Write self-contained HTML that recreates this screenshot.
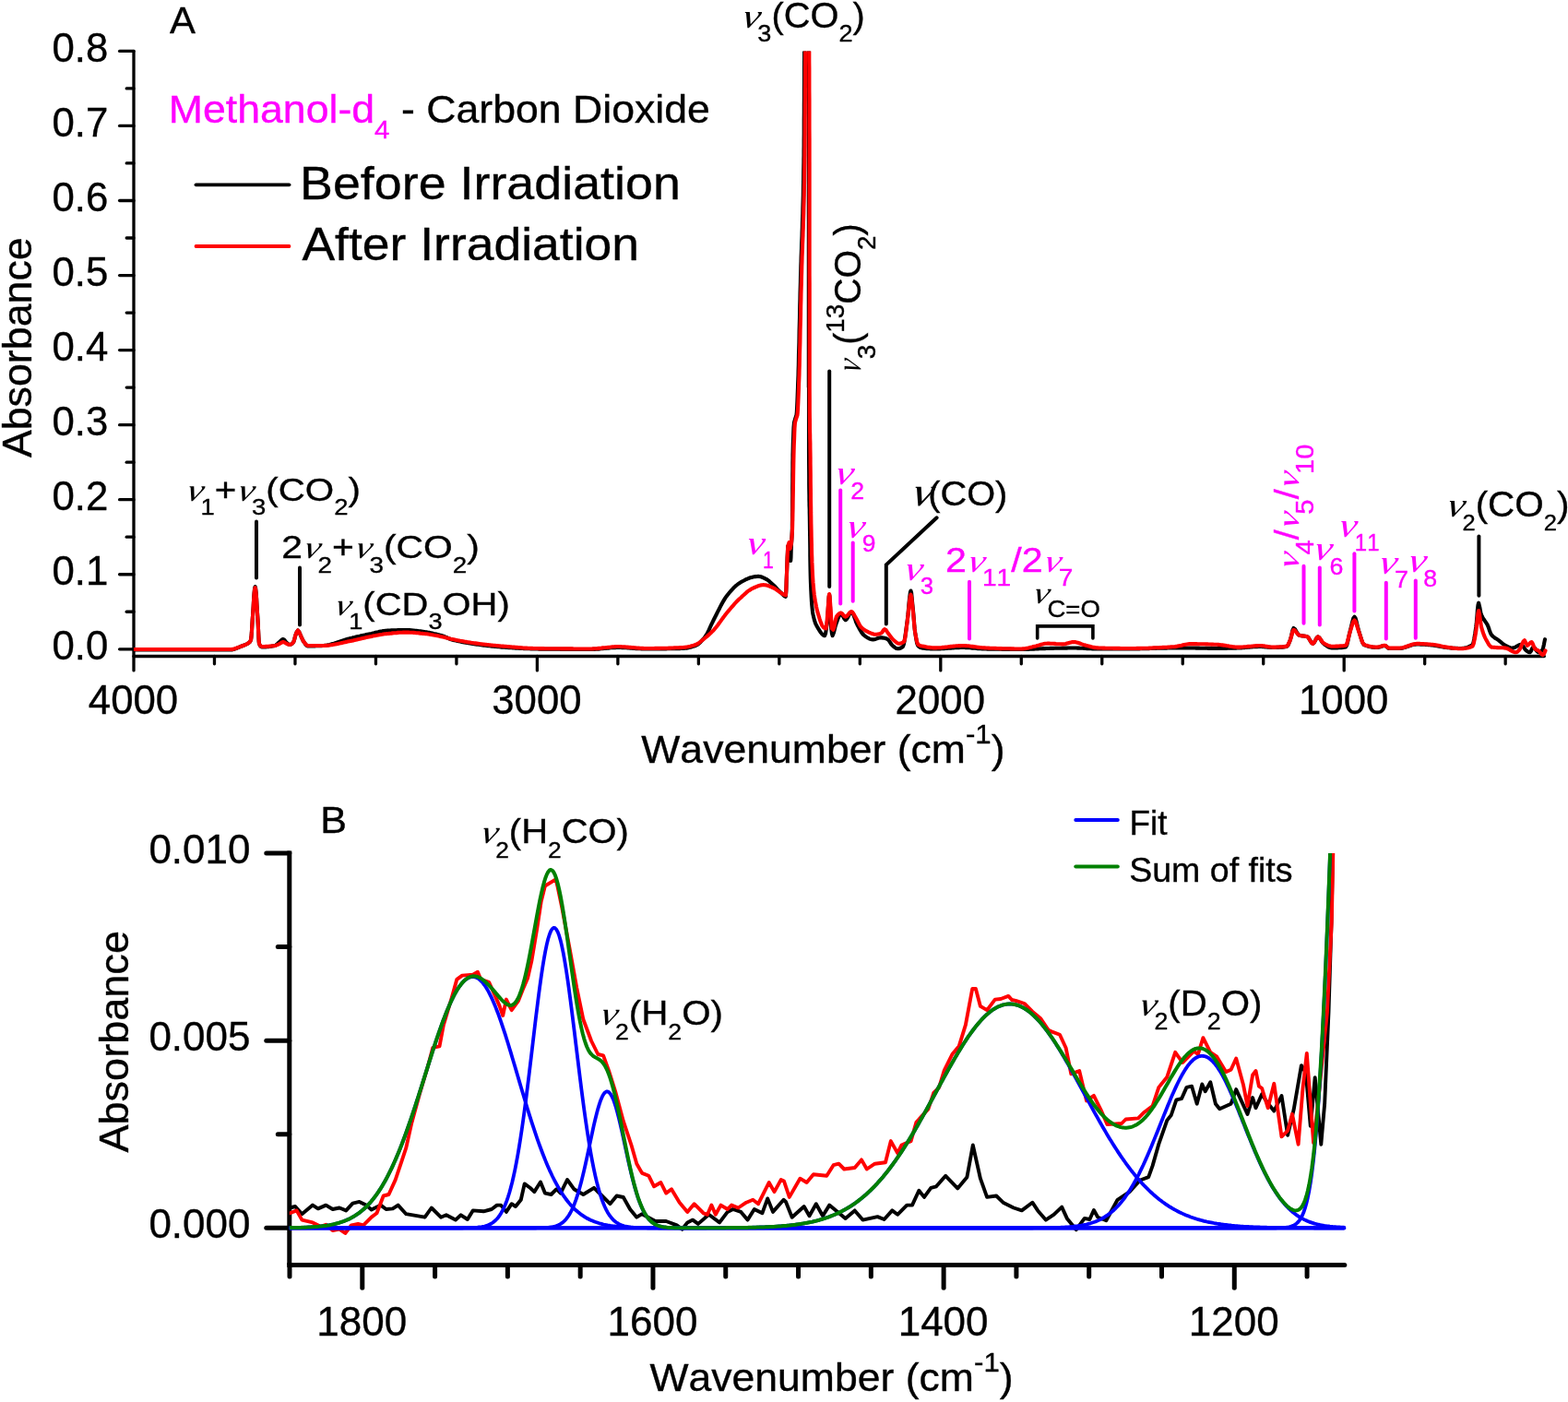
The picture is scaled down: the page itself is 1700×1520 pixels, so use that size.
<!DOCTYPE html>
<html lang="en"><head><meta charset="utf-8"><title>Infrared spectra</title>
<style>
html,body{margin:0;padding:0;background:#fff}
svg{display:block}
text{font-family:"Liberation Sans", Arial, sans-serif;white-space:pre;font-kerning:none}
.n{font-family:"Liberation Serif", "Times New Roman", serif}
</style></head><body>
<svg width="1700" height="1520" viewBox="0 0 1700 1520" role="img" aria-label="Infrared spectra of methanol-d4 and carbon dioxide ice before and after irradiation">
<rect width="1700" height="1520" fill="#fff"/>
<!-- panel A -->
<g stroke="#000" stroke-width="3.30" stroke-linecap="round" fill="none">
<path d="M145.00 55.40 V726.90"/>
<path d="M145.00 711.50 H1674.35"/>
<path d="M129.60 703.80 H145.00"/>
<path d="M137.20 663.27 H145.00"/>
<path d="M129.60 622.75 H145.00"/>
<path d="M137.20 582.22 H145.00"/>
<path d="M129.60 541.70 H145.00"/>
<path d="M137.20 501.17 H145.00"/>
<path d="M129.60 460.65 H145.00"/>
<path d="M137.20 420.12 H145.00"/>
<path d="M129.60 379.60 H145.00"/>
<path d="M137.20 339.07 H145.00"/>
<path d="M129.60 298.55 H145.00"/>
<path d="M137.20 258.02 H145.00"/>
<path d="M129.60 217.50 H145.00"/>
<path d="M137.20 176.97 H145.00"/>
<path d="M129.60 136.45 H145.00"/>
<path d="M137.20 95.92 H145.00"/>
<path d="M129.60 55.40 H145.00"/>
<path d="M232.48 711.50 V719.80"/>
<path d="M319.96 711.50 V719.80"/>
<path d="M407.44 711.50 V719.80"/>
<path d="M494.92 711.50 V719.80"/>
<path d="M582.40 711.50 V726.90"/>
<path d="M669.88 711.50 V719.80"/>
<path d="M757.36 711.50 V719.80"/>
<path d="M844.84 711.50 V719.80"/>
<path d="M932.32 711.50 V719.80"/>
<path d="M1019.80 711.50 V726.90"/>
<path d="M1107.28 711.50 V719.80"/>
<path d="M1194.76 711.50 V719.80"/>
<path d="M1282.24 711.50 V719.80"/>
<path d="M1369.72 711.50 V719.80"/>
<path d="M1457.20 711.50 V726.90"/>
<path d="M1544.68 711.50 V719.80"/>
<path d="M1632.16 711.50 V719.80"/>
</g>
<g font-size="43.8" fill="#000" stroke="#000" stroke-width="0.35">
<text x="117.3" y="715.00" text-anchor="end">0.0</text>
<text x="117.3" y="633.95" text-anchor="end">0.1</text>
<text x="117.3" y="552.90" text-anchor="end">0.2</text>
<text x="117.3" y="471.85" text-anchor="end">0.3</text>
<text x="117.3" y="390.80" text-anchor="end">0.4</text>
<text x="117.3" y="309.75" text-anchor="end">0.5</text>
<text x="117.3" y="228.70" text-anchor="end">0.6</text>
<text x="117.3" y="147.65" text-anchor="end">0.7</text>
<text x="117.3" y="66.60" text-anchor="end">0.8</text>
<text x="144.50" y="773.6" text-anchor="middle">4000</text>
<text x="581.90" y="773.6" text-anchor="middle">3000</text>
<text x="1019.30" y="773.6" text-anchor="middle">2000</text>
<text x="1456.70" y="773.6" text-anchor="middle">1000</text>
</g>
<clipPath id="ca"><rect x="145.0" y="55.5" width="1533.0" height="665.0"/></clipPath>
<g clip-path="url(#ca)">
<polyline points="145.0,704.5 146.5,704.5 148.0,704.5 149.5,704.5 150.9,704.5 152.4,704.5 153.9,704.5 155.4,704.5 156.9,704.5 158.4,704.5 159.9,704.5 161.4,704.5 162.8,704.5 164.3,704.5 165.8,704.5 167.3,704.5 168.8,704.5 170.3,704.5 171.8,704.5 173.2,704.5 174.7,704.5 176.2,704.5 177.7,704.5 179.2,704.5 180.7,704.5 182.2,704.5 183.6,704.5 185.1,704.5 186.6,704.5 188.1,704.5 189.6,704.5 191.1,704.5 192.6,704.5 194.1,704.5 195.5,704.5 197.0,704.5 198.5,704.5 200.0,704.5 201.5,704.5 202.9,704.5 204.4,704.5 205.9,704.5 207.4,704.5 208.8,704.5 210.3,704.5 211.8,704.5 213.2,704.5 214.7,704.5 216.2,704.5 217.6,704.5 219.1,704.5 220.6,704.5 222.1,704.5 223.5,704.5 225.0,704.5 226.5,704.5 227.9,704.5 229.4,704.5 230.9,704.5 232.4,704.5 233.8,704.5 235.3,704.5 236.8,704.5 238.2,704.5 239.7,704.5 241.2,704.5 242.6,704.5 244.1,704.5 245.6,704.5 247.1,704.5 248.5,704.5 250.0,704.5 251.5,704.4 253.0,704.1 254.5,703.6 256.0,703.1 257.5,702.4 259.0,701.8 260.5,701.1 262.0,700.5 263.5,700.0 265.0,699.4 266.5,698.8 268.0,698.0 269.3,697.2 270.7,696.1 272.0,694.0 272.4,691.1 272.9,685.3 273.3,678.3 273.7,672.0 274.2,665.1 274.7,657.2 275.1,649.4 275.6,642.6 276.1,637.8 276.6,636.0 277.1,637.7 277.6,642.2 278.1,648.7 278.5,656.3 279.0,664.4 279.5,672.0 279.8,677.4 280.1,684.0 280.4,690.4 280.7,695.5 281.0,698.0 282.5,700.7 284.0,701.5 285.4,701.5 286.8,701.4 288.2,701.4 289.6,701.3 291.0,701.1 292.4,701.0 293.8,700.8 295.2,700.5 296.6,700.3 298.0,700.0 299.2,699.4 300.5,698.3 301.8,697.1 303.0,696.0 304.3,694.8 305.7,693.5 307.0,693.0 308.3,693.8 309.7,695.5 311.0,697.0 312.5,698.3 314.0,699.0 315.4,698.6 316.9,697.6 318.3,696.0 319.3,692.8 320.3,689.0 321.6,685.4 323.0,683.5 324.5,685.5 326.0,689.0 327.4,692.2 328.8,695.0 330.1,696.9 331.4,698.7 332.7,700.0 334.0,700.5 335.5,700.5 336.9,700.5 338.4,700.5 339.8,700.4 341.3,700.4 342.7,700.3 344.2,700.3 345.6,700.2 347.1,700.1 348.5,700.1 350.0,700.0 351.5,699.9 353.0,699.7 354.5,699.5 356.0,699.2 357.5,698.9 359.0,698.5 360.5,698.1 362.0,697.7 363.5,697.2 365.0,696.7 366.5,696.2 368.0,695.7 369.5,695.2 371.0,694.7 372.5,694.2 374.0,693.7 375.5,693.2 377.0,692.8 378.5,692.4 380.0,692.0 381.4,691.7 382.9,691.3 384.3,691.0 385.7,690.6 387.1,690.3 388.6,690.0 390.0,689.7 391.4,689.3 392.9,689.0 394.3,688.7 395.7,688.4 397.1,688.1 398.6,687.8 400.0,687.5 401.4,687.2 402.9,686.9 404.3,686.5 405.7,686.2 407.1,685.8 408.6,685.5 410.0,685.2 411.4,684.8 412.9,684.5 414.3,684.3 415.7,684.0 417.1,683.9 418.6,683.7 420.0,683.6 421.4,683.5 422.9,683.5 424.3,683.4 425.7,683.3 427.1,683.3 428.6,683.2 430.0,683.2 431.4,683.1 432.9,683.1 434.3,683.1 435.7,683.0 437.1,683.0 438.6,683.0 440.0,683.0 441.4,683.0 442.9,683.1 444.3,683.1 445.7,683.2 447.1,683.4 448.6,683.5 450.0,683.7 451.4,683.8 452.9,684.0 454.3,684.2 455.7,684.4 457.1,684.6 458.6,684.8 460.0,685.0 461.4,685.2 462.9,685.4 464.3,685.7 465.7,685.9 467.1,686.2 468.6,686.5 470.0,686.9 471.4,687.2 472.9,687.5 474.3,687.9 475.7,688.3 477.1,688.7 478.6,689.1 480.0,689.5 481.4,690.0 482.9,690.6 484.3,691.2 485.7,691.9 487.1,692.5 488.6,693.0 490.0,693.5 491.5,693.9 493.0,694.3 494.5,694.6 496.0,695.0 497.5,695.3 499.0,695.6 500.5,695.9 502.0,696.2 503.5,696.5 505.0,696.8 506.5,697.0 508.0,697.3 509.5,697.5 511.0,697.7 512.5,698.0 514.0,698.2 515.5,698.4 517.0,698.6 518.5,698.8 520.0,699.0 521.5,699.2 523.0,699.4 524.5,699.6 526.0,699.7 527.5,699.9 529.0,700.1 530.5,700.3 532.0,700.4 533.5,700.6 535.0,700.7 536.5,700.9 538.0,701.0 539.5,701.2 541.0,701.3 542.5,701.4 544.0,701.6 545.5,701.7 547.0,701.8 548.5,701.9 550.0,702.0 551.5,702.1 553.0,702.2 554.5,702.3 556.0,702.4 557.5,702.5 559.0,702.6 560.5,702.7 562.0,702.8 563.5,702.9 565.0,702.9 566.5,703.0 568.0,703.1 569.5,703.2 571.0,703.2 572.5,703.3 574.0,703.3 575.5,703.4 577.0,703.4 578.5,703.5 580.0,703.5 581.5,703.5 583.0,703.5 584.5,703.6 586.0,703.6 587.5,703.6 589.0,703.6 590.5,703.7 592.0,703.7 593.5,703.7 595.0,703.7 596.5,703.7 598.0,703.7 599.5,703.8 601.0,703.8 602.5,703.8 604.0,703.8 605.5,703.8 607.0,703.8 608.5,703.9 610.0,703.9 611.5,703.9 613.0,703.9 614.5,703.9 616.0,703.9 617.5,703.9 619.0,703.9 620.5,703.9 622.0,704.0 623.5,704.0 625.0,704.0 626.5,704.0 628.0,704.0 629.5,704.0 631.0,704.0 632.5,704.0 634.0,704.0 635.5,704.0 637.0,704.0 638.5,704.0 640.0,704.0 641.5,704.0 643.0,703.9 644.5,703.9 646.0,703.8 647.5,703.7 649.0,703.6 650.5,703.4 652.0,703.3 653.5,703.1 655.0,703.0 656.5,702.9 658.0,702.7 659.5,702.6 661.0,702.4 662.5,702.3 664.0,702.2 665.5,702.1 667.0,702.1 668.5,702.0 670.0,702.0 671.5,702.0 673.0,702.0 674.5,702.1 676.0,702.2 677.5,702.2 679.0,702.3 680.5,702.4 682.0,702.5 683.5,702.6 685.0,702.8 686.5,702.9 688.0,703.0 689.5,703.1 691.0,703.2 692.5,703.3 694.0,703.3 695.5,703.4 697.0,703.5 698.5,703.5 700.0,703.5 701.5,703.5 703.0,703.5 704.4,703.5 705.9,703.5 707.4,703.5 708.9,703.5 710.4,703.5 711.9,703.5 713.3,703.5 714.8,703.4 716.3,703.4 717.8,703.4 719.3,703.4 720.7,703.4 722.2,703.4 723.7,703.3 725.2,703.3 726.7,703.3 728.1,703.3 729.6,703.2 731.1,703.2 732.6,703.2 734.1,703.1 735.6,703.1 737.0,703.1 738.5,703.0 740.0,703.0 741.4,702.9 742.8,702.8 744.2,702.6 745.6,702.4 747.0,702.1 748.4,701.7 749.8,701.4 751.2,700.9 752.6,700.5 754.0,700.0 755.4,699.3 756.9,698.4 758.3,697.2 759.7,695.9 761.1,694.4 762.6,692.7 764.0,691.0 765.4,689.0 766.9,686.4 768.3,683.6 769.7,680.5 771.1,677.4 772.6,674.3 774.0,671.5 775.4,668.8 776.8,666.0 778.2,663.2 779.6,660.5 781.0,657.7 782.4,655.0 783.8,652.5 785.2,650.1 786.6,647.9 788.0,646.0 789.4,644.2 790.8,642.5 792.2,640.9 793.6,639.3 795.0,637.8 796.4,636.4 797.8,635.1 799.2,634.0 800.6,632.9 802.0,632.0 803.5,631.1 804.9,630.3 806.4,629.5 807.8,628.7 809.2,628.0 810.7,627.4 812.1,626.8 813.6,626.3 815.0,625.9 816.5,625.6 817.9,625.3 819.2,625.1 820.6,625.0 822.0,624.9 823.4,625.0 824.9,625.3 826.3,625.8 827.7,626.4 829.2,627.1 830.6,627.8 832.0,628.6 833.4,629.6 834.8,630.9 836.2,632.2 837.6,633.5 839.0,634.8 840.4,636.1 841.8,637.6 843.2,639.1 844.7,640.6 846.1,642.0 847.5,643.3 848.9,644.8 850.4,646.2 851.8,646.8 852.0,645.3 852.3,641.2 852.5,635.5 852.7,628.9 853.0,622.3 853.2,616.5 853.4,611.0 853.6,604.7 853.9,598.8 854.1,594.2 854.3,592.0 855.6,590.0 856.1,594.7 856.7,603.3 857.2,608.0 857.5,604.5 857.7,597.1 858.0,590.0 858.3,585.6 858.5,581.5 858.8,575.0 858.9,572.6 858.9,568.8 859.0,563.9 859.0,558.1 859.1,551.6 859.1,544.5 859.2,537.1 859.2,529.5 859.3,522.1 859.3,514.9 859.4,508.2 859.4,502.1 859.5,496.9 859.5,492.8 859.6,490.0 859.8,481.3 860.1,474.0 860.3,468.1 860.5,463.4 860.8,460.1 861.0,458.0 862.2,453.9 863.5,450.0 863.8,447.0 864.1,441.9 864.4,435.3 864.7,427.8 865.0,420.0 865.1,415.9 865.3,411.4 865.5,406.5 865.6,401.3 865.8,395.8 865.9,390.0 866.0,383.9 866.2,377.7 866.4,371.2 866.5,364.7 866.6,358.0 866.8,351.3 867.0,344.6 867.1,337.9 867.2,331.2 867.4,324.7 867.5,318.2 867.7,311.9 867.9,305.9 868.0,300.0 868.2,294.0 868.3,288.5 868.5,283.3 868.6,278.5 868.8,273.8 869.0,269.3 869.1,264.9 869.3,260.5 869.5,256.0 869.6,251.5 869.8,246.8 869.9,241.9 870.1,236.6 870.3,231.0 870.4,225.0 870.6,218.5 870.8,211.3 870.9,203.6 871.1,195.2 871.2,186.0 871.4,176.0 871.4,172.8 871.5,168.7 871.5,163.8 871.6,158.2 871.6,152.0 871.7,145.2 871.7,138.0 871.7,130.3 871.8,122.4 871.8,114.2 871.9,105.9 871.9,97.5 872.0,89.1 872.0,80.9 872.0,72.8 872.1,65.0 872.1,57.6 872.2,50.6 872.2,44.1 872.2,38.2 872.3,33.0 872.3,28.5 872.4,24.9 872.4,22.2 872.5,20.6 872.5,20.0 873.9,20.0 875.4,20.0 876.8,20.0 876.8,20.3 876.8,21.0 876.8,22.3 876.8,24.1 876.8,26.4 876.8,29.0 876.8,32.2 876.8,35.7 876.8,39.7 876.8,44.1 876.8,48.8 876.8,53.9 876.8,59.3 876.8,65.1 876.8,71.2 876.8,77.5 876.8,84.2 876.8,91.1 876.8,98.3 876.8,105.6 876.8,113.3 876.8,121.1 876.8,129.0 876.8,137.2 876.8,145.5 876.8,154.0 876.8,162.5 876.8,171.2 876.8,179.9 876.8,188.8 876.8,197.7 876.8,206.6 876.8,215.5 876.8,224.5 876.8,233.4 876.8,242.3 876.8,251.2 876.8,260.1 876.8,268.8 876.8,277.5 876.8,286.0 876.8,294.5 876.8,302.8 876.8,311.0 876.8,318.9 876.8,326.7 876.8,334.4 876.8,341.7 876.8,348.9 876.8,355.8 876.8,362.5 876.8,368.8 876.8,374.9 876.8,380.7 876.8,386.1 876.8,391.2 876.8,395.9 876.8,400.3 876.8,404.3 876.8,407.8 876.8,411.0 876.8,413.6 876.8,415.9 876.8,417.7 876.8,419.0 876.8,419.7 876.8,420.0 876.9,419.6 876.9,418.3 876.9,416.3 876.9,413.5 876.9,410.0 876.9,405.9 876.9,401.1 876.9,395.8 876.9,389.9 876.9,383.5 876.9,376.7 876.9,369.5 876.9,362.0 876.9,354.1 876.9,345.9 876.9,337.5 876.9,328.9 876.9,320.2 876.9,311.4 876.9,302.5 876.9,293.5 876.9,284.6 876.9,275.8 876.9,267.1 876.9,258.5 876.9,250.1 876.9,241.9 877.0,234.0 877.0,226.5 877.0,219.3 877.0,212.5 877.0,206.1 877.0,200.2 877.0,194.9 877.0,190.1 877.0,186.0 877.0,182.5 877.0,179.7 877.0,177.7 877.0,176.4 877.0,176.0 877.0,176.3 877.0,177.3 877.0,178.9 877.0,181.0 877.0,183.8 877.0,187.0 877.0,190.8 877.0,195.1 877.0,199.8 877.0,204.9 877.0,210.5 877.0,216.5 877.0,222.8 877.0,229.5 877.0,236.5 877.0,243.8 877.0,251.3 877.0,259.1 877.0,267.1 877.0,275.3 877.0,283.6 877.0,292.1 877.0,300.7 877.0,309.4 877.0,318.2 877.0,327.0 877.0,335.8 877.0,344.6 877.0,353.4 877.0,362.1 877.0,370.8 877.0,379.3 877.0,387.7 877.0,396.0 877.0,404.0 877.0,411.9 877.0,419.5 877.0,426.9 877.0,434.0 877.0,440.8 877.0,447.3 877.0,453.4 877.0,459.1 877.0,464.4 877.0,469.3 877.0,473.7 877.0,477.7 877.0,481.2 877.0,484.1 877.0,486.4 877.0,488.2 877.0,489.4 877.0,490.0 877.1,504.5 877.2,516.1 877.2,525.3 877.3,532.4 877.4,537.8 877.4,541.8 877.5,545.0 877.5,547.6 877.6,550.0 877.7,552.6 877.7,555.8 877.8,560.0 877.9,567.1 878.0,574.4 878.1,581.6 878.2,588.8 878.3,595.7 878.3,602.4 878.4,608.7 878.5,614.5 878.6,619.6 878.7,624.1 878.8,627.8 878.9,630.6 879.3,640.2 879.7,648.2 880.1,654.6 880.6,659.6 881.0,663.3 881.4,665.9 882.8,671.9 884.2,676.1 885.7,679.0 887.1,681.4 888.5,683.6 889.9,685.8 891.3,687.5 892.7,688.7 894.1,689.2 895.1,686.7 896.0,680.7 897.0,673.0 897.4,667.9 897.8,660.6 898.3,653.0 898.7,647.1 899.1,644.7 899.4,646.4 899.7,651.0 900.0,657.3 900.3,664.6 900.6,671.6 900.9,677.6 901.2,681.4 901.9,686.7 902.6,689.2 904.0,685.7 905.4,680.0 906.8,675.5 908.3,671.3 909.7,668.0 910.8,666.0 911.8,665.0 913.0,666.1 914.2,668.6 915.5,671.1 916.7,672.2 918.0,671.3 919.3,669.1 920.5,666.6 921.8,664.4 923.1,663.5 924.4,664.6 925.6,667.2 926.9,670.7 928.1,674.3 929.4,677.2 930.8,679.9 932.2,682.5 933.7,685.0 935.1,687.0 936.5,688.5 937.9,689.6 939.3,690.6 940.7,691.5 942.2,692.3 943.6,692.9 945.0,693.3 946.4,693.4 947.8,693.2 949.2,692.9 950.6,692.4 952.0,691.8 953.4,691.5 954.8,691.3 956.2,691.4 957.6,691.6 959.1,691.8 960.5,692.2 961.9,692.7 963.3,693.9 964.7,695.9 966.1,698.1 967.5,699.8 968.9,701.0 970.4,702.1 971.8,703.0 973.2,703.3 974.6,703.2 976.0,702.8 977.4,702.1 978.8,701.2 979.8,698.8 980.8,693.8 981.8,687.0 982.8,679.4 983.8,672.0 984.4,666.7 985.0,660.0 985.6,653.0 986.3,646.8 986.9,642.2 987.5,640.5 988.1,642.5 988.6,647.5 989.2,653.9 989.8,660.0 990.3,665.1 990.8,670.9 991.2,676.7 991.7,682.0 992.2,686.0 993.2,692.2 994.1,697.2 995.1,699.8 996.3,701.0 997.5,701.8 998.8,702.3 1000.0,702.6 1001.5,702.8 1003.0,703.0 1004.5,703.1 1006.0,703.2 1007.5,703.3 1009.0,703.4 1010.5,703.5 1012.0,703.5 1013.5,703.5 1015.0,703.5 1016.4,703.5 1017.9,703.4 1019.3,703.4 1020.8,703.3 1022.2,703.2 1023.7,703.1 1025.1,703.0 1026.6,702.9 1028.0,702.8 1029.5,702.7 1030.9,702.6 1032.4,702.5 1033.8,702.4 1035.3,702.3 1036.7,702.2 1038.2,702.1 1039.6,702.1 1041.1,702.0 1042.5,702.0 1044.0,702.0 1045.5,702.0 1047.0,702.1 1048.4,702.1 1049.9,702.2 1051.4,702.3 1052.8,702.4 1054.3,702.6 1055.8,702.7 1057.3,702.8 1058.8,702.9 1060.2,703.1 1061.7,703.2 1063.2,703.3 1064.6,703.4 1066.1,703.5 1067.6,703.5 1069.1,703.5 1070.6,703.6 1072.0,703.6 1073.5,703.6 1075.0,703.7 1076.5,703.7 1078.0,703.7 1079.5,703.7 1080.9,703.8 1082.4,703.8 1083.9,703.8 1085.4,703.8 1086.9,703.9 1088.3,703.9 1089.8,703.9 1091.3,703.9 1092.8,703.9 1094.3,703.9 1095.7,703.9 1097.2,704.0 1098.7,704.0 1100.2,704.0 1101.7,704.0 1103.2,704.0 1104.6,704.0 1106.1,704.0 1107.6,704.0 1109.1,704.0 1110.6,704.0 1112.1,703.9 1113.6,703.9 1115.0,703.9 1116.5,703.8 1118.0,703.8 1119.5,703.7 1121.0,703.6 1122.5,703.5 1124.0,703.5 1125.5,703.4 1127.0,703.3 1128.5,703.3 1129.9,703.2 1131.4,703.1 1132.9,703.1 1134.4,703.0 1135.9,703.0 1137.4,703.0 1138.9,702.9 1140.3,702.9 1141.8,702.9 1143.3,702.8 1144.8,702.8 1146.3,702.7 1147.7,702.7 1149.2,702.7 1150.7,702.7 1152.2,702.6 1153.6,702.6 1155.1,702.6 1156.6,702.6 1158.1,702.5 1159.6,702.5 1161.0,702.5 1162.5,702.5 1164.0,702.5 1165.4,702.5 1166.9,702.5 1168.3,702.6 1169.8,702.6 1171.2,702.7 1172.7,702.8 1174.1,702.8 1175.6,702.9 1177.0,703.0 1178.4,703.1 1179.9,703.2 1181.3,703.2 1182.8,703.3 1184.2,703.4 1185.7,703.4 1187.1,703.5 1188.6,703.5 1190.0,703.5 1191.5,703.5 1192.9,703.5 1194.4,703.5 1195.8,703.5 1197.3,703.5 1198.8,703.5 1200.2,703.5 1201.7,703.5 1203.1,703.5 1204.6,703.5 1206.0,703.5 1207.5,703.5 1209.0,703.5 1210.4,703.5 1211.9,703.5 1213.3,703.5 1214.8,703.5 1216.2,703.5 1217.7,703.5 1219.2,703.5 1220.6,703.5 1222.1,703.5 1223.5,703.5 1225.0,703.5 1226.5,703.5 1227.9,703.5 1229.4,703.5 1230.9,703.5 1232.3,703.4 1233.8,703.4 1235.3,703.4 1236.8,703.3 1238.2,703.3 1239.7,703.3 1241.2,703.2 1242.6,703.2 1244.1,703.1 1245.6,703.1 1247.0,703.0 1248.5,703.0 1250.0,703.0 1251.4,702.9 1252.9,702.9 1254.4,702.8 1255.8,702.8 1257.3,702.7 1258.8,702.7 1260.2,702.7 1261.7,702.6 1263.2,702.6 1264.7,702.6 1266.1,702.5 1267.6,702.5 1269.1,702.5 1270.5,702.5 1272.0,702.5 1273.5,702.5 1274.9,702.5 1276.4,702.5 1277.8,702.5 1279.3,702.5 1280.8,702.5 1282.2,702.5 1283.7,702.5 1285.2,702.5 1286.6,702.5 1288.1,702.5 1289.5,702.5 1291.0,702.5 1292.5,702.5 1293.9,702.5 1295.4,702.5 1296.9,702.6 1298.4,702.6 1299.8,702.6 1301.3,702.7 1302.8,702.7 1304.3,702.7 1305.7,702.8 1307.2,702.8 1308.7,702.8 1310.2,702.9 1311.6,702.9 1313.1,702.9 1314.6,703.0 1316.1,703.0 1317.5,703.0 1319.0,703.0 1320.5,703.0 1322.0,703.0 1323.5,703.0 1325.0,703.0 1326.5,702.9 1328.0,702.9 1329.5,702.9 1331.0,702.8 1332.5,702.8 1334.0,702.8 1335.5,702.7 1337.0,702.7 1338.5,702.6 1340.0,702.6 1341.5,702.5 1343.0,702.5 1344.4,702.4 1345.9,702.4 1347.3,702.3 1348.8,702.2 1350.2,702.0 1351.6,701.9 1353.1,701.8 1354.5,701.7 1355.9,701.5 1357.4,701.4 1358.8,701.3 1360.2,701.2 1361.7,701.1 1363.1,701.1 1364.6,701.0 1366.0,701.0 1367.4,701.0 1368.8,701.1 1370.2,701.2 1371.6,701.4 1373.0,701.5 1374.4,701.6 1375.8,701.8 1377.2,701.9 1378.6,702.0 1380.0,702.0 1381.5,702.0 1383.0,702.0 1384.5,701.9 1386.0,701.9 1387.5,701.8 1389.0,701.7 1390.5,701.6 1392.0,701.4 1393.5,701.2 1395.0,701.0 1396.3,699.8 1397.5,697.1 1398.8,694.0 1400.1,689.3 1401.3,683.7 1402.6,681.0 1404.0,682.1 1405.4,684.5 1406.8,687.0 1408.2,688.5 1409.5,688.9 1410.9,689.2 1412.2,689.4 1413.6,689.5 1414.9,689.7 1416.3,690.0 1417.6,690.4 1419.0,691.9 1420.4,694.4 1421.9,696.8 1423.3,697.9 1424.7,696.7 1426.1,694.2 1427.5,691.6 1428.9,690.4 1430.3,691.3 1431.8,693.4 1433.2,695.8 1434.6,697.5 1435.9,698.5 1437.3,699.5 1438.6,700.5 1440.0,701.3 1441.3,701.9 1442.7,702.3 1444.0,702.5 1445.5,702.5 1447.0,702.5 1448.5,702.4 1450.0,702.4 1451.5,702.3 1453.0,702.2 1454.5,702.1 1456.0,701.9 1457.5,701.7 1459.0,701.5 1460.2,699.4 1461.4,694.7 1462.6,689.0 1463.8,684.0 1465.0,679.3 1466.2,674.3 1467.3,670.3 1468.5,668.7 1469.7,670.4 1470.8,674.6 1472.0,679.7 1473.2,684.0 1474.6,688.5 1476.0,693.2 1477.4,697.1 1478.8,699.0 1480.2,699.6 1481.6,700.1 1483.0,700.6 1484.4,701.0 1485.8,701.3 1487.3,701.6 1488.7,701.8 1490.1,701.9 1491.5,702.0 1492.9,702.0 1494.3,701.9 1495.7,701.5 1497.2,701.0 1498.6,700.5 1500.0,700.1 1501.4,700.0 1502.6,700.5 1503.7,701.5 1504.8,702.5 1506.0,703.0 1507.4,703.0 1508.8,703.0 1510.1,703.0 1511.5,703.0 1512.9,703.0 1514.2,703.0 1515.6,703.0 1517.0,703.0 1518.5,702.9 1519.9,702.7 1521.4,702.4 1522.8,702.0 1524.3,701.5 1525.8,701.0 1527.2,700.5 1528.7,700.0 1530.2,699.5 1531.6,699.1 1533.1,698.8 1534.5,698.6 1536.0,698.5 1537.4,698.5 1538.8,698.5 1540.2,698.6 1541.7,698.6 1543.1,698.7 1544.5,698.8 1545.9,698.9 1547.3,699.0 1548.8,699.1 1550.2,699.3 1551.6,699.4 1553.0,699.5 1554.5,699.7 1556.0,699.9 1557.5,700.1 1559.0,700.4 1560.5,700.7 1562.0,701.0 1563.5,701.3 1565.0,701.6 1566.5,701.8 1568.0,702.0 1569.5,702.1 1571.0,702.3 1572.5,702.4 1574.0,702.6 1575.5,702.7 1577.0,702.8 1578.5,702.9 1580.0,702.9 1581.5,703.0 1583.0,703.0 1584.5,703.0 1586.0,702.8 1587.5,702.6 1589.0,702.3 1590.5,701.9 1592.0,701.4 1593.5,700.7 1595.0,699.9 1596.5,699.0 1597.4,696.8 1598.3,692.3 1599.3,686.3 1600.2,680.0 1600.8,674.8 1601.4,667.9 1601.9,661.0 1602.5,655.7 1603.1,653.6 1604.3,658.4 1605.5,665.0 1606.6,667.6 1607.6,669.7 1608.7,671.5 1610.0,673.4 1611.2,675.2 1612.5,677.2 1613.7,679.9 1614.8,683.2 1616.0,686.4 1617.2,688.5 1618.7,690.0 1620.2,691.2 1621.7,692.2 1623.2,693.1 1624.7,694.1 1626.2,695.3 1627.7,696.6 1629.2,697.8 1630.7,698.9 1632.2,699.8 1633.5,700.4 1634.7,701.1 1636.0,701.7 1637.3,702.2 1638.5,702.5 1639.8,702.6 1641.1,702.4 1642.5,701.8 1643.8,701.1 1645.2,700.3 1646.5,699.6 1647.9,699.0 1649.2,698.8 1650.6,699.7 1652.0,701.6 1653.4,703.8 1654.8,705.4 1656.1,706.3 1657.3,707.0 1658.6,707.3 1659.9,705.8 1661.1,703.1 1662.4,701.6 1663.8,702.5 1665.2,704.5 1666.6,706.4 1668.0,707.3 1669.3,707.1 1670.5,706.4 1671.8,705.4 1672.9,703.1 1673.9,698.7 1675.0,693.2" fill="none" stroke="#000" stroke-width="4.10" stroke-linejoin="round" stroke-linecap="round" />
<polyline points="145.0,704.0 146.5,704.0 148.0,704.0 149.5,704.0 150.9,704.0 152.4,704.0 153.9,704.0 155.4,704.0 156.9,704.0 158.4,704.0 159.9,704.0 161.4,704.0 162.8,704.0 164.3,704.0 165.8,704.0 167.3,704.0 168.8,704.0 170.3,704.0 171.8,704.0 173.2,704.0 174.7,704.0 176.2,704.0 177.7,704.0 179.2,704.0 180.7,704.0 182.2,704.0 183.6,704.0 185.1,704.0 186.6,704.0 188.1,704.0 189.6,704.0 191.1,704.0 192.6,704.0 194.1,704.0 195.5,704.0 197.0,704.0 198.5,704.0 200.0,704.0 201.5,704.0 202.9,704.0 204.4,704.0 205.9,704.0 207.4,704.0 208.8,704.0 210.3,704.0 211.8,704.0 213.2,704.0 214.7,704.0 216.2,704.0 217.6,704.0 219.1,704.0 220.6,704.0 222.1,704.0 223.5,704.0 225.0,704.0 226.5,704.0 227.9,704.0 229.4,704.0 230.9,704.0 232.4,704.0 233.8,704.0 235.3,704.0 236.8,704.0 238.2,704.0 239.7,704.0 241.2,704.0 242.6,704.0 244.1,704.0 245.6,704.0 247.1,704.0 248.5,704.0 250.0,704.0 251.5,703.9 253.0,703.7 254.5,703.3 256.0,702.8 257.5,702.2 259.0,701.6 260.5,701.1 262.0,700.5 263.5,700.0 265.0,699.4 266.5,698.8 268.0,698.0 269.3,697.2 270.7,696.1 272.0,694.0 272.4,691.1 272.9,685.2 273.3,678.3 273.7,672.0 274.2,665.2 274.7,657.5 275.1,650.0 275.6,643.4 276.1,638.8 276.6,637.0 277.1,638.6 277.6,643.0 278.1,649.2 278.5,656.7 279.0,664.5 279.5,672.0 279.8,677.4 280.1,684.0 280.4,690.5 280.7,695.6 281.0,698.0 282.5,700.3 284.0,701.0 285.4,701.0 286.8,701.0 288.2,700.9 289.6,700.8 291.0,700.7 292.4,700.6 293.8,700.5 295.2,700.3 296.6,700.2 298.0,700.0 299.2,699.7 300.5,699.2 301.8,698.6 303.0,698.0 304.3,697.2 305.7,696.4 307.0,696.0 308.3,696.4 309.7,697.2 311.0,698.0 312.5,698.6 314.0,699.0 315.4,698.6 316.9,697.6 318.3,696.0 319.3,692.8 320.3,689.0 321.6,685.4 323.0,683.5 324.5,685.5 326.0,689.0 327.4,692.2 328.8,695.0 330.1,696.8 331.4,698.4 332.7,699.6 334.0,700.0 335.5,700.0 336.9,700.0 338.4,700.0 339.8,700.0 341.3,700.0 342.7,700.0 344.2,700.0 345.6,700.0 347.1,700.0 348.5,700.0 350.0,700.0 351.5,700.0 353.0,699.9 354.5,699.8 356.0,699.7 357.5,699.5 359.0,699.3 360.5,699.1 362.0,698.8 363.5,698.5 365.0,698.2 366.5,697.9 368.0,697.6 369.5,697.3 371.0,696.9 372.5,696.6 374.0,696.3 375.5,695.9 377.0,695.6 378.5,695.3 380.0,695.0 381.4,694.7 382.9,694.4 384.3,694.1 385.7,693.8 387.1,693.4 388.6,693.1 390.0,692.8 391.4,692.4 392.9,692.1 394.3,691.7 395.7,691.4 397.1,691.1 398.6,690.8 400.0,690.5 401.4,690.2 402.9,689.9 404.3,689.6 405.7,689.3 407.1,689.1 408.6,688.8 410.0,688.5 411.4,688.2 412.9,688.0 414.3,687.8 415.7,687.5 417.1,687.3 418.6,687.2 420.0,687.0 421.4,686.9 422.9,686.7 424.3,686.6 425.7,686.4 427.1,686.3 428.6,686.2 430.0,686.1 431.4,685.9 432.9,685.8 434.3,685.8 435.7,685.7 437.1,685.6 438.6,685.6 440.0,685.6 441.4,685.6 442.9,685.6 444.3,685.7 445.7,685.8 447.1,685.8 448.6,685.9 450.0,686.0 451.4,686.2 452.9,686.3 454.3,686.4 455.7,686.6 457.1,686.7 458.6,686.9 460.0,687.0 461.4,687.2 462.9,687.3 464.3,687.5 465.7,687.7 467.1,688.0 468.6,688.2 470.0,688.5 471.4,688.7 472.9,689.0 474.3,689.3 475.7,689.6 477.1,689.9 478.6,690.2 480.0,690.5 481.4,690.8 482.9,691.2 484.3,691.6 485.7,691.9 487.1,692.3 488.6,692.7 490.0,693.0 491.5,693.3 493.0,693.6 494.5,693.9 496.0,694.2 497.5,694.5 499.0,694.8 500.5,695.0 502.0,695.3 503.5,695.6 505.0,695.8 506.5,696.1 508.0,696.3 509.5,696.5 511.0,696.8 512.5,697.0 514.0,697.2 515.5,697.4 517.0,697.6 518.5,697.8 520.0,698.0 521.5,698.2 523.0,698.4 524.5,698.5 526.0,698.7 527.5,698.9 529.0,699.0 530.5,699.2 532.0,699.4 533.5,699.5 535.0,699.7 536.5,699.8 538.0,700.0 539.5,700.1 541.0,700.2 542.5,700.4 544.0,700.5 545.5,700.6 547.0,700.8 548.5,700.9 550.0,701.0 551.5,701.1 553.0,701.2 554.5,701.4 556.0,701.5 557.5,701.6 559.0,701.8 560.5,701.9 562.0,702.0 563.5,702.1 565.0,702.2 566.5,702.4 568.0,702.5 569.5,702.6 571.0,702.6 572.5,702.7 574.0,702.8 575.5,702.9 577.0,702.9 578.5,703.0 580.0,703.0 581.5,703.0 583.0,703.0 584.5,703.1 586.0,703.1 587.5,703.1 589.0,703.1 590.5,703.2 592.0,703.2 593.5,703.2 595.0,703.2 596.5,703.2 598.0,703.3 599.5,703.3 601.0,703.3 602.5,703.3 604.0,703.3 605.5,703.3 607.0,703.3 608.5,703.4 610.0,703.4 611.5,703.4 613.0,703.4 614.5,703.4 616.0,703.4 617.5,703.4 619.0,703.4 620.5,703.4 622.0,703.5 623.5,703.5 625.0,703.5 626.5,703.5 628.0,703.5 629.5,703.5 631.0,703.5 632.5,703.5 634.0,703.5 635.5,703.5 637.0,703.5 638.5,703.5 640.0,703.5 641.5,703.5 643.0,703.4 644.5,703.3 646.0,703.2 647.5,703.1 649.0,702.9 650.5,702.7 652.0,702.6 653.5,702.4 655.0,702.3 656.5,702.2 658.0,702.0 659.5,701.8 661.0,701.7 662.5,701.5 664.0,701.3 665.5,701.2 667.0,701.1 668.5,701.0 670.0,701.0 671.5,701.0 673.0,701.1 674.5,701.2 676.0,701.3 677.5,701.4 679.0,701.5 680.5,701.6 682.0,701.8 683.5,701.9 685.0,702.0 686.5,702.1 688.0,702.2 689.5,702.4 691.0,702.5 692.5,702.6 694.0,702.7 695.5,702.8 697.0,702.9 698.5,703.0 700.0,703.0 701.5,703.0 703.0,703.0 704.4,703.0 705.9,703.0 707.4,703.0 708.9,703.0 710.4,702.9 711.9,702.9 713.3,702.9 714.8,702.9 716.3,702.8 717.8,702.8 719.3,702.8 720.7,702.7 722.2,702.7 723.7,702.7 725.2,702.6 726.7,702.6 728.1,702.5 729.6,702.5 731.1,702.4 732.6,702.3 734.1,702.3 735.6,702.2 737.0,702.1 738.5,702.1 740.0,702.0 741.4,701.9 742.8,701.7 744.2,701.5 745.6,701.3 747.0,701.0 748.4,700.7 749.8,700.3 751.2,699.9 752.6,699.5 754.0,699.0 755.4,698.4 756.9,697.6 758.3,696.6 759.7,695.5 761.1,694.3 762.6,693.2 764.0,692.0 765.4,690.8 766.9,689.6 768.3,688.4 769.7,687.1 771.1,685.7 772.6,684.3 774.0,682.8 775.4,681.2 776.8,679.5 778.2,677.7 779.6,675.8 781.0,673.9 782.4,671.9 783.8,670.0 785.2,668.1 786.6,666.2 788.0,664.5 789.4,662.8 790.8,661.2 792.2,659.5 793.6,657.9 795.0,656.3 796.4,654.7 797.8,653.2 799.2,651.7 800.6,650.3 802.0,649.0 803.5,647.7 804.9,646.3 806.4,645.0 807.8,643.7 809.2,642.4 810.7,641.2 812.1,640.2 813.6,639.2 815.0,638.3 816.5,637.6 817.9,637.0 819.3,636.4 820.7,635.8 822.1,635.2 823.6,634.8 825.0,634.4 826.4,634.2 827.8,634.1 829.2,634.2 830.6,634.4 832.0,634.8 833.4,635.2 834.8,635.8 836.2,636.4 837.6,637.0 839.0,637.6 840.4,638.3 841.8,639.3 843.2,640.3 844.7,641.4 846.1,642.4 847.5,643.3 848.9,644.2 850.4,645.0 851.8,645.4 852.1,643.4 852.4,638.1 852.6,631.0 852.9,623.4 853.2,616.5 853.4,611.1 853.6,605.1 853.9,599.2 854.1,594.6 854.3,592.0 855.6,588.0 856.1,591.5 856.6,595.0 857.8,590.0 858.2,586.7 858.6,581.8 859.0,575.0 859.1,572.3 859.2,568.5 859.3,563.8 859.4,558.2 859.5,552.1 859.6,545.4 859.7,538.5 859.9,531.3 860.0,524.2 860.1,517.2 860.2,510.5 860.3,504.3 860.4,498.7 860.5,493.9 860.6,490.0 860.8,482.7 861.1,475.8 861.3,469.5 861.5,464.3 861.8,460.3 862.0,458.0 863.2,453.9 864.5,450.0 864.8,447.0 865.1,441.9 865.4,435.3 865.7,427.8 866.0,420.0 866.1,415.9 866.3,411.4 866.5,406.5 866.6,401.3 866.8,395.8 866.9,390.0 867.0,383.9 867.2,377.7 867.4,371.2 867.5,364.7 867.6,358.0 867.8,351.3 868.0,344.6 868.1,337.9 868.2,331.2 868.4,324.7 868.5,318.2 868.7,311.9 868.9,305.9 869.0,300.0 869.2,294.0 869.3,288.5 869.5,283.3 869.6,278.5 869.8,273.8 870.0,269.3 870.1,264.9 870.3,260.5 870.5,256.0 870.6,251.5 870.8,246.8 870.9,241.9 871.1,236.6 871.3,231.0 871.4,225.0 871.6,218.5 871.8,211.3 871.9,203.6 872.1,195.2 872.2,186.0 872.4,176.0 872.4,172.8 872.5,168.7 872.5,163.8 872.6,158.2 872.6,152.0 872.7,145.2 872.7,138.0 872.7,130.3 872.8,122.4 872.8,114.2 872.9,105.9 872.9,97.5 873.0,89.1 873.0,80.9 873.0,72.8 873.1,65.0 873.1,57.6 873.2,50.6 873.2,44.1 873.2,38.2 873.3,33.0 873.3,28.5 873.4,24.9 873.4,22.2 873.5,20.6 873.5,20.0 874.7,20.0 875.8,20.0 877.0,20.0 877.0,20.2 877.0,20.7 877.1,21.6 877.1,23.0 877.1,24.7 877.1,26.8 877.2,29.3 877.2,32.3 877.2,35.8 877.2,39.7 877.3,44.1 877.3,49.0 877.3,54.4 877.3,60.3 877.3,66.7 877.4,73.7 877.4,81.2 877.4,89.3 877.4,98.0 877.5,107.2 877.5,117.1 877.5,127.6 877.5,138.7 877.6,150.5 877.6,162.9 877.6,176.0 877.6,177.8 877.6,180.2 877.6,183.3 877.6,186.9 877.6,191.2 877.6,195.9 877.6,201.2 877.6,206.9 877.6,213.1 877.6,219.6 877.6,226.4 877.6,233.6 877.6,241.1 877.6,248.8 877.6,256.7 877.6,264.8 877.6,273.1 877.6,281.4 877.6,289.8 877.6,298.3 877.7,306.7 877.7,315.1 877.7,323.4 877.7,331.6 877.7,339.7 877.7,347.6 877.7,355.2 877.7,362.7 877.7,369.8 877.7,376.6 877.7,383.0 877.7,389.1 877.7,394.7 877.7,399.9 877.7,404.5 877.7,408.7 877.7,412.2 877.7,415.2 877.7,417.5 877.7,419.1 877.7,420.0 877.8,433.4 877.8,444.2 877.9,452.7 878.0,459.4 878.0,464.5 878.1,468.5 878.2,471.8 878.2,474.7 878.3,477.6 878.4,480.8 878.4,484.9 878.5,490.0 878.6,496.0 878.6,502.2 878.7,508.6 878.8,515.1 878.8,521.6 878.9,528.0 879.0,534.3 879.0,540.3 879.1,545.9 879.2,551.1 879.2,555.9 879.3,560.0 879.4,567.8 879.6,575.2 879.7,582.1 879.9,588.6 880.0,594.6 880.1,600.1 880.3,605.0 880.4,609.4 880.6,613.3 880.7,616.5 881.1,624.5 881.5,631.2 882.0,636.7 882.4,641.1 882.8,644.7 883.9,651.9 885.0,657.6 886.0,662.1 887.1,665.9 888.5,670.6 889.9,674.8 891.3,678.1 892.7,680.0 894.1,681.0 895.5,681.4 896.0,678.9 896.6,673.0 897.2,665.6 897.7,658.8 898.2,652.8 898.6,646.8 899.1,644.0 899.6,646.5 900.0,652.3 900.5,658.8 900.9,664.7 901.2,672.0 901.5,678.3 901.9,681.4 903.3,682.8 904.5,679.5 905.6,673.1 906.8,668.7 908.0,667.0 909.3,665.7 910.5,664.8 911.8,664.5 913.0,665.2 914.2,666.6 915.5,668.0 916.7,668.7 918.0,668.1 919.3,666.7 920.5,665.1 921.8,663.7 923.1,663.1 924.3,663.8 925.5,665.6 926.8,667.9 928.0,670.1 929.4,672.6 930.9,675.4 932.3,678.1 933.7,680.0 935.1,681.3 936.5,682.4 937.9,683.4 939.3,684.2 940.7,684.9 942.1,685.6 943.5,686.2 945.0,686.8 946.4,687.3 947.8,687.7 949.2,687.8 950.5,687.7 951.7,687.5 953.0,687.3 954.2,686.9 955.5,686.4 956.7,685.1 957.9,683.1 959.1,682.1 960.5,683.0 961.9,685.1 963.3,687.1 964.7,688.9 966.1,690.9 967.6,692.7 969.0,694.1 970.4,695.3 971.8,696.5 973.2,697.4 974.6,697.7 976.0,697.6 977.4,697.2 978.8,696.5 980.2,695.5 981.1,692.7 982.0,686.9 982.9,679.8 983.8,672.9 984.5,666.7 985.3,659.3 986.0,652.2 986.8,646.8 987.5,644.7 988.3,647.7 989.0,654.6 989.8,662.0 990.4,668.0 991.0,674.8 991.6,681.3 992.2,686.0 993.3,692.0 994.4,696.7 995.5,699.0 997.0,699.7 998.5,700.2 1000.0,700.5 1001.5,700.8 1003.0,701.1 1004.5,701.4 1006.0,701.7 1007.5,701.9 1009.0,702.1 1010.5,702.3 1012.0,702.4 1013.5,702.4 1015.0,702.4 1016.4,702.3 1017.9,702.3 1019.3,702.2 1020.8,702.1 1022.2,701.9 1023.7,701.8 1025.1,701.6 1026.6,701.5 1028.0,701.3 1029.5,701.1 1030.9,700.9 1032.4,700.8 1033.8,700.6 1035.3,700.5 1036.7,700.3 1038.2,700.2 1039.6,700.1 1041.1,700.1 1042.5,700.0 1044.0,700.0 1045.5,700.0 1047.0,700.1 1048.4,700.2 1049.9,700.3 1051.4,700.5 1052.8,700.7 1054.3,700.9 1055.8,701.1 1057.3,701.3 1058.8,701.5 1060.2,701.7 1061.7,701.9 1063.2,702.0 1064.6,702.2 1066.1,702.3 1067.6,702.4 1069.1,702.5 1070.6,702.5 1072.0,702.6 1073.5,702.7 1075.0,702.7 1076.5,702.8 1078.0,702.8 1079.5,702.9 1080.9,703.0 1082.4,703.0 1083.9,703.1 1085.4,703.1 1086.9,703.2 1088.3,703.2 1089.8,703.2 1091.3,703.3 1092.8,703.3 1094.3,703.3 1095.7,703.4 1097.2,703.4 1098.7,703.4 1100.2,703.5 1101.7,703.5 1103.2,703.5 1104.6,703.5 1106.1,703.5 1107.6,703.5 1109.0,703.4 1110.4,703.3 1111.9,703.1 1113.3,702.8 1114.7,702.5 1116.1,702.1 1117.5,701.7 1119.0,701.4 1120.4,701.0 1121.8,700.7 1123.2,700.4 1124.6,700.0 1126.0,699.6 1127.4,699.2 1128.8,698.8 1130.3,698.4 1131.7,698.1 1133.1,697.8 1134.5,697.7 1135.9,697.6 1137.4,697.6 1138.9,697.7 1140.4,697.7 1141.9,697.8 1143.4,697.9 1144.9,698.1 1146.4,698.2 1147.9,698.3 1149.4,698.3 1150.9,698.4 1152.4,698.4 1153.9,698.3 1155.3,698.0 1156.8,697.6 1158.2,697.2 1159.7,696.8 1161.2,696.4 1162.6,696.1 1164.1,696.0 1165.6,696.1 1167.0,696.4 1168.5,696.8 1170.0,697.3 1171.5,697.8 1173.0,698.4 1174.4,698.9 1175.9,699.3 1177.3,699.7 1178.7,700.1 1180.1,700.4 1181.5,700.8 1183.0,701.2 1184.4,701.6 1185.8,701.9 1187.2,702.1 1188.6,702.3 1190.0,702.4 1191.5,702.5 1192.9,702.5 1194.4,702.5 1195.9,702.6 1197.4,702.6 1198.8,702.7 1200.3,702.7 1201.8,702.7 1203.2,702.8 1204.7,702.8 1206.2,702.8 1207.7,702.9 1209.1,702.9 1210.6,702.9 1212.1,702.9 1213.5,702.9 1215.0,703.0 1216.5,703.0 1217.9,703.0 1219.4,703.0 1220.9,703.0 1222.4,703.0 1223.8,703.0 1225.3,703.0 1226.8,703.0 1228.2,703.0 1229.7,703.0 1231.2,703.0 1232.7,702.9 1234.1,702.9 1235.6,702.9 1237.1,702.9 1238.5,702.8 1240.0,702.8 1241.5,702.8 1243.0,702.7 1244.4,702.7 1245.9,702.6 1247.4,702.6 1248.8,702.5 1250.3,702.4 1251.8,702.4 1253.3,702.3 1254.7,702.2 1256.2,702.2 1257.7,702.1 1259.2,702.0 1260.6,701.9 1262.1,701.8 1263.6,701.8 1265.0,701.7 1266.5,701.6 1268.0,701.5 1269.5,701.4 1270.9,701.3 1272.4,701.2 1273.8,701.1 1275.3,700.9 1276.7,700.6 1278.2,700.3 1279.6,700.0 1281.1,699.7 1282.5,699.3 1284.0,699.0 1285.4,698.7 1286.9,698.5 1288.3,698.3 1289.8,698.1 1291.2,698.1 1292.7,698.1 1294.2,698.1 1295.7,698.1 1297.1,698.1 1298.6,698.2 1300.1,698.2 1301.6,698.2 1303.1,698.2 1304.6,698.3 1306.0,698.3 1307.5,698.4 1309.0,698.4 1310.5,698.5 1312.0,698.5 1313.5,698.6 1314.9,698.6 1316.4,698.7 1317.9,698.7 1319.4,698.8 1320.9,698.9 1322.3,699.0 1323.8,699.2 1325.3,699.4 1326.7,699.6 1328.2,699.8 1329.7,700.1 1331.2,700.3 1332.6,700.6 1334.1,700.8 1335.6,701.0 1337.0,701.2 1338.5,701.4 1340.0,701.5 1341.4,701.6 1342.9,701.6 1344.4,701.6 1345.9,701.5 1347.3,701.5 1348.8,701.3 1350.3,701.2 1351.8,701.1 1353.2,700.9 1354.7,700.8 1356.2,700.7 1357.7,700.5 1359.1,700.4 1360.6,700.2 1362.1,700.1 1363.5,700.1 1365.0,700.0 1366.5,700.0 1368.0,700.1 1369.5,700.2 1371.0,700.4 1372.5,700.7 1374.0,700.9 1375.5,701.2 1377.0,701.4 1378.5,701.5 1380.0,701.6 1381.5,701.6 1383.0,701.6 1384.5,701.5 1386.0,701.5 1387.5,701.4 1389.0,701.3 1390.5,701.2 1392.0,701.1 1393.5,700.9 1395.0,700.7 1396.3,699.5 1397.5,697.0 1398.8,694.1 1400.1,689.9 1401.3,685.1 1402.6,682.8 1404.0,683.6 1405.4,685.4 1406.8,687.3 1408.2,688.5 1409.5,688.9 1410.9,689.2 1412.2,689.4 1413.6,689.5 1414.9,689.7 1416.3,690.0 1417.6,690.4 1419.0,691.9 1420.4,694.4 1421.9,696.8 1423.3,697.9 1424.7,696.7 1426.1,694.2 1427.5,691.6 1428.9,690.4 1430.3,691.2 1431.8,693.2 1433.2,695.4 1434.6,696.9 1435.9,697.7 1437.3,698.5 1438.6,699.2 1440.0,699.8 1441.3,700.3 1442.7,700.6 1444.0,700.7 1445.5,700.7 1447.0,700.7 1448.5,700.6 1450.0,700.6 1451.5,700.5 1453.0,700.4 1454.5,700.3 1456.0,700.2 1457.5,700.0 1459.0,699.8 1460.2,698.0 1461.4,693.9 1462.6,688.9 1463.8,684.7 1465.0,680.9 1466.2,676.9 1467.3,673.8 1468.5,672.5 1469.7,673.8 1470.8,677.1 1472.0,681.1 1473.2,684.7 1474.6,688.8 1476.0,693.2 1477.4,696.9 1478.8,698.8 1480.2,699.4 1481.6,699.8 1483.0,700.3 1484.4,700.6 1485.8,700.9 1487.3,701.2 1488.7,701.4 1490.1,701.5 1491.5,701.6 1492.9,701.6 1494.3,701.5 1495.7,701.1 1497.2,700.7 1498.6,700.3 1500.0,699.9 1501.4,699.8 1502.6,700.2 1503.8,701.2 1504.9,702.2 1506.1,702.6 1507.5,702.6 1508.9,702.6 1510.3,702.6 1511.8,702.6 1513.2,702.6 1514.6,702.6 1516.0,702.6 1517.4,702.6 1518.8,702.5 1520.3,702.3 1521.7,702.0 1523.2,701.5 1524.6,701.0 1526.1,700.5 1527.5,700.0 1529.0,699.5 1530.4,699.0 1531.9,698.5 1533.3,698.2 1534.8,698.0 1536.2,697.9 1537.6,697.9 1539.0,697.9 1540.5,698.0 1541.9,698.0 1543.3,698.1 1544.7,698.2 1546.1,698.3 1547.5,698.4 1549.0,698.5 1550.4,698.6 1551.8,698.7 1553.2,698.8 1554.7,699.0 1556.2,699.2 1557.7,699.5 1559.2,699.8 1560.7,700.1 1562.2,700.4 1563.7,700.8 1565.2,701.1 1566.7,701.4 1568.2,701.6 1569.6,701.8 1570.9,702.0 1572.3,702.2 1573.7,702.4 1575.1,702.6 1576.4,702.7 1577.8,702.9 1579.2,703.0 1580.6,703.1 1581.9,703.2 1583.3,703.2 1584.8,703.2 1586.2,703.1 1587.7,703.0 1589.2,702.8 1590.6,702.5 1592.1,702.2 1593.6,701.8 1595.0,701.3 1596.5,700.7 1597.7,697.9 1599.0,691.8 1600.2,684.7 1600.9,678.9 1601.7,671.4 1602.4,664.9 1603.1,662.1 1604.0,665.7 1605.0,673.1 1605.9,679.1 1607.3,684.0 1608.7,688.1 1610.1,691.4 1611.5,694.1 1612.9,696.6 1614.3,699.0 1615.8,700.8 1617.2,701.6 1618.7,701.8 1620.2,701.9 1621.7,702.0 1623.2,702.1 1624.7,702.2 1626.2,702.2 1627.7,702.3 1629.2,702.3 1630.7,702.4 1632.2,702.6 1633.6,702.9 1635.0,703.5 1636.4,704.3 1637.8,705.1 1639.3,705.9 1640.7,706.6 1642.1,707.1 1643.5,707.3 1644.8,706.9 1646.0,705.8 1647.3,704.5 1648.7,702.1 1650.1,698.6 1651.5,695.5 1652.9,694.1 1654.3,696.9 1655.8,699.8 1657.0,699.2 1658.2,697.9 1659.3,696.6 1660.5,696.0 1661.7,697.7 1663.0,701.1 1664.2,703.5 1665.5,704.3 1666.7,704.8 1668.0,705.4 1669.2,706.6 1670.3,708.1 1671.5,709.5 1672.7,710.1 1674.1,708.7 1675.5,705.4" fill="none" stroke="#ff0000" stroke-width="4.10" stroke-linejoin="round" stroke-linecap="round" />
</g>
<line x1="212.50" y1="200.30" x2="313.50" y2="200.30" stroke="#000" stroke-width="3.80" stroke-linecap="round"/>
<line x1="212.50" y1="267.00" x2="313.50" y2="267.00" stroke="#ff0000" stroke-width="3.80" stroke-linecap="round"/>
<line x1="278.00" y1="565.50" x2="278.00" y2="626.50" stroke="#000" stroke-width="4.00" stroke-linecap="round"/>
<line x1="325.00" y1="615.50" x2="325.00" y2="677.50" stroke="#000" stroke-width="4.00" stroke-linecap="round"/>
<line x1="899.20" y1="402.50" x2="899.20" y2="636.00" stroke="#000" stroke-width="4.00" stroke-linecap="round"/>
<line x1="911.20" y1="531.50" x2="911.20" y2="654.50" stroke="#ff00ff" stroke-width="4.00" stroke-linecap="round"/>
<line x1="924.70" y1="588.50" x2="924.70" y2="651.70" stroke="#ff00ff" stroke-width="4.00" stroke-linecap="round"/>
<line x1="1051.00" y1="630.70" x2="1051.00" y2="692.50" stroke="#ff00ff" stroke-width="4.00" stroke-linecap="round"/>
<line x1="1413.50" y1="613.80" x2="1413.50" y2="675.70" stroke="#ff00ff" stroke-width="4.00" stroke-linecap="round"/>
<line x1="1430.80" y1="615.60" x2="1430.80" y2="677.50" stroke="#ff00ff" stroke-width="4.00" stroke-linecap="round"/>
<line x1="1468.40" y1="600.20" x2="1468.40" y2="662.50" stroke="#ff00ff" stroke-width="4.00" stroke-linecap="round"/>
<line x1="1502.80" y1="631.70" x2="1502.80" y2="692.60" stroke="#ff00ff" stroke-width="4.00" stroke-linecap="round"/>
<line x1="1534.80" y1="629.40" x2="1534.80" y2="691.70" stroke="#ff00ff" stroke-width="4.00" stroke-linecap="round"/>
<line x1="1603.40" y1="581.50" x2="1603.40" y2="645.80" stroke="#000" stroke-width="4.00" stroke-linecap="round"/>
<path d="M960.8 676.5 V612.3 L1015.6 561.3" fill="none" stroke="#000" stroke-width="4" stroke-linecap="round" stroke-linejoin="miter"/>
<path d="M1124.7 692 V678.9 H1184.9 V692" fill="none" stroke="#000" stroke-width="3.6" stroke-linecap="round" stroke-linejoin="miter"/>
<!-- panel B -->
<g stroke="#000" stroke-width="5.00" fill="none" stroke-linecap="round">
<path d="M313.80 922.50 V1371.50" stroke-linecap="butt"/>
<path d="M311.30 1371.50 H1457.80" stroke-linecap="butt"/>
<path d="M1454.80 1371.50 h3"/>
<path d="M288.80 1331.30 H313.80"/>
<path d="M301.30 1229.72 H313.80"/>
<path d="M288.80 1128.15 H313.80"/>
<path d="M301.30 1026.57 H313.80"/>
<path d="M288.80 925.00 H313.80"/>
<path d="M314.01 1371.50 V1384.10"/>
<path d="M392.80 1371.50 V1396.30"/>
<path d="M471.59 1371.50 V1384.10"/>
<path d="M550.38 1371.50 V1384.10"/>
<path d="M629.17 1371.50 V1384.10"/>
<path d="M707.96 1371.50 V1396.30"/>
<path d="M786.75 1371.50 V1384.10"/>
<path d="M865.54 1371.50 V1384.10"/>
<path d="M944.33 1371.50 V1384.10"/>
<path d="M1023.12 1371.50 V1396.30"/>
<path d="M1101.91 1371.50 V1384.10"/>
<path d="M1180.70 1371.50 V1384.10"/>
<path d="M1259.49 1371.50 V1384.10"/>
<path d="M1338.28 1371.50 V1396.30"/>
<path d="M1417.07 1371.50 V1384.10"/>
</g>
<g font-size="44" fill="#000" stroke="#000" stroke-width="0.35">
<text x="271.5" y="1342.30" text-anchor="end">0.000</text>
<text x="271.5" y="1139.15" text-anchor="end">0.005</text>
<text x="271.5" y="936.00" text-anchor="end">0.010</text>
<text x="392.30" y="1448" text-anchor="middle">1800</text>
<text x="707.46" y="1448" text-anchor="middle">1600</text>
<text x="1022.62" y="1448" text-anchor="middle">1400</text>
<text x="1337.78" y="1448" text-anchor="middle">1200</text>
</g>
<clipPath id="cb"><rect x="313.8" y="925.0" width="1146.0" height="420.0"/></clipPath>
<g clip-path="url(#cb)">
<polyline points="314.3,1309.5 320.1,1308.0 327.4,1316.2 339.0,1306.6 344.8,1310.4 353.4,1306.6 360.7,1311.0 368.0,1309.5 375.2,1312.4 382.4,1304.6 389.6,1302.9 396.9,1306.6 402.7,1311.6 412.8,1306.6 418.6,1311.0 425.8,1310.4 431.6,1306.6 440.3,1316.2 451.9,1318.2 460.6,1319.7 467.8,1309.5 478.0,1319.7 483.8,1317.3 493.9,1322.6 499.7,1317.3 506.9,1322.0 512.7,1312.4 524.3,1313.3 533.0,1311.0 538.8,1306.6 543.1,1306.6 548.9,1313.9 554.7,1305.2 559.0,1308.0 564.8,1300.8 568.7,1283.4 575.0,1288.0 579.3,1292.1 586.0,1281.5 590.9,1293.6 597.6,1295.0 603.4,1289.2 607.8,1293.6 615.0,1279.0 622.3,1289.2 632.4,1295.0 644.0,1287.8 652.7,1296.5 661.4,1305.2 668.6,1296.5 675.8,1298.0 683.1,1311.0 690.3,1319.7 696.1,1316.2 710.6,1324.0 722.2,1324.0 733.8,1328.3 739.6,1332.7 745.3,1325.4 751.1,1322.6 756.9,1326.9 768.5,1316.8 780.1,1325.4 788.8,1313.9 794.6,1311.0 803.3,1313.9 810.5,1322.6 817.8,1311.0 826.4,1315.3 832.2,1299.4 838.0,1313.9 849.6,1300.8 852.0,1303.0 858.7,1319.7 871.7,1308.0 877.5,1318.2 884.8,1305.2 892.0,1318.2 899.2,1306.6 916.6,1321.1 926.7,1312.4 935.4,1322.6 951.4,1319.1 958.6,1322.0 967.3,1312.4 973.1,1316.8 983.2,1306.6 989.0,1306.6 996.3,1290.7 1002.0,1297.9 1009.3,1287.8 1015.1,1286.3 1025.2,1274.8 1038.2,1288.4 1048.4,1276.2 1054.8,1241.5 1062.9,1277.7 1070.1,1297.9 1080.2,1296.5 1087.5,1303.7 1099.0,1309.5 1107.8,1312.4 1119.3,1303.7 1125.1,1312.4 1133.8,1322.6 1142.5,1316.8 1151.2,1308.6 1156.8,1320.9 1166.8,1333.2 1175.8,1320.9 1181.4,1322.0 1185.9,1312.0 1190.3,1319.8 1199.3,1323.2 1211.6,1300.8 1225.0,1291.8 1236.2,1279.5 1245.2,1276.2 1249.6,1263.9 1256.3,1240.4 1265.3,1214.6 1269.8,1209.0 1275.4,1192.3 1281.0,1191.2 1286.5,1178.9 1292.1,1177.7 1297.7,1196.7 1303.3,1175.5 1306.7,1183.3 1312.3,1173.3 1317.9,1196.7 1322.3,1202.3 1334.6,1196.7 1340.2,1181.1 1345.8,1193.4 1352.5,1207.9 1358.1,1190.0 1361.5,1201.2 1366.0,1191.1 1368.1,1186.4 1374.7,1196.3 1381.3,1204.5 1389.5,1188.0 1396.1,1230.8 1402.7,1202.8 1410.9,1155.1 1415.8,1163.3 1420.8,1220.9 1425.7,1168.3 1432.3,1240.7 1436.2,1196.0 1440.5,1097.0 1443.5,1000.0 1445.5,900.0" fill="none" stroke="#000" stroke-width="3.90" stroke-linejoin="round" stroke-linecap="round" />
<polyline points="314.3,1315.3 321.6,1312.4 327.4,1322.6 339.0,1325.4 347.6,1329.8 353.4,1327.8 360.7,1334.1 368.0,1332.7 374.3,1337.0 381.0,1328.3 388.2,1326.9 394.0,1328.3 402.7,1319.6 408.5,1315.3 415.7,1296.5 421.5,1295.0 428.7,1279.1 436.0,1257.4 440.3,1244.4 446.1,1218.3 454.8,1186.4 463.5,1157.5 469.3,1135.8 476.5,1134.3 480.9,1111.1 489.6,1082.2 495.3,1061.9 501.1,1057.6 512.7,1056.7 517.9,1053.8 521.4,1061.9 530.1,1064.8 535.9,1077.8 541.7,1090.9 545.2,1101.0 548.9,1083.6 554.7,1095.2 562.0,1085.1 567.7,1070.6 572.1,1060.5 576.4,1041.6 582.2,1006.9 586.6,977.9 590.9,960.5 599.3,955.3 602.5,953.3 604.5,961.0 609.2,983.7 617.9,1030.0 625.2,1070.6 632.4,1105.3 641.1,1128.5 648.3,1143.0 654.1,1144.4 659.9,1160.4 667.2,1183.5 675.8,1215.4 684.5,1241.5 690.3,1261.7 696.1,1271.9 703.4,1274.8 709.1,1286.3 716.4,1282.0 722.2,1293.6 728.0,1289.2 736.7,1303.7 745.3,1313.9 752.6,1305.2 762.7,1315.3 767.0,1316.8 771.4,1306.6 775.8,1316.8 781.5,1306.6 788.8,1311.0 793.1,1306.6 800.4,1309.5 809.1,1303.7 816.3,1300.8 822.1,1305.2 827.9,1293.6 833.7,1282.0 839.5,1292.1 846.7,1279.1 850.0,1280.6 855.8,1297.9 867.4,1277.7 874.6,1282.0 881.9,1273.3 896.3,1274.8 903.6,1263.2 909.4,1261.7 915.2,1267.5 926.7,1266.0 934.0,1257.4 939.8,1267.5 948.5,1261.7 960.0,1260.3 965.8,1237.1 973.1,1250.1 977.4,1241.5 987.6,1237.1 993.4,1216.8 1006.4,1202.4 1012.2,1185.0 1018.0,1179.2 1023.8,1160.4 1032.4,1143.0 1039.7,1134.3 1046.9,1111.1 1054.2,1072.0 1057.9,1072.0 1062.9,1090.9 1070.1,1095.2 1078.8,1083.6 1085.0,1083.0 1093.3,1079.9 1097.0,1084.0 1102.0,1085.1 1110.6,1088.0 1119.3,1096.7 1128.0,1103.9 1136.7,1116.9 1140.0,1118.4 1149.0,1121.8 1155.7,1136.3 1161.3,1164.3 1170.2,1161.0 1178.0,1193.4 1185.9,1187.8 1193.7,1203.5 1200.4,1219.1 1216.1,1218.0 1220.5,1213.5 1234.0,1212.4 1240.7,1205.7 1249.6,1199.0 1256.3,1178.9 1265.3,1167.7 1274.2,1140.8 1282.1,1152.0 1294.4,1139.7 1298.9,1143.0 1304.4,1125.2 1312.3,1140.8 1319.0,1145.3 1329.1,1162.1 1334.6,1159.8 1340.2,1147.5 1348.1,1176.6 1352.5,1199.0 1358.1,1165.4 1361.5,1161.0 1364.9,1177.7 1368.1,1179.8 1374.7,1201.2 1381.3,1174.8 1389.5,1232.4 1396.1,1225.8 1401.0,1207.8 1407.6,1240.7 1412.5,1179.8 1416.8,1141.9 1420.8,1196.0 1424.1,1239.0 1429.0,1196.0 1432.5,1160.0 1438.9,1097.5 1443.8,998.7 1445.8,900.0" fill="none" stroke="#ff0000" stroke-width="3.90" stroke-linejoin="round" stroke-linecap="round" />
<polyline points="313.8,1331.1 315.3,1331.1 316.8,1331.1 318.3,1331.0 319.8,1331.0 321.3,1331.0 322.8,1331.0 324.3,1330.9 325.8,1330.9 327.3,1330.8 328.8,1330.8 330.3,1330.7 331.8,1330.7 333.3,1330.6 334.8,1330.5 336.3,1330.4 337.8,1330.3 339.3,1330.3 340.8,1330.1 342.3,1330.0 343.8,1329.9 345.3,1329.8 346.8,1329.6 348.3,1329.5 349.8,1329.3 351.3,1329.1 352.8,1328.9 354.3,1328.7 355.8,1328.4 357.3,1328.2 358.8,1327.9 360.3,1327.6 361.8,1327.3 363.3,1326.9 364.8,1326.5 366.3,1326.1 367.8,1325.7 369.3,1325.2 370.8,1324.7 372.3,1324.2 373.8,1323.6 375.3,1323.0 376.8,1322.3 378.3,1321.7 379.8,1320.9 381.3,1320.1 382.8,1319.3 384.3,1318.4 385.8,1317.4 387.3,1316.4 388.8,1315.4 390.3,1314.2 391.8,1313.1 393.3,1311.8 394.8,1310.5 396.3,1309.1 397.8,1307.6 399.3,1306.0 400.8,1304.4 402.3,1302.7 403.8,1300.9 405.3,1299.0 406.8,1297.1 408.3,1295.0 409.8,1292.9 411.3,1290.6 412.8,1288.3 414.3,1285.9 415.8,1283.3 417.3,1280.7 418.8,1278.0 420.3,1275.1 421.8,1272.2 423.3,1269.2 424.8,1266.1 426.3,1262.8 427.8,1259.5 429.3,1256.1 430.8,1252.5 432.3,1248.9 433.8,1245.2 435.3,1241.4 436.8,1237.5 438.3,1233.5 439.8,1229.4 441.3,1225.2 442.8,1221.0 444.3,1216.7 445.8,1212.3 447.3,1207.8 448.8,1203.3 450.3,1198.8 451.8,1194.1 453.3,1189.5 454.8,1184.8 456.3,1180.1 457.8,1175.3 459.3,1170.6 460.8,1165.8 462.3,1161.1 463.8,1156.3 465.3,1151.6 466.8,1146.9 468.3,1142.2 469.8,1137.5 471.3,1133.0 472.8,1128.4 474.3,1124.0 475.8,1119.6 477.3,1115.3 478.8,1111.1 480.3,1107.0 481.8,1103.1 483.3,1099.2 484.8,1095.5 486.3,1091.9 487.8,1088.5 489.3,1085.2 490.8,1082.1 492.3,1079.2 493.8,1076.4 495.3,1073.8 496.8,1071.4 498.3,1069.2 499.8,1067.3 501.3,1065.5 502.8,1063.9 504.3,1062.5 505.8,1061.4 507.3,1060.5 508.8,1059.8 510.3,1059.3 511.8,1059.0 513.3,1059.0 514.8,1059.3 516.3,1059.7 517.8,1060.5 519.3,1061.5 520.8,1062.8 522.3,1064.3 523.8,1066.0 525.3,1068.0 526.8,1070.3 528.3,1072.7 529.8,1075.4 531.3,1078.3 532.8,1081.4 534.3,1084.7 535.8,1088.2 537.3,1091.9 538.8,1095.7 540.3,1099.7 541.8,1103.9 543.3,1108.1 544.8,1112.6 546.3,1117.1 547.8,1121.7 549.3,1126.5 550.8,1131.3 552.3,1136.2 553.8,1141.1 555.3,1146.2 556.8,1151.2 558.3,1156.3 559.8,1161.4 561.3,1166.5 562.8,1171.6 564.3,1176.7 565.8,1181.8 567.3,1186.8 568.8,1191.8 570.3,1196.8 571.8,1201.7 573.3,1206.6 574.8,1211.3 576.3,1216.1 577.8,1220.7 579.3,1225.2 580.8,1229.7 582.3,1234.1 583.8,1238.3 585.3,1242.5 586.8,1246.5 588.3,1250.5 589.8,1254.3 591.3,1258.1 592.8,1261.7 594.3,1265.2 595.8,1268.6 597.3,1271.8 598.8,1275.0 600.3,1278.0 601.8,1280.9 603.3,1283.7 604.8,1286.4 606.3,1289.0 607.8,1291.5 609.3,1293.8 610.8,1296.1 612.3,1298.2 613.8,1300.3 615.3,1302.2 616.8,1304.1 618.3,1305.9 619.8,1307.5 621.3,1309.1 622.8,1310.6 624.3,1312.0 625.8,1313.3 627.3,1314.6 628.8,1315.8 630.3,1316.9 631.8,1317.9 633.3,1318.9 634.8,1319.9 636.3,1320.7 637.8,1321.5 639.3,1322.3 640.8,1323.0 642.3,1323.6 643.8,1324.2 645.3,1324.8 646.8,1325.3 648.3,1325.8 649.8,1326.3 651.3,1326.7 652.8,1327.1 654.3,1327.5 655.8,1327.8 657.3,1328.1 658.8,1328.4 660.3,1328.6 661.8,1328.9 663.3,1329.1 664.8,1329.3 666.3,1329.5 667.8,1329.7 669.3,1329.8 670.8,1330.0 672.3,1330.1 673.8,1330.2 675.3,1330.3 676.8,1330.4 678.3,1330.5 679.8,1330.6 681.3,1330.7 682.8,1330.7 684.3,1330.8 685.8,1330.8 687.3,1330.9 688.8,1330.9 690.3,1331.0 691.8,1331.0 693.3,1331.0 694.8,1331.1 696.3,1331.1 697.8,1331.1 699.3,1331.1 700.8,1331.2 702.3,1331.2 703.8,1331.2 705.3,1331.2 706.8,1331.2 708.3,1331.2 709.8,1331.2 711.3,1331.2 712.8,1331.2 714.3,1331.3 715.8,1331.3 717.3,1331.3 718.8,1331.3 720.3,1331.3 721.8,1331.3 723.3,1331.3 724.8,1331.3 726.3,1331.3 727.8,1331.3 729.3,1331.3 730.8,1331.3 732.3,1331.3 733.8,1331.3 735.3,1331.3 736.8,1331.3 738.3,1331.3 739.8,1331.3 741.3,1331.3 742.8,1331.3 744.3,1331.3 745.8,1331.3 747.3,1331.3 748.8,1331.3 750.3,1331.3 751.8,1331.3 753.3,1331.3 754.8,1331.3 756.3,1331.3 757.8,1331.3 759.3,1331.3 760.8,1331.3 762.3,1331.3 763.8,1331.3 765.3,1331.3 766.8,1331.3 768.3,1331.3 769.8,1331.3 771.3,1331.3 772.8,1331.3 774.3,1331.3 775.8,1331.3 777.3,1331.3 778.8,1331.3 780.3,1331.3 781.8,1331.3 783.3,1331.3 784.8,1331.3 786.3,1331.3 787.8,1331.3 789.3,1331.3 790.8,1331.3 792.3,1331.3 793.8,1331.3 795.3,1331.3 796.8,1331.3 798.3,1331.3 799.8,1331.3 801.3,1331.3 802.8,1331.3 804.3,1331.3 805.8,1331.3 807.3,1331.3 808.8,1331.3 810.3,1331.3 811.8,1331.3 813.3,1331.3 814.8,1331.3 816.3,1331.3 817.8,1331.3 819.3,1331.3 820.8,1331.3 822.3,1331.3 823.8,1331.3 825.3,1331.3 826.8,1331.3 828.3,1331.3 829.8,1331.3 831.3,1331.3 832.8,1331.3 834.3,1331.3 835.8,1331.3 837.3,1331.3 838.8,1331.3 840.3,1331.3 841.8,1331.3 843.3,1331.3 844.8,1331.3 846.3,1331.3 847.8,1331.3 849.3,1331.3 850.8,1331.3 852.3,1331.3 853.8,1331.3 855.3,1331.3 856.8,1331.3 858.3,1331.3 859.8,1331.3 861.3,1331.3 862.8,1331.3 864.3,1331.3 865.8,1331.3 867.3,1331.3 868.8,1331.3 870.3,1331.3 871.8,1331.3 873.3,1331.3 874.8,1331.3 876.3,1331.3 877.8,1331.3 879.3,1331.3 880.8,1331.3 882.3,1331.3 883.8,1331.3 885.3,1331.3 886.8,1331.3 888.3,1331.3 889.8,1331.3 891.3,1331.3 892.8,1331.3 894.3,1331.3 895.8,1331.3 897.3,1331.3 898.8,1331.3 900.3,1331.3 901.8,1331.3 903.3,1331.3 904.8,1331.3 906.3,1331.3 907.8,1331.3 909.3,1331.3 910.8,1331.3 912.3,1331.3 913.8,1331.3 915.3,1331.3 916.8,1331.3 918.3,1331.3 919.8,1331.3 921.3,1331.3 922.8,1331.3 924.3,1331.3 925.8,1331.3 927.3,1331.3 928.8,1331.3 930.3,1331.3 931.8,1331.3 933.3,1331.3 934.8,1331.3 936.3,1331.3 937.8,1331.3 939.3,1331.3 940.8,1331.3 942.3,1331.3 943.8,1331.3 945.3,1331.3 946.8,1331.3 948.3,1331.3 949.8,1331.3 951.3,1331.3 952.8,1331.3 954.3,1331.3 955.8,1331.3 957.3,1331.3 958.8,1331.3 960.3,1331.3 961.8,1331.3 963.3,1331.3 964.8,1331.3 966.3,1331.3 967.8,1331.3 969.3,1331.3 970.8,1331.3 972.3,1331.3 973.8,1331.3 975.3,1331.3 976.8,1331.3 978.3,1331.3 979.8,1331.3 981.3,1331.3 982.8,1331.3 984.3,1331.3 985.8,1331.3 987.3,1331.3 988.8,1331.3 990.3,1331.3 991.8,1331.3 993.3,1331.3 994.8,1331.3 996.3,1331.3 997.8,1331.3 999.3,1331.3 1000.8,1331.3 1002.3,1331.3 1003.8,1331.3 1005.3,1331.3 1006.8,1331.3 1008.3,1331.3 1009.8,1331.3 1011.3,1331.3 1012.8,1331.3 1014.3,1331.3 1015.8,1331.3 1017.3,1331.3 1018.8,1331.3 1020.3,1331.3 1021.8,1331.3 1023.3,1331.3 1024.8,1331.3 1026.3,1331.3 1027.8,1331.3 1029.3,1331.3 1030.8,1331.3 1032.3,1331.3 1033.8,1331.3 1035.3,1331.3 1036.8,1331.3 1038.3,1331.3 1039.8,1331.3 1041.3,1331.3 1042.8,1331.3 1044.3,1331.3 1045.8,1331.3 1047.3,1331.3 1048.8,1331.3 1050.3,1331.3 1051.8,1331.3 1053.3,1331.3 1054.8,1331.3 1056.3,1331.3 1057.8,1331.3 1059.3,1331.3 1060.8,1331.3 1062.3,1331.3 1063.8,1331.3 1065.3,1331.3 1066.8,1331.3 1068.3,1331.3 1069.8,1331.3 1071.3,1331.3 1072.8,1331.3 1074.3,1331.3 1075.8,1331.3 1077.3,1331.3 1078.8,1331.3 1080.3,1331.3 1081.8,1331.3 1083.3,1331.3 1084.8,1331.3 1086.3,1331.3 1087.8,1331.3 1089.3,1331.3 1090.8,1331.3 1092.3,1331.3 1093.8,1331.3 1095.3,1331.3 1096.8,1331.3 1098.3,1331.3 1099.8,1331.3 1101.3,1331.3 1102.8,1331.3 1104.3,1331.3 1105.8,1331.3 1107.3,1331.3 1108.8,1331.3 1110.3,1331.3 1111.8,1331.3 1113.3,1331.3 1114.8,1331.3 1116.3,1331.3 1117.8,1331.3 1119.3,1331.3 1120.8,1331.3 1122.3,1331.3 1123.8,1331.3 1125.3,1331.3 1126.8,1331.3 1128.3,1331.3 1129.8,1331.3 1131.3,1331.3 1132.8,1331.3 1134.3,1331.3 1135.8,1331.3 1137.3,1331.3 1138.8,1331.3 1140.3,1331.3 1141.8,1331.3 1143.3,1331.3 1144.8,1331.3 1146.3,1331.3 1147.8,1331.3 1149.3,1331.3 1150.8,1331.3 1152.3,1331.3 1153.8,1331.3 1155.3,1331.3 1156.8,1331.3 1158.3,1331.3 1159.8,1331.3 1161.3,1331.3 1162.8,1331.3 1164.3,1331.3 1165.8,1331.3 1167.3,1331.3 1168.8,1331.3 1170.3,1331.3 1171.8,1331.3 1173.3,1331.3 1174.8,1331.3 1176.3,1331.3 1177.8,1331.3 1179.3,1331.3 1180.8,1331.3 1182.3,1331.3 1183.8,1331.3 1185.3,1331.3 1186.8,1331.3 1188.3,1331.3 1189.8,1331.3 1191.3,1331.3 1192.8,1331.3 1194.3,1331.3 1195.8,1331.3 1197.3,1331.3 1198.8,1331.3 1200.3,1331.3 1201.8,1331.3 1203.3,1331.3 1204.8,1331.3 1206.3,1331.3 1207.8,1331.3 1209.3,1331.3 1210.8,1331.3 1212.3,1331.3 1213.8,1331.3 1215.3,1331.3 1216.8,1331.3 1218.3,1331.3 1219.8,1331.3 1221.3,1331.3 1222.8,1331.3 1224.3,1331.3 1225.8,1331.3 1227.3,1331.3 1228.8,1331.3 1230.3,1331.3 1231.8,1331.3 1233.3,1331.3 1234.8,1331.3 1236.3,1331.3 1237.8,1331.3 1239.3,1331.3 1240.8,1331.3 1242.3,1331.3 1243.8,1331.3 1245.3,1331.3 1246.8,1331.3 1248.3,1331.3 1249.8,1331.3 1251.3,1331.3 1252.8,1331.3 1254.3,1331.3 1255.8,1331.3 1257.3,1331.3 1258.8,1331.3 1260.3,1331.3 1261.8,1331.3 1263.3,1331.3 1264.8,1331.3 1266.3,1331.3 1267.8,1331.3 1269.3,1331.3 1270.8,1331.3 1272.3,1331.3 1273.8,1331.3 1275.3,1331.3 1276.8,1331.3 1278.3,1331.3 1279.8,1331.3 1281.3,1331.3 1282.8,1331.3 1284.3,1331.3 1285.8,1331.3 1287.3,1331.3 1288.8,1331.3 1290.3,1331.3 1291.8,1331.3 1293.3,1331.3 1294.8,1331.3 1296.3,1331.3 1297.8,1331.3 1299.3,1331.3 1300.8,1331.3 1302.3,1331.3 1303.8,1331.3 1305.3,1331.3 1306.8,1331.3 1308.3,1331.3 1309.8,1331.3 1311.3,1331.3 1312.8,1331.3 1314.3,1331.3 1315.8,1331.3 1317.3,1331.3 1318.8,1331.3 1320.3,1331.3 1321.8,1331.3 1323.3,1331.3 1324.8,1331.3 1326.3,1331.3 1327.8,1331.3 1329.3,1331.3 1330.8,1331.3 1332.3,1331.3 1333.8,1331.3 1335.3,1331.3 1336.8,1331.3 1338.3,1331.3 1339.8,1331.3 1341.3,1331.3 1342.8,1331.3 1344.3,1331.3 1345.8,1331.3 1347.3,1331.3 1348.8,1331.3 1350.3,1331.3 1351.8,1331.3 1353.3,1331.3 1354.8,1331.3 1356.3,1331.3 1357.8,1331.3 1359.3,1331.3 1360.8,1331.3 1362.3,1331.3 1363.8,1331.3 1365.3,1331.3 1366.8,1331.3 1368.3,1331.3 1369.8,1331.3 1371.3,1331.3 1372.8,1331.3 1374.3,1331.3 1375.8,1331.3 1377.3,1331.3 1378.8,1331.3 1380.3,1331.3 1381.8,1331.3 1383.3,1331.3 1384.8,1331.3 1386.3,1331.3 1387.8,1331.3 1389.3,1331.3 1390.8,1331.3 1392.3,1331.3 1393.8,1331.3 1395.3,1331.3 1396.8,1331.3 1398.3,1331.3 1399.8,1331.3 1401.3,1331.3 1402.8,1331.3 1404.3,1331.3 1405.8,1331.3 1407.3,1331.3 1408.8,1331.3 1410.3,1331.3 1411.8,1331.3 1413.3,1331.3 1414.8,1331.3 1416.3,1331.3 1417.8,1331.3 1419.3,1331.3 1420.8,1331.3 1422.3,1331.3 1423.8,1331.3 1425.3,1331.3 1426.8,1331.3 1428.3,1331.3 1429.8,1331.3 1431.3,1331.3 1432.8,1331.3 1434.3,1331.3 1435.8,1331.3 1437.3,1331.3 1438.8,1331.3 1440.3,1331.3 1441.8,1331.3 1443.3,1331.3 1444.8,1331.3 1446.3,1331.3 1447.8,1331.3 1449.3,1331.3 1450.8,1331.3 1452.3,1331.3 1453.8,1331.3 1455.3,1331.3 1456.8,1331.3 1457.3,1331.3" fill="none" stroke="#0000ff" stroke-width="3.80" stroke-linejoin="round" stroke-linecap="round" />
<polyline points="313.8,1331.3 315.3,1331.3 316.8,1331.3 318.3,1331.3 319.8,1331.3 321.3,1331.3 322.8,1331.3 324.3,1331.3 325.8,1331.3 327.3,1331.3 328.8,1331.3 330.3,1331.3 331.8,1331.3 333.3,1331.3 334.8,1331.3 336.3,1331.3 337.8,1331.3 339.3,1331.3 340.8,1331.3 342.3,1331.3 343.8,1331.3 345.3,1331.3 346.8,1331.3 348.3,1331.3 349.8,1331.3 351.3,1331.3 352.8,1331.3 354.3,1331.3 355.8,1331.3 357.3,1331.3 358.8,1331.3 360.3,1331.3 361.8,1331.3 363.3,1331.3 364.8,1331.3 366.3,1331.3 367.8,1331.3 369.3,1331.3 370.8,1331.3 372.3,1331.3 373.8,1331.3 375.3,1331.3 376.8,1331.3 378.3,1331.3 379.8,1331.3 381.3,1331.3 382.8,1331.3 384.3,1331.3 385.8,1331.3 387.3,1331.3 388.8,1331.3 390.3,1331.3 391.8,1331.3 393.3,1331.3 394.8,1331.3 396.3,1331.3 397.8,1331.3 399.3,1331.3 400.8,1331.3 402.3,1331.3 403.8,1331.3 405.3,1331.3 406.8,1331.3 408.3,1331.3 409.8,1331.3 411.3,1331.3 412.8,1331.3 414.3,1331.3 415.8,1331.3 417.3,1331.3 418.8,1331.3 420.3,1331.3 421.8,1331.3 423.3,1331.3 424.8,1331.3 426.3,1331.3 427.8,1331.3 429.3,1331.3 430.8,1331.3 432.3,1331.3 433.8,1331.3 435.3,1331.3 436.8,1331.3 438.3,1331.3 439.8,1331.3 441.3,1331.3 442.8,1331.3 444.3,1331.3 445.8,1331.3 447.3,1331.3 448.8,1331.3 450.3,1331.3 451.8,1331.3 453.3,1331.3 454.8,1331.3 456.3,1331.3 457.8,1331.3 459.3,1331.3 460.8,1331.3 462.3,1331.3 463.8,1331.3 465.3,1331.3 466.8,1331.3 468.3,1331.3 469.8,1331.3 471.3,1331.3 472.8,1331.3 474.3,1331.3 475.8,1331.3 477.3,1331.3 478.8,1331.3 480.3,1331.3 481.8,1331.3 483.3,1331.3 484.8,1331.3 486.3,1331.3 487.8,1331.3 489.3,1331.3 490.8,1331.3 492.3,1331.3 493.8,1331.3 495.3,1331.3 496.8,1331.3 498.3,1331.3 499.8,1331.3 501.3,1331.3 502.8,1331.2 504.3,1331.2 505.8,1331.2 507.3,1331.2 508.8,1331.2 510.3,1331.1 511.8,1331.1 513.3,1331.0 514.8,1330.9 516.3,1330.8 517.8,1330.7 519.3,1330.5 520.8,1330.3 522.3,1330.1 523.8,1329.8 525.3,1329.5 526.8,1329.1 528.3,1328.6 529.8,1328.0 531.3,1327.3 532.8,1326.5 534.3,1325.5 535.8,1324.3 537.3,1323.0 538.8,1321.5 540.3,1319.7 541.8,1317.6 543.3,1315.2 544.8,1312.5 546.3,1309.5 547.8,1306.0 549.3,1302.1 550.8,1297.8 552.3,1293.0 553.8,1287.6 555.3,1281.8 556.8,1275.3 558.3,1268.3 559.8,1260.7 561.3,1252.5 562.8,1243.6 564.3,1234.3 565.8,1224.3 567.3,1213.8 568.8,1202.8 570.3,1191.4 571.8,1179.5 573.3,1167.4 574.8,1154.9 576.3,1142.4 577.8,1129.7 579.3,1117.1 580.8,1104.6 582.3,1092.4 583.8,1080.6 585.3,1069.3 586.8,1058.5 588.3,1048.5 589.8,1039.4 591.3,1031.1 592.8,1023.9 594.3,1017.8 595.8,1013.0 597.3,1009.3 598.8,1007.0 600.3,1005.9 601.8,1006.2 603.3,1007.8 604.8,1010.7 606.3,1014.7 607.8,1019.9 609.3,1026.3 610.8,1033.7 612.3,1042.1 613.8,1051.3 615.3,1061.3 616.8,1072.0 618.3,1083.2 619.8,1094.9 621.3,1106.9 622.8,1119.1 624.3,1131.5 625.8,1143.8 627.3,1156.1 628.8,1168.3 630.3,1180.2 631.8,1191.8 633.3,1202.9 634.8,1213.7 636.3,1224.0 637.8,1233.8 639.3,1243.0 640.8,1251.7 642.3,1259.8 643.8,1267.3 645.3,1274.3 646.8,1280.7 648.3,1286.5 649.8,1291.9 651.3,1296.7 652.8,1301.1 654.3,1305.0 655.8,1308.5 657.3,1311.6 658.8,1314.4 660.3,1316.8 661.8,1318.9 663.3,1320.8 664.8,1322.4 666.3,1323.8 667.8,1325.0 669.3,1326.0 670.8,1326.9 672.3,1327.6 673.8,1328.3 675.3,1328.8 676.8,1329.3 678.3,1329.6 679.8,1329.9 681.3,1330.2 682.8,1330.4 684.3,1330.6 685.8,1330.7 687.3,1330.8 688.8,1330.9 690.3,1331.0 691.8,1331.1 693.3,1331.1 694.8,1331.2 696.3,1331.2 697.8,1331.2 699.3,1331.2 700.8,1331.2 702.3,1331.3 703.8,1331.3 705.3,1331.3 706.8,1331.3 708.3,1331.3 709.8,1331.3 711.3,1331.3 712.8,1331.3 714.3,1331.3 715.8,1331.3 717.3,1331.3 718.8,1331.3 720.3,1331.3 721.8,1331.3 723.3,1331.3 724.8,1331.3 726.3,1331.3 727.8,1331.3 729.3,1331.3 730.8,1331.3 732.3,1331.3 733.8,1331.3 735.3,1331.3 736.8,1331.3 738.3,1331.3 739.8,1331.3 741.3,1331.3 742.8,1331.3 744.3,1331.3 745.8,1331.3 747.3,1331.3 748.8,1331.3 750.3,1331.3 751.8,1331.3 753.3,1331.3 754.8,1331.3 756.3,1331.3 757.8,1331.3 759.3,1331.3 760.8,1331.3 762.3,1331.3 763.8,1331.3 765.3,1331.3 766.8,1331.3 768.3,1331.3 769.8,1331.3 771.3,1331.3 772.8,1331.3 774.3,1331.3 775.8,1331.3 777.3,1331.3 778.8,1331.3 780.3,1331.3 781.8,1331.3 783.3,1331.3 784.8,1331.3 786.3,1331.3 787.8,1331.3 789.3,1331.3 790.8,1331.3 792.3,1331.3 793.8,1331.3 795.3,1331.3 796.8,1331.3 798.3,1331.3 799.8,1331.3 801.3,1331.3 802.8,1331.3 804.3,1331.3 805.8,1331.3 807.3,1331.3 808.8,1331.3 810.3,1331.3 811.8,1331.3 813.3,1331.3 814.8,1331.3 816.3,1331.3 817.8,1331.3 819.3,1331.3 820.8,1331.3 822.3,1331.3 823.8,1331.3 825.3,1331.3 826.8,1331.3 828.3,1331.3 829.8,1331.3 831.3,1331.3 832.8,1331.3 834.3,1331.3 835.8,1331.3 837.3,1331.3 838.8,1331.3 840.3,1331.3 841.8,1331.3 843.3,1331.3 844.8,1331.3 846.3,1331.3 847.8,1331.3 849.3,1331.3 850.8,1331.3 852.3,1331.3 853.8,1331.3 855.3,1331.3 856.8,1331.3 858.3,1331.3 859.8,1331.3 861.3,1331.3 862.8,1331.3 864.3,1331.3 865.8,1331.3 867.3,1331.3 868.8,1331.3 870.3,1331.3 871.8,1331.3 873.3,1331.3 874.8,1331.3 876.3,1331.3 877.8,1331.3 879.3,1331.3 880.8,1331.3 882.3,1331.3 883.8,1331.3 885.3,1331.3 886.8,1331.3 888.3,1331.3 889.8,1331.3 891.3,1331.3 892.8,1331.3 894.3,1331.3 895.8,1331.3 897.3,1331.3 898.8,1331.3 900.3,1331.3 901.8,1331.3 903.3,1331.3 904.8,1331.3 906.3,1331.3 907.8,1331.3 909.3,1331.3 910.8,1331.3 912.3,1331.3 913.8,1331.3 915.3,1331.3 916.8,1331.3 918.3,1331.3 919.8,1331.3 921.3,1331.3 922.8,1331.3 924.3,1331.3 925.8,1331.3 927.3,1331.3 928.8,1331.3 930.3,1331.3 931.8,1331.3 933.3,1331.3 934.8,1331.3 936.3,1331.3 937.8,1331.3 939.3,1331.3 940.8,1331.3 942.3,1331.3 943.8,1331.3 945.3,1331.3 946.8,1331.3 948.3,1331.3 949.8,1331.3 951.3,1331.3 952.8,1331.3 954.3,1331.3 955.8,1331.3 957.3,1331.3 958.8,1331.3 960.3,1331.3 961.8,1331.3 963.3,1331.3 964.8,1331.3 966.3,1331.3 967.8,1331.3 969.3,1331.3 970.8,1331.3 972.3,1331.3 973.8,1331.3 975.3,1331.3 976.8,1331.3 978.3,1331.3 979.8,1331.3 981.3,1331.3 982.8,1331.3 984.3,1331.3 985.8,1331.3 987.3,1331.3 988.8,1331.3 990.3,1331.3 991.8,1331.3 993.3,1331.3 994.8,1331.3 996.3,1331.3 997.8,1331.3 999.3,1331.3 1000.8,1331.3 1002.3,1331.3 1003.8,1331.3 1005.3,1331.3 1006.8,1331.3 1008.3,1331.3 1009.8,1331.3 1011.3,1331.3 1012.8,1331.3 1014.3,1331.3 1015.8,1331.3 1017.3,1331.3 1018.8,1331.3 1020.3,1331.3 1021.8,1331.3 1023.3,1331.3 1024.8,1331.3 1026.3,1331.3 1027.8,1331.3 1029.3,1331.3 1030.8,1331.3 1032.3,1331.3 1033.8,1331.3 1035.3,1331.3 1036.8,1331.3 1038.3,1331.3 1039.8,1331.3 1041.3,1331.3 1042.8,1331.3 1044.3,1331.3 1045.8,1331.3 1047.3,1331.3 1048.8,1331.3 1050.3,1331.3 1051.8,1331.3 1053.3,1331.3 1054.8,1331.3 1056.3,1331.3 1057.8,1331.3 1059.3,1331.3 1060.8,1331.3 1062.3,1331.3 1063.8,1331.3 1065.3,1331.3 1066.8,1331.3 1068.3,1331.3 1069.8,1331.3 1071.3,1331.3 1072.8,1331.3 1074.3,1331.3 1075.8,1331.3 1077.3,1331.3 1078.8,1331.3 1080.3,1331.3 1081.8,1331.3 1083.3,1331.3 1084.8,1331.3 1086.3,1331.3 1087.8,1331.3 1089.3,1331.3 1090.8,1331.3 1092.3,1331.3 1093.8,1331.3 1095.3,1331.3 1096.8,1331.3 1098.3,1331.3 1099.8,1331.3 1101.3,1331.3 1102.8,1331.3 1104.3,1331.3 1105.8,1331.3 1107.3,1331.3 1108.8,1331.3 1110.3,1331.3 1111.8,1331.3 1113.3,1331.3 1114.8,1331.3 1116.3,1331.3 1117.8,1331.3 1119.3,1331.3 1120.8,1331.3 1122.3,1331.3 1123.8,1331.3 1125.3,1331.3 1126.8,1331.3 1128.3,1331.3 1129.8,1331.3 1131.3,1331.3 1132.8,1331.3 1134.3,1331.3 1135.8,1331.3 1137.3,1331.3 1138.8,1331.3 1140.3,1331.3 1141.8,1331.3 1143.3,1331.3 1144.8,1331.3 1146.3,1331.3 1147.8,1331.3 1149.3,1331.3 1150.8,1331.3 1152.3,1331.3 1153.8,1331.3 1155.3,1331.3 1156.8,1331.3 1158.3,1331.3 1159.8,1331.3 1161.3,1331.3 1162.8,1331.3 1164.3,1331.3 1165.8,1331.3 1167.3,1331.3 1168.8,1331.3 1170.3,1331.3 1171.8,1331.3 1173.3,1331.3 1174.8,1331.3 1176.3,1331.3 1177.8,1331.3 1179.3,1331.3 1180.8,1331.3 1182.3,1331.3 1183.8,1331.3 1185.3,1331.3 1186.8,1331.3 1188.3,1331.3 1189.8,1331.3 1191.3,1331.3 1192.8,1331.3 1194.3,1331.3 1195.8,1331.3 1197.3,1331.3 1198.8,1331.3 1200.3,1331.3 1201.8,1331.3 1203.3,1331.3 1204.8,1331.3 1206.3,1331.3 1207.8,1331.3 1209.3,1331.3 1210.8,1331.3 1212.3,1331.3 1213.8,1331.3 1215.3,1331.3 1216.8,1331.3 1218.3,1331.3 1219.8,1331.3 1221.3,1331.3 1222.8,1331.3 1224.3,1331.3 1225.8,1331.3 1227.3,1331.3 1228.8,1331.3 1230.3,1331.3 1231.8,1331.3 1233.3,1331.3 1234.8,1331.3 1236.3,1331.3 1237.8,1331.3 1239.3,1331.3 1240.8,1331.3 1242.3,1331.3 1243.8,1331.3 1245.3,1331.3 1246.8,1331.3 1248.3,1331.3 1249.8,1331.3 1251.3,1331.3 1252.8,1331.3 1254.3,1331.3 1255.8,1331.3 1257.3,1331.3 1258.8,1331.3 1260.3,1331.3 1261.8,1331.3 1263.3,1331.3 1264.8,1331.3 1266.3,1331.3 1267.8,1331.3 1269.3,1331.3 1270.8,1331.3 1272.3,1331.3 1273.8,1331.3 1275.3,1331.3 1276.8,1331.3 1278.3,1331.3 1279.8,1331.3 1281.3,1331.3 1282.8,1331.3 1284.3,1331.3 1285.8,1331.3 1287.3,1331.3 1288.8,1331.3 1290.3,1331.3 1291.8,1331.3 1293.3,1331.3 1294.8,1331.3 1296.3,1331.3 1297.8,1331.3 1299.3,1331.3 1300.8,1331.3 1302.3,1331.3 1303.8,1331.3 1305.3,1331.3 1306.8,1331.3 1308.3,1331.3 1309.8,1331.3 1311.3,1331.3 1312.8,1331.3 1314.3,1331.3 1315.8,1331.3 1317.3,1331.3 1318.8,1331.3 1320.3,1331.3 1321.8,1331.3 1323.3,1331.3 1324.8,1331.3 1326.3,1331.3 1327.8,1331.3 1329.3,1331.3 1330.8,1331.3 1332.3,1331.3 1333.8,1331.3 1335.3,1331.3 1336.8,1331.3 1338.3,1331.3 1339.8,1331.3 1341.3,1331.3 1342.8,1331.3 1344.3,1331.3 1345.8,1331.3 1347.3,1331.3 1348.8,1331.3 1350.3,1331.3 1351.8,1331.3 1353.3,1331.3 1354.8,1331.3 1356.3,1331.3 1357.8,1331.3 1359.3,1331.3 1360.8,1331.3 1362.3,1331.3 1363.8,1331.3 1365.3,1331.3 1366.8,1331.3 1368.3,1331.3 1369.8,1331.3 1371.3,1331.3 1372.8,1331.3 1374.3,1331.3 1375.8,1331.3 1377.3,1331.3 1378.8,1331.3 1380.3,1331.3 1381.8,1331.3 1383.3,1331.3 1384.8,1331.3 1386.3,1331.3 1387.8,1331.3 1389.3,1331.3 1390.8,1331.3 1392.3,1331.3 1393.8,1331.3 1395.3,1331.3 1396.8,1331.3 1398.3,1331.3 1399.8,1331.3 1401.3,1331.3 1402.8,1331.3 1404.3,1331.3 1405.8,1331.3 1407.3,1331.3 1408.8,1331.3 1410.3,1331.3 1411.8,1331.3 1413.3,1331.3 1414.8,1331.3 1416.3,1331.3 1417.8,1331.3 1419.3,1331.3 1420.8,1331.3 1422.3,1331.3 1423.8,1331.3 1425.3,1331.3 1426.8,1331.3 1428.3,1331.3 1429.8,1331.3 1431.3,1331.3 1432.8,1331.3 1434.3,1331.3 1435.8,1331.3 1437.3,1331.3 1438.8,1331.3 1440.3,1331.3 1441.8,1331.3 1443.3,1331.3 1444.8,1331.3 1446.3,1331.3 1447.8,1331.3 1449.3,1331.3 1450.8,1331.3 1452.3,1331.3 1453.8,1331.3 1455.3,1331.3 1456.8,1331.3 1457.3,1331.3" fill="none" stroke="#0000ff" stroke-width="3.80" stroke-linejoin="round" stroke-linecap="round" />
<polyline points="313.8,1331.3 315.3,1331.3 316.8,1331.3 318.3,1331.3 319.8,1331.3 321.3,1331.3 322.8,1331.3 324.3,1331.3 325.8,1331.3 327.3,1331.3 328.8,1331.3 330.3,1331.3 331.8,1331.3 333.3,1331.3 334.8,1331.3 336.3,1331.3 337.8,1331.3 339.3,1331.3 340.8,1331.3 342.3,1331.3 343.8,1331.3 345.3,1331.3 346.8,1331.3 348.3,1331.3 349.8,1331.3 351.3,1331.3 352.8,1331.3 354.3,1331.3 355.8,1331.3 357.3,1331.3 358.8,1331.3 360.3,1331.3 361.8,1331.3 363.3,1331.3 364.8,1331.3 366.3,1331.3 367.8,1331.3 369.3,1331.3 370.8,1331.3 372.3,1331.3 373.8,1331.3 375.3,1331.3 376.8,1331.3 378.3,1331.3 379.8,1331.3 381.3,1331.3 382.8,1331.3 384.3,1331.3 385.8,1331.3 387.3,1331.3 388.8,1331.3 390.3,1331.3 391.8,1331.3 393.3,1331.3 394.8,1331.3 396.3,1331.3 397.8,1331.3 399.3,1331.3 400.8,1331.3 402.3,1331.3 403.8,1331.3 405.3,1331.3 406.8,1331.3 408.3,1331.3 409.8,1331.3 411.3,1331.3 412.8,1331.3 414.3,1331.3 415.8,1331.3 417.3,1331.3 418.8,1331.3 420.3,1331.3 421.8,1331.3 423.3,1331.3 424.8,1331.3 426.3,1331.3 427.8,1331.3 429.3,1331.3 430.8,1331.3 432.3,1331.3 433.8,1331.3 435.3,1331.3 436.8,1331.3 438.3,1331.3 439.8,1331.3 441.3,1331.3 442.8,1331.3 444.3,1331.3 445.8,1331.3 447.3,1331.3 448.8,1331.3 450.3,1331.3 451.8,1331.3 453.3,1331.3 454.8,1331.3 456.3,1331.3 457.8,1331.3 459.3,1331.3 460.8,1331.3 462.3,1331.3 463.8,1331.3 465.3,1331.3 466.8,1331.3 468.3,1331.3 469.8,1331.3 471.3,1331.3 472.8,1331.3 474.3,1331.3 475.8,1331.3 477.3,1331.3 478.8,1331.3 480.3,1331.3 481.8,1331.3 483.3,1331.3 484.8,1331.3 486.3,1331.3 487.8,1331.3 489.3,1331.3 490.8,1331.3 492.3,1331.3 493.8,1331.3 495.3,1331.3 496.8,1331.3 498.3,1331.3 499.8,1331.3 501.3,1331.3 502.8,1331.3 504.3,1331.3 505.8,1331.3 507.3,1331.3 508.8,1331.3 510.3,1331.3 511.8,1331.3 513.3,1331.3 514.8,1331.3 516.3,1331.3 517.8,1331.3 519.3,1331.3 520.8,1331.3 522.3,1331.3 523.8,1331.3 525.3,1331.3 526.8,1331.3 528.3,1331.3 529.8,1331.3 531.3,1331.3 532.8,1331.3 534.3,1331.3 535.8,1331.3 537.3,1331.3 538.8,1331.3 540.3,1331.3 541.8,1331.3 543.3,1331.3 544.8,1331.3 546.3,1331.3 547.8,1331.3 549.3,1331.3 550.8,1331.3 552.3,1331.3 553.8,1331.3 555.3,1331.3 556.8,1331.3 558.3,1331.3 559.8,1331.3 561.3,1331.3 562.8,1331.3 564.3,1331.3 565.8,1331.3 567.3,1331.3 568.8,1331.3 570.3,1331.3 571.8,1331.3 573.3,1331.3 574.8,1331.3 576.3,1331.3 577.8,1331.3 579.3,1331.3 580.8,1331.3 582.3,1331.2 583.8,1331.2 585.3,1331.2 586.8,1331.2 588.3,1331.1 589.8,1331.1 591.3,1331.0 592.8,1330.9 594.3,1330.8 595.8,1330.6 597.3,1330.4 598.8,1330.2 600.3,1329.9 601.8,1329.5 603.3,1329.0 604.8,1328.4 606.3,1327.8 607.8,1326.9 609.3,1325.9 610.8,1324.7 612.3,1323.3 613.8,1321.7 615.3,1319.7 616.8,1317.5 618.3,1315.0 619.8,1312.1 621.3,1308.8 622.8,1305.2 624.3,1301.2 625.8,1296.7 627.3,1291.9 628.8,1286.6 630.3,1280.9 631.8,1274.9 633.3,1268.6 634.8,1262.0 636.3,1255.1 637.8,1248.1 639.3,1241.1 640.8,1234.0 642.3,1227.0 643.8,1220.2 645.3,1213.8 646.8,1207.7 648.3,1202.1 649.8,1197.1 651.3,1192.7 652.8,1189.2 654.3,1186.4 655.8,1184.5 657.3,1183.5 658.8,1183.4 660.3,1184.2 661.8,1185.9 663.3,1188.4 664.8,1191.7 666.3,1195.8 667.8,1200.5 669.3,1205.9 670.8,1211.7 672.3,1218.0 673.8,1224.5 675.3,1231.3 676.8,1238.3 678.3,1245.3 679.8,1252.2 681.3,1259.0 682.8,1265.6 684.3,1272.0 685.8,1278.1 687.3,1283.8 688.8,1289.2 690.3,1294.2 691.8,1298.8 693.3,1303.0 694.8,1306.8 696.3,1310.2 697.8,1313.3 699.3,1316.0 700.8,1318.3 702.3,1320.4 703.8,1322.2 705.3,1323.8 706.8,1325.1 708.3,1326.2 709.8,1327.1 711.3,1327.9 712.8,1328.6 714.3,1329.1 715.8,1329.6 717.3,1329.9 718.8,1330.2 720.3,1330.5 721.8,1330.7 723.3,1330.8 724.8,1330.9 726.3,1331.0 727.8,1331.1 729.3,1331.1 730.8,1331.2 732.3,1331.2 733.8,1331.2 735.3,1331.2 736.8,1331.3 738.3,1331.3 739.8,1331.3 741.3,1331.3 742.8,1331.3 744.3,1331.3 745.8,1331.3 747.3,1331.3 748.8,1331.3 750.3,1331.3 751.8,1331.3 753.3,1331.3 754.8,1331.3 756.3,1331.3 757.8,1331.3 759.3,1331.3 760.8,1331.3 762.3,1331.3 763.8,1331.3 765.3,1331.3 766.8,1331.3 768.3,1331.3 769.8,1331.3 771.3,1331.3 772.8,1331.3 774.3,1331.3 775.8,1331.3 777.3,1331.3 778.8,1331.3 780.3,1331.3 781.8,1331.3 783.3,1331.3 784.8,1331.3 786.3,1331.3 787.8,1331.3 789.3,1331.3 790.8,1331.3 792.3,1331.3 793.8,1331.3 795.3,1331.3 796.8,1331.3 798.3,1331.3 799.8,1331.3 801.3,1331.3 802.8,1331.3 804.3,1331.3 805.8,1331.3 807.3,1331.3 808.8,1331.3 810.3,1331.3 811.8,1331.3 813.3,1331.3 814.8,1331.3 816.3,1331.3 817.8,1331.3 819.3,1331.3 820.8,1331.3 822.3,1331.3 823.8,1331.3 825.3,1331.3 826.8,1331.3 828.3,1331.3 829.8,1331.3 831.3,1331.3 832.8,1331.3 834.3,1331.3 835.8,1331.3 837.3,1331.3 838.8,1331.3 840.3,1331.3 841.8,1331.3 843.3,1331.3 844.8,1331.3 846.3,1331.3 847.8,1331.3 849.3,1331.3 850.8,1331.3 852.3,1331.3 853.8,1331.3 855.3,1331.3 856.8,1331.3 858.3,1331.3 859.8,1331.3 861.3,1331.3 862.8,1331.3 864.3,1331.3 865.8,1331.3 867.3,1331.3 868.8,1331.3 870.3,1331.3 871.8,1331.3 873.3,1331.3 874.8,1331.3 876.3,1331.3 877.8,1331.3 879.3,1331.3 880.8,1331.3 882.3,1331.3 883.8,1331.3 885.3,1331.3 886.8,1331.3 888.3,1331.3 889.8,1331.3 891.3,1331.3 892.8,1331.3 894.3,1331.3 895.8,1331.3 897.3,1331.3 898.8,1331.3 900.3,1331.3 901.8,1331.3 903.3,1331.3 904.8,1331.3 906.3,1331.3 907.8,1331.3 909.3,1331.3 910.8,1331.3 912.3,1331.3 913.8,1331.3 915.3,1331.3 916.8,1331.3 918.3,1331.3 919.8,1331.3 921.3,1331.3 922.8,1331.3 924.3,1331.3 925.8,1331.3 927.3,1331.3 928.8,1331.3 930.3,1331.3 931.8,1331.3 933.3,1331.3 934.8,1331.3 936.3,1331.3 937.8,1331.3 939.3,1331.3 940.8,1331.3 942.3,1331.3 943.8,1331.3 945.3,1331.3 946.8,1331.3 948.3,1331.3 949.8,1331.3 951.3,1331.3 952.8,1331.3 954.3,1331.3 955.8,1331.3 957.3,1331.3 958.8,1331.3 960.3,1331.3 961.8,1331.3 963.3,1331.3 964.8,1331.3 966.3,1331.3 967.8,1331.3 969.3,1331.3 970.8,1331.3 972.3,1331.3 973.8,1331.3 975.3,1331.3 976.8,1331.3 978.3,1331.3 979.8,1331.3 981.3,1331.3 982.8,1331.3 984.3,1331.3 985.8,1331.3 987.3,1331.3 988.8,1331.3 990.3,1331.3 991.8,1331.3 993.3,1331.3 994.8,1331.3 996.3,1331.3 997.8,1331.3 999.3,1331.3 1000.8,1331.3 1002.3,1331.3 1003.8,1331.3 1005.3,1331.3 1006.8,1331.3 1008.3,1331.3 1009.8,1331.3 1011.3,1331.3 1012.8,1331.3 1014.3,1331.3 1015.8,1331.3 1017.3,1331.3 1018.8,1331.3 1020.3,1331.3 1021.8,1331.3 1023.3,1331.3 1024.8,1331.3 1026.3,1331.3 1027.8,1331.3 1029.3,1331.3 1030.8,1331.3 1032.3,1331.3 1033.8,1331.3 1035.3,1331.3 1036.8,1331.3 1038.3,1331.3 1039.8,1331.3 1041.3,1331.3 1042.8,1331.3 1044.3,1331.3 1045.8,1331.3 1047.3,1331.3 1048.8,1331.3 1050.3,1331.3 1051.8,1331.3 1053.3,1331.3 1054.8,1331.3 1056.3,1331.3 1057.8,1331.3 1059.3,1331.3 1060.8,1331.3 1062.3,1331.3 1063.8,1331.3 1065.3,1331.3 1066.8,1331.3 1068.3,1331.3 1069.8,1331.3 1071.3,1331.3 1072.8,1331.3 1074.3,1331.3 1075.8,1331.3 1077.3,1331.3 1078.8,1331.3 1080.3,1331.3 1081.8,1331.3 1083.3,1331.3 1084.8,1331.3 1086.3,1331.3 1087.8,1331.3 1089.3,1331.3 1090.8,1331.3 1092.3,1331.3 1093.8,1331.3 1095.3,1331.3 1096.8,1331.3 1098.3,1331.3 1099.8,1331.3 1101.3,1331.3 1102.8,1331.3 1104.3,1331.3 1105.8,1331.3 1107.3,1331.3 1108.8,1331.3 1110.3,1331.3 1111.8,1331.3 1113.3,1331.3 1114.8,1331.3 1116.3,1331.3 1117.8,1331.3 1119.3,1331.3 1120.8,1331.3 1122.3,1331.3 1123.8,1331.3 1125.3,1331.3 1126.8,1331.3 1128.3,1331.3 1129.8,1331.3 1131.3,1331.3 1132.8,1331.3 1134.3,1331.3 1135.8,1331.3 1137.3,1331.3 1138.8,1331.3 1140.3,1331.3 1141.8,1331.3 1143.3,1331.3 1144.8,1331.3 1146.3,1331.3 1147.8,1331.3 1149.3,1331.3 1150.8,1331.3 1152.3,1331.3 1153.8,1331.3 1155.3,1331.3 1156.8,1331.3 1158.3,1331.3 1159.8,1331.3 1161.3,1331.3 1162.8,1331.3 1164.3,1331.3 1165.8,1331.3 1167.3,1331.3 1168.8,1331.3 1170.3,1331.3 1171.8,1331.3 1173.3,1331.3 1174.8,1331.3 1176.3,1331.3 1177.8,1331.3 1179.3,1331.3 1180.8,1331.3 1182.3,1331.3 1183.8,1331.3 1185.3,1331.3 1186.8,1331.3 1188.3,1331.3 1189.8,1331.3 1191.3,1331.3 1192.8,1331.3 1194.3,1331.3 1195.8,1331.3 1197.3,1331.3 1198.8,1331.3 1200.3,1331.3 1201.8,1331.3 1203.3,1331.3 1204.8,1331.3 1206.3,1331.3 1207.8,1331.3 1209.3,1331.3 1210.8,1331.3 1212.3,1331.3 1213.8,1331.3 1215.3,1331.3 1216.8,1331.3 1218.3,1331.3 1219.8,1331.3 1221.3,1331.3 1222.8,1331.3 1224.3,1331.3 1225.8,1331.3 1227.3,1331.3 1228.8,1331.3 1230.3,1331.3 1231.8,1331.3 1233.3,1331.3 1234.8,1331.3 1236.3,1331.3 1237.8,1331.3 1239.3,1331.3 1240.8,1331.3 1242.3,1331.3 1243.8,1331.3 1245.3,1331.3 1246.8,1331.3 1248.3,1331.3 1249.8,1331.3 1251.3,1331.3 1252.8,1331.3 1254.3,1331.3 1255.8,1331.3 1257.3,1331.3 1258.8,1331.3 1260.3,1331.3 1261.8,1331.3 1263.3,1331.3 1264.8,1331.3 1266.3,1331.3 1267.8,1331.3 1269.3,1331.3 1270.8,1331.3 1272.3,1331.3 1273.8,1331.3 1275.3,1331.3 1276.8,1331.3 1278.3,1331.3 1279.8,1331.3 1281.3,1331.3 1282.8,1331.3 1284.3,1331.3 1285.8,1331.3 1287.3,1331.3 1288.8,1331.3 1290.3,1331.3 1291.8,1331.3 1293.3,1331.3 1294.8,1331.3 1296.3,1331.3 1297.8,1331.3 1299.3,1331.3 1300.8,1331.3 1302.3,1331.3 1303.8,1331.3 1305.3,1331.3 1306.8,1331.3 1308.3,1331.3 1309.8,1331.3 1311.3,1331.3 1312.8,1331.3 1314.3,1331.3 1315.8,1331.3 1317.3,1331.3 1318.8,1331.3 1320.3,1331.3 1321.8,1331.3 1323.3,1331.3 1324.8,1331.3 1326.3,1331.3 1327.8,1331.3 1329.3,1331.3 1330.8,1331.3 1332.3,1331.3 1333.8,1331.3 1335.3,1331.3 1336.8,1331.3 1338.3,1331.3 1339.8,1331.3 1341.3,1331.3 1342.8,1331.3 1344.3,1331.3 1345.8,1331.3 1347.3,1331.3 1348.8,1331.3 1350.3,1331.3 1351.8,1331.3 1353.3,1331.3 1354.8,1331.3 1356.3,1331.3 1357.8,1331.3 1359.3,1331.3 1360.8,1331.3 1362.3,1331.3 1363.8,1331.3 1365.3,1331.3 1366.8,1331.3 1368.3,1331.3 1369.8,1331.3 1371.3,1331.3 1372.8,1331.3 1374.3,1331.3 1375.8,1331.3 1377.3,1331.3 1378.8,1331.3 1380.3,1331.3 1381.8,1331.3 1383.3,1331.3 1384.8,1331.3 1386.3,1331.3 1387.8,1331.3 1389.3,1331.3 1390.8,1331.3 1392.3,1331.3 1393.8,1331.3 1395.3,1331.3 1396.8,1331.3 1398.3,1331.3 1399.8,1331.3 1401.3,1331.3 1402.8,1331.3 1404.3,1331.3 1405.8,1331.3 1407.3,1331.3 1408.8,1331.3 1410.3,1331.3 1411.8,1331.3 1413.3,1331.3 1414.8,1331.3 1416.3,1331.3 1417.8,1331.3 1419.3,1331.3 1420.8,1331.3 1422.3,1331.3 1423.8,1331.3 1425.3,1331.3 1426.8,1331.3 1428.3,1331.3 1429.8,1331.3 1431.3,1331.3 1432.8,1331.3 1434.3,1331.3 1435.8,1331.3 1437.3,1331.3 1438.8,1331.3 1440.3,1331.3 1441.8,1331.3 1443.3,1331.3 1444.8,1331.3 1446.3,1331.3 1447.8,1331.3 1449.3,1331.3 1450.8,1331.3 1452.3,1331.3 1453.8,1331.3 1455.3,1331.3 1456.8,1331.3 1457.3,1331.3" fill="none" stroke="#0000ff" stroke-width="3.80" stroke-linejoin="round" stroke-linecap="round" />
<polyline points="313.8,1331.3 315.3,1331.3 316.8,1331.3 318.3,1331.3 319.8,1331.3 321.3,1331.3 322.8,1331.3 324.3,1331.3 325.8,1331.3 327.3,1331.3 328.8,1331.3 330.3,1331.3 331.8,1331.3 333.3,1331.3 334.8,1331.3 336.3,1331.3 337.8,1331.3 339.3,1331.3 340.8,1331.3 342.3,1331.3 343.8,1331.3 345.3,1331.3 346.8,1331.3 348.3,1331.3 349.8,1331.3 351.3,1331.3 352.8,1331.3 354.3,1331.3 355.8,1331.3 357.3,1331.3 358.8,1331.3 360.3,1331.3 361.8,1331.3 363.3,1331.3 364.8,1331.3 366.3,1331.3 367.8,1331.3 369.3,1331.3 370.8,1331.3 372.3,1331.3 373.8,1331.3 375.3,1331.3 376.8,1331.3 378.3,1331.3 379.8,1331.3 381.3,1331.3 382.8,1331.3 384.3,1331.3 385.8,1331.3 387.3,1331.3 388.8,1331.3 390.3,1331.3 391.8,1331.3 393.3,1331.3 394.8,1331.3 396.3,1331.3 397.8,1331.3 399.3,1331.3 400.8,1331.3 402.3,1331.3 403.8,1331.3 405.3,1331.3 406.8,1331.3 408.3,1331.3 409.8,1331.3 411.3,1331.3 412.8,1331.3 414.3,1331.3 415.8,1331.3 417.3,1331.3 418.8,1331.3 420.3,1331.3 421.8,1331.3 423.3,1331.3 424.8,1331.3 426.3,1331.3 427.8,1331.3 429.3,1331.3 430.8,1331.3 432.3,1331.3 433.8,1331.3 435.3,1331.3 436.8,1331.3 438.3,1331.3 439.8,1331.3 441.3,1331.3 442.8,1331.3 444.3,1331.3 445.8,1331.3 447.3,1331.3 448.8,1331.3 450.3,1331.3 451.8,1331.3 453.3,1331.3 454.8,1331.3 456.3,1331.3 457.8,1331.3 459.3,1331.3 460.8,1331.3 462.3,1331.3 463.8,1331.3 465.3,1331.3 466.8,1331.3 468.3,1331.3 469.8,1331.3 471.3,1331.3 472.8,1331.3 474.3,1331.3 475.8,1331.3 477.3,1331.3 478.8,1331.3 480.3,1331.3 481.8,1331.3 483.3,1331.3 484.8,1331.3 486.3,1331.3 487.8,1331.3 489.3,1331.3 490.8,1331.3 492.3,1331.3 493.8,1331.3 495.3,1331.3 496.8,1331.3 498.3,1331.3 499.8,1331.3 501.3,1331.3 502.8,1331.3 504.3,1331.3 505.8,1331.3 507.3,1331.3 508.8,1331.3 510.3,1331.3 511.8,1331.3 513.3,1331.3 514.8,1331.3 516.3,1331.3 517.8,1331.3 519.3,1331.3 520.8,1331.3 522.3,1331.3 523.8,1331.3 525.3,1331.3 526.8,1331.3 528.3,1331.3 529.8,1331.3 531.3,1331.3 532.8,1331.3 534.3,1331.3 535.8,1331.3 537.3,1331.3 538.8,1331.3 540.3,1331.3 541.8,1331.3 543.3,1331.3 544.8,1331.3 546.3,1331.3 547.8,1331.3 549.3,1331.3 550.8,1331.3 552.3,1331.3 553.8,1331.3 555.3,1331.3 556.8,1331.3 558.3,1331.3 559.8,1331.3 561.3,1331.3 562.8,1331.3 564.3,1331.3 565.8,1331.3 567.3,1331.3 568.8,1331.3 570.3,1331.3 571.8,1331.3 573.3,1331.3 574.8,1331.3 576.3,1331.3 577.8,1331.3 579.3,1331.3 580.8,1331.3 582.3,1331.3 583.8,1331.3 585.3,1331.3 586.8,1331.3 588.3,1331.3 589.8,1331.3 591.3,1331.3 592.8,1331.3 594.3,1331.3 595.8,1331.3 597.3,1331.3 598.8,1331.3 600.3,1331.3 601.8,1331.3 603.3,1331.3 604.8,1331.3 606.3,1331.3 607.8,1331.3 609.3,1331.3 610.8,1331.3 612.3,1331.3 613.8,1331.3 615.3,1331.3 616.8,1331.3 618.3,1331.3 619.8,1331.3 621.3,1331.3 622.8,1331.3 624.3,1331.3 625.8,1331.3 627.3,1331.3 628.8,1331.3 630.3,1331.3 631.8,1331.3 633.3,1331.3 634.8,1331.3 636.3,1331.3 637.8,1331.3 639.3,1331.3 640.8,1331.3 642.3,1331.3 643.8,1331.3 645.3,1331.3 646.8,1331.3 648.3,1331.3 649.8,1331.3 651.3,1331.3 652.8,1331.3 654.3,1331.3 655.8,1331.3 657.3,1331.3 658.8,1331.3 660.3,1331.3 661.8,1331.3 663.3,1331.3 664.8,1331.3 666.3,1331.3 667.8,1331.3 669.3,1331.3 670.8,1331.3 672.3,1331.3 673.8,1331.3 675.3,1331.3 676.8,1331.3 678.3,1331.3 679.8,1331.3 681.3,1331.3 682.8,1331.3 684.3,1331.3 685.8,1331.3 687.3,1331.3 688.8,1331.3 690.3,1331.3 691.8,1331.3 693.3,1331.3 694.8,1331.3 696.3,1331.3 697.8,1331.3 699.3,1331.3 700.8,1331.3 702.3,1331.3 703.8,1331.3 705.3,1331.3 706.8,1331.3 708.3,1331.3 709.8,1331.3 711.3,1331.3 712.8,1331.3 714.3,1331.3 715.8,1331.3 717.3,1331.3 718.8,1331.3 720.3,1331.3 721.8,1331.3 723.3,1331.3 724.8,1331.3 726.3,1331.3 727.8,1331.3 729.3,1331.3 730.8,1331.3 732.3,1331.3 733.8,1331.3 735.3,1331.3 736.8,1331.3 738.3,1331.3 739.8,1331.3 741.3,1331.3 742.8,1331.3 744.3,1331.3 745.8,1331.3 747.3,1331.3 748.8,1331.3 750.3,1331.3 751.8,1331.3 753.3,1331.3 754.8,1331.3 756.3,1331.3 757.8,1331.3 759.3,1331.3 760.8,1331.3 762.3,1331.3 763.8,1331.3 765.3,1331.3 766.8,1331.2 768.3,1331.2 769.8,1331.2 771.3,1331.2 772.8,1331.2 774.3,1331.2 775.8,1331.2 777.3,1331.2 778.8,1331.2 780.3,1331.2 781.8,1331.2 783.3,1331.2 784.8,1331.2 786.3,1331.2 787.8,1331.1 789.3,1331.1 790.8,1331.1 792.3,1331.1 793.8,1331.1 795.3,1331.1 796.8,1331.1 798.3,1331.1 799.8,1331.0 801.3,1331.0 802.8,1331.0 804.3,1331.0 805.8,1330.9 807.3,1330.9 808.8,1330.9 810.3,1330.9 811.8,1330.8 813.3,1330.8 814.8,1330.8 816.3,1330.7 817.8,1330.7 819.3,1330.7 820.8,1330.6 822.3,1330.6 823.8,1330.5 825.3,1330.5 826.8,1330.4 828.3,1330.4 829.8,1330.3 831.3,1330.2 832.8,1330.2 834.3,1330.1 835.8,1330.0 837.3,1329.9 838.8,1329.9 840.3,1329.8 841.8,1329.7 843.3,1329.6 844.8,1329.5 846.3,1329.4 847.8,1329.2 849.3,1329.1 850.8,1329.0 852.3,1328.9 853.8,1328.7 855.3,1328.6 856.8,1328.4 858.3,1328.2 859.8,1328.1 861.3,1327.9 862.8,1327.7 864.3,1327.5 865.8,1327.3 867.3,1327.1 868.8,1326.8 870.3,1326.6 871.8,1326.3 873.3,1326.1 874.8,1325.8 876.3,1325.5 877.8,1325.2 879.3,1324.9 880.8,1324.6 882.3,1324.2 883.8,1323.8 885.3,1323.5 886.8,1323.1 888.3,1322.7 889.8,1322.2 891.3,1321.8 892.8,1321.3 894.3,1320.8 895.8,1320.3 897.3,1319.8 898.8,1319.3 900.3,1318.7 901.8,1318.1 903.3,1317.5 904.8,1316.9 906.3,1316.2 907.8,1315.6 909.3,1314.9 910.8,1314.1 912.3,1313.4 913.8,1312.6 915.3,1311.8 916.8,1310.9 918.3,1310.1 919.8,1309.2 921.3,1308.3 922.8,1307.3 924.3,1306.3 925.8,1305.3 927.3,1304.3 928.8,1303.2 930.3,1302.1 931.8,1300.9 933.3,1299.7 934.8,1298.5 936.3,1297.3 937.8,1296.0 939.3,1294.7 940.8,1293.3 942.3,1291.9 943.8,1290.5 945.3,1289.0 946.8,1287.5 948.3,1286.0 949.8,1284.4 951.3,1282.8 952.8,1281.1 954.3,1279.4 955.8,1277.7 957.3,1276.0 958.8,1274.1 960.3,1272.3 961.8,1270.4 963.3,1268.5 964.8,1266.5 966.3,1264.5 967.8,1262.5 969.3,1260.4 970.8,1258.3 972.3,1256.2 973.8,1254.0 975.3,1251.8 976.8,1249.6 978.3,1247.3 979.8,1245.0 981.3,1242.6 982.8,1240.2 984.3,1237.8 985.8,1235.4 987.3,1232.9 988.8,1230.4 990.3,1227.9 991.8,1225.4 993.3,1222.8 994.8,1220.2 996.3,1217.6 997.8,1214.9 999.3,1212.3 1000.8,1209.6 1002.3,1206.9 1003.8,1204.2 1005.3,1201.5 1006.8,1198.7 1008.3,1196.0 1009.8,1193.2 1011.3,1190.5 1012.8,1187.7 1014.3,1185.0 1015.8,1182.2 1017.3,1179.4 1018.8,1176.7 1020.3,1173.9 1021.8,1171.2 1023.3,1168.4 1024.8,1165.7 1026.3,1163.0 1027.8,1160.3 1029.3,1157.6 1030.8,1155.0 1032.3,1152.3 1033.8,1149.7 1035.3,1147.1 1036.8,1144.6 1038.3,1142.0 1039.8,1139.6 1041.3,1137.1 1042.8,1134.7 1044.3,1132.3 1045.8,1130.0 1047.3,1127.7 1048.8,1125.4 1050.3,1123.2 1051.8,1121.1 1053.3,1119.0 1054.8,1117.0 1056.3,1115.0 1057.8,1113.1 1059.3,1111.2 1060.8,1109.4 1062.3,1107.7 1063.8,1106.0 1065.3,1104.4 1066.8,1102.9 1068.3,1101.4 1069.8,1100.0 1071.3,1098.7 1072.8,1097.5 1074.3,1096.3 1075.8,1095.2 1077.3,1094.2 1078.8,1093.3 1080.3,1092.4 1081.8,1091.6 1083.3,1091.0 1084.8,1090.4 1086.3,1089.8 1087.8,1089.4 1089.3,1089.1 1090.8,1088.8 1092.3,1088.6 1093.8,1088.5 1095.3,1088.5 1096.8,1088.6 1098.3,1088.7 1099.8,1089.0 1101.3,1089.3 1102.8,1089.7 1104.3,1090.2 1105.8,1090.8 1107.3,1091.5 1108.8,1092.3 1110.3,1093.1 1111.8,1094.0 1113.3,1095.0 1114.8,1096.1 1116.3,1097.2 1117.8,1098.4 1119.3,1099.7 1120.8,1101.1 1122.3,1102.6 1123.8,1104.1 1125.3,1105.7 1126.8,1107.3 1128.3,1109.0 1129.8,1110.8 1131.3,1112.7 1132.8,1114.6 1134.3,1116.6 1135.8,1118.6 1137.3,1120.7 1138.8,1122.8 1140.3,1125.0 1141.8,1127.2 1143.3,1129.5 1144.8,1131.8 1146.3,1134.2 1147.8,1136.6 1149.3,1139.1 1150.8,1141.5 1152.3,1144.1 1153.8,1146.6 1155.3,1149.2 1156.8,1151.8 1158.3,1154.4 1159.8,1157.1 1161.3,1159.8 1162.8,1162.4 1164.3,1165.2 1165.8,1167.9 1167.3,1170.6 1168.8,1173.4 1170.3,1176.1 1171.8,1178.9 1173.3,1181.6 1174.8,1184.4 1176.3,1187.2 1177.8,1189.9 1179.3,1192.7 1180.8,1195.4 1182.3,1198.2 1183.8,1200.9 1185.3,1203.6 1186.8,1206.4 1188.3,1209.0 1189.8,1211.7 1191.3,1214.4 1192.8,1217.0 1194.3,1219.7 1195.8,1222.3 1197.3,1224.8 1198.8,1227.4 1200.3,1229.9 1201.8,1232.4 1203.3,1234.9 1204.8,1237.3 1206.3,1239.8 1207.8,1242.1 1209.3,1244.5 1210.8,1246.8 1212.3,1249.1 1213.8,1251.4 1215.3,1253.6 1216.8,1255.8 1218.3,1257.9 1219.8,1260.0 1221.3,1262.1 1222.8,1264.1 1224.3,1266.1 1225.8,1268.1 1227.3,1270.0 1228.8,1271.9 1230.3,1273.8 1231.8,1275.6 1233.3,1277.4 1234.8,1279.1 1236.3,1280.8 1237.8,1282.5 1239.3,1284.1 1240.8,1285.7 1242.3,1287.2 1243.8,1288.7 1245.3,1290.2 1246.8,1291.6 1248.3,1293.0 1249.8,1294.4 1251.3,1295.7 1252.8,1297.0 1254.3,1298.3 1255.8,1299.5 1257.3,1300.7 1258.8,1301.8 1260.3,1303.0 1261.8,1304.0 1263.3,1305.1 1264.8,1306.1 1266.3,1307.1 1267.8,1308.1 1269.3,1309.0 1270.8,1309.9 1272.3,1310.8 1273.8,1311.6 1275.3,1312.4 1276.8,1313.2 1278.3,1314.0 1279.8,1314.7 1281.3,1315.4 1282.8,1316.1 1284.3,1316.8 1285.8,1317.4 1287.3,1318.0 1288.8,1318.6 1290.3,1319.2 1291.8,1319.7 1293.3,1320.2 1294.8,1320.7 1296.3,1321.2 1297.8,1321.7 1299.3,1322.2 1300.8,1322.6 1302.3,1323.0 1303.8,1323.4 1305.3,1323.8 1306.8,1324.1 1308.3,1324.5 1309.8,1324.8 1311.3,1325.1 1312.8,1325.4 1314.3,1325.7 1315.8,1326.0 1317.3,1326.3 1318.8,1326.5 1320.3,1326.8 1321.8,1327.0 1323.3,1327.2 1324.8,1327.5 1326.3,1327.7 1327.8,1327.9 1329.3,1328.0 1330.8,1328.2 1332.3,1328.4 1333.8,1328.5 1335.3,1328.7 1336.8,1328.8 1338.3,1329.0 1339.8,1329.1 1341.3,1329.2 1342.8,1329.3 1344.3,1329.5 1345.8,1329.6 1347.3,1329.7 1348.8,1329.8 1350.3,1329.8 1351.8,1329.9 1353.3,1330.0 1354.8,1330.1 1356.3,1330.2 1357.8,1330.2 1359.3,1330.3 1360.8,1330.4 1362.3,1330.4 1363.8,1330.5 1365.3,1330.5 1366.8,1330.6 1368.3,1330.6 1369.8,1330.7 1371.3,1330.7 1372.8,1330.7 1374.3,1330.8 1375.8,1330.8 1377.3,1330.8 1378.8,1330.9 1380.3,1330.9 1381.8,1330.9 1383.3,1330.9 1384.8,1331.0 1386.3,1331.0 1387.8,1331.0 1389.3,1331.0 1390.8,1331.0 1392.3,1331.1 1393.8,1331.1 1395.3,1331.1 1396.8,1331.1 1398.3,1331.1 1399.8,1331.1 1401.3,1331.1 1402.8,1331.2 1404.3,1331.2 1405.8,1331.2 1407.3,1331.2 1408.8,1331.2 1410.3,1331.2 1411.8,1331.2 1413.3,1331.2 1414.8,1331.2 1416.3,1331.2 1417.8,1331.2 1419.3,1331.2 1420.8,1331.2 1422.3,1331.2 1423.8,1331.2 1425.3,1331.3 1426.8,1331.3 1428.3,1331.3 1429.8,1331.3 1431.3,1331.3 1432.8,1331.3 1434.3,1331.3 1435.8,1331.3 1437.3,1331.3 1438.8,1331.3 1440.3,1331.3 1441.8,1331.3 1443.3,1331.3 1444.8,1331.3 1446.3,1331.3 1447.8,1331.3 1449.3,1331.3 1450.8,1331.3 1452.3,1331.3 1453.8,1331.3 1455.3,1331.3 1456.8,1331.3 1457.3,1331.3" fill="none" stroke="#0000ff" stroke-width="3.80" stroke-linejoin="round" stroke-linecap="round" />
<polyline points="313.8,1331.3 315.3,1331.3 316.8,1331.3 318.3,1331.3 319.8,1331.3 321.3,1331.3 322.8,1331.3 324.3,1331.3 325.8,1331.3 327.3,1331.3 328.8,1331.3 330.3,1331.3 331.8,1331.3 333.3,1331.3 334.8,1331.3 336.3,1331.3 337.8,1331.3 339.3,1331.3 340.8,1331.3 342.3,1331.3 343.8,1331.3 345.3,1331.3 346.8,1331.3 348.3,1331.3 349.8,1331.3 351.3,1331.3 352.8,1331.3 354.3,1331.3 355.8,1331.3 357.3,1331.3 358.8,1331.3 360.3,1331.3 361.8,1331.3 363.3,1331.3 364.8,1331.3 366.3,1331.3 367.8,1331.3 369.3,1331.3 370.8,1331.3 372.3,1331.3 373.8,1331.3 375.3,1331.3 376.8,1331.3 378.3,1331.3 379.8,1331.3 381.3,1331.3 382.8,1331.3 384.3,1331.3 385.8,1331.3 387.3,1331.3 388.8,1331.3 390.3,1331.3 391.8,1331.3 393.3,1331.3 394.8,1331.3 396.3,1331.3 397.8,1331.3 399.3,1331.3 400.8,1331.3 402.3,1331.3 403.8,1331.3 405.3,1331.3 406.8,1331.3 408.3,1331.3 409.8,1331.3 411.3,1331.3 412.8,1331.3 414.3,1331.3 415.8,1331.3 417.3,1331.3 418.8,1331.3 420.3,1331.3 421.8,1331.3 423.3,1331.3 424.8,1331.3 426.3,1331.3 427.8,1331.3 429.3,1331.3 430.8,1331.3 432.3,1331.3 433.8,1331.3 435.3,1331.3 436.8,1331.3 438.3,1331.3 439.8,1331.3 441.3,1331.3 442.8,1331.3 444.3,1331.3 445.8,1331.3 447.3,1331.3 448.8,1331.3 450.3,1331.3 451.8,1331.3 453.3,1331.3 454.8,1331.3 456.3,1331.3 457.8,1331.3 459.3,1331.3 460.8,1331.3 462.3,1331.3 463.8,1331.3 465.3,1331.3 466.8,1331.3 468.3,1331.3 469.8,1331.3 471.3,1331.3 472.8,1331.3 474.3,1331.3 475.8,1331.3 477.3,1331.3 478.8,1331.3 480.3,1331.3 481.8,1331.3 483.3,1331.3 484.8,1331.3 486.3,1331.3 487.8,1331.3 489.3,1331.3 490.8,1331.3 492.3,1331.3 493.8,1331.3 495.3,1331.3 496.8,1331.3 498.3,1331.3 499.8,1331.3 501.3,1331.3 502.8,1331.3 504.3,1331.3 505.8,1331.3 507.3,1331.3 508.8,1331.3 510.3,1331.3 511.8,1331.3 513.3,1331.3 514.8,1331.3 516.3,1331.3 517.8,1331.3 519.3,1331.3 520.8,1331.3 522.3,1331.3 523.8,1331.3 525.3,1331.3 526.8,1331.3 528.3,1331.3 529.8,1331.3 531.3,1331.3 532.8,1331.3 534.3,1331.3 535.8,1331.3 537.3,1331.3 538.8,1331.3 540.3,1331.3 541.8,1331.3 543.3,1331.3 544.8,1331.3 546.3,1331.3 547.8,1331.3 549.3,1331.3 550.8,1331.3 552.3,1331.3 553.8,1331.3 555.3,1331.3 556.8,1331.3 558.3,1331.3 559.8,1331.3 561.3,1331.3 562.8,1331.3 564.3,1331.3 565.8,1331.3 567.3,1331.3 568.8,1331.3 570.3,1331.3 571.8,1331.3 573.3,1331.3 574.8,1331.3 576.3,1331.3 577.8,1331.3 579.3,1331.3 580.8,1331.3 582.3,1331.3 583.8,1331.3 585.3,1331.3 586.8,1331.3 588.3,1331.3 589.8,1331.3 591.3,1331.3 592.8,1331.3 594.3,1331.3 595.8,1331.3 597.3,1331.3 598.8,1331.3 600.3,1331.3 601.8,1331.3 603.3,1331.3 604.8,1331.3 606.3,1331.3 607.8,1331.3 609.3,1331.3 610.8,1331.3 612.3,1331.3 613.8,1331.3 615.3,1331.3 616.8,1331.3 618.3,1331.3 619.8,1331.3 621.3,1331.3 622.8,1331.3 624.3,1331.3 625.8,1331.3 627.3,1331.3 628.8,1331.3 630.3,1331.3 631.8,1331.3 633.3,1331.3 634.8,1331.3 636.3,1331.3 637.8,1331.3 639.3,1331.3 640.8,1331.3 642.3,1331.3 643.8,1331.3 645.3,1331.3 646.8,1331.3 648.3,1331.3 649.8,1331.3 651.3,1331.3 652.8,1331.3 654.3,1331.3 655.8,1331.3 657.3,1331.3 658.8,1331.3 660.3,1331.3 661.8,1331.3 663.3,1331.3 664.8,1331.3 666.3,1331.3 667.8,1331.3 669.3,1331.3 670.8,1331.3 672.3,1331.3 673.8,1331.3 675.3,1331.3 676.8,1331.3 678.3,1331.3 679.8,1331.3 681.3,1331.3 682.8,1331.3 684.3,1331.3 685.8,1331.3 687.3,1331.3 688.8,1331.3 690.3,1331.3 691.8,1331.3 693.3,1331.3 694.8,1331.3 696.3,1331.3 697.8,1331.3 699.3,1331.3 700.8,1331.3 702.3,1331.3 703.8,1331.3 705.3,1331.3 706.8,1331.3 708.3,1331.3 709.8,1331.3 711.3,1331.3 712.8,1331.3 714.3,1331.3 715.8,1331.3 717.3,1331.3 718.8,1331.3 720.3,1331.3 721.8,1331.3 723.3,1331.3 724.8,1331.3 726.3,1331.3 727.8,1331.3 729.3,1331.3 730.8,1331.3 732.3,1331.3 733.8,1331.3 735.3,1331.3 736.8,1331.3 738.3,1331.3 739.8,1331.3 741.3,1331.3 742.8,1331.3 744.3,1331.3 745.8,1331.3 747.3,1331.3 748.8,1331.3 750.3,1331.3 751.8,1331.3 753.3,1331.3 754.8,1331.3 756.3,1331.3 757.8,1331.3 759.3,1331.3 760.8,1331.3 762.3,1331.3 763.8,1331.3 765.3,1331.3 766.8,1331.3 768.3,1331.3 769.8,1331.3 771.3,1331.3 772.8,1331.3 774.3,1331.3 775.8,1331.3 777.3,1331.3 778.8,1331.3 780.3,1331.3 781.8,1331.3 783.3,1331.3 784.8,1331.3 786.3,1331.3 787.8,1331.3 789.3,1331.3 790.8,1331.3 792.3,1331.3 793.8,1331.3 795.3,1331.3 796.8,1331.3 798.3,1331.3 799.8,1331.3 801.3,1331.3 802.8,1331.3 804.3,1331.3 805.8,1331.3 807.3,1331.3 808.8,1331.3 810.3,1331.3 811.8,1331.3 813.3,1331.3 814.8,1331.3 816.3,1331.3 817.8,1331.3 819.3,1331.3 820.8,1331.3 822.3,1331.3 823.8,1331.3 825.3,1331.3 826.8,1331.3 828.3,1331.3 829.8,1331.3 831.3,1331.3 832.8,1331.3 834.3,1331.3 835.8,1331.3 837.3,1331.3 838.8,1331.3 840.3,1331.3 841.8,1331.3 843.3,1331.3 844.8,1331.3 846.3,1331.3 847.8,1331.3 849.3,1331.3 850.8,1331.3 852.3,1331.3 853.8,1331.3 855.3,1331.3 856.8,1331.3 858.3,1331.3 859.8,1331.3 861.3,1331.3 862.8,1331.3 864.3,1331.3 865.8,1331.3 867.3,1331.3 868.8,1331.3 870.3,1331.3 871.8,1331.3 873.3,1331.3 874.8,1331.3 876.3,1331.3 877.8,1331.3 879.3,1331.3 880.8,1331.3 882.3,1331.3 883.8,1331.3 885.3,1331.3 886.8,1331.3 888.3,1331.3 889.8,1331.3 891.3,1331.3 892.8,1331.3 894.3,1331.3 895.8,1331.3 897.3,1331.3 898.8,1331.3 900.3,1331.3 901.8,1331.3 903.3,1331.3 904.8,1331.3 906.3,1331.3 907.8,1331.3 909.3,1331.3 910.8,1331.3 912.3,1331.3 913.8,1331.3 915.3,1331.3 916.8,1331.3 918.3,1331.3 919.8,1331.3 921.3,1331.3 922.8,1331.3 924.3,1331.3 925.8,1331.3 927.3,1331.3 928.8,1331.3 930.3,1331.3 931.8,1331.3 933.3,1331.3 934.8,1331.3 936.3,1331.3 937.8,1331.3 939.3,1331.3 940.8,1331.3 942.3,1331.3 943.8,1331.3 945.3,1331.3 946.8,1331.3 948.3,1331.3 949.8,1331.3 951.3,1331.3 952.8,1331.3 954.3,1331.3 955.8,1331.3 957.3,1331.3 958.8,1331.3 960.3,1331.3 961.8,1331.3 963.3,1331.3 964.8,1331.3 966.3,1331.3 967.8,1331.3 969.3,1331.3 970.8,1331.3 972.3,1331.3 973.8,1331.3 975.3,1331.3 976.8,1331.3 978.3,1331.3 979.8,1331.3 981.3,1331.3 982.8,1331.3 984.3,1331.3 985.8,1331.3 987.3,1331.3 988.8,1331.3 990.3,1331.3 991.8,1331.3 993.3,1331.3 994.8,1331.3 996.3,1331.3 997.8,1331.3 999.3,1331.3 1000.8,1331.3 1002.3,1331.3 1003.8,1331.3 1005.3,1331.3 1006.8,1331.3 1008.3,1331.3 1009.8,1331.3 1011.3,1331.3 1012.8,1331.3 1014.3,1331.3 1015.8,1331.3 1017.3,1331.3 1018.8,1331.3 1020.3,1331.3 1021.8,1331.3 1023.3,1331.3 1024.8,1331.3 1026.3,1331.3 1027.8,1331.3 1029.3,1331.3 1030.8,1331.3 1032.3,1331.3 1033.8,1331.3 1035.3,1331.3 1036.8,1331.3 1038.3,1331.3 1039.8,1331.3 1041.3,1331.3 1042.8,1331.3 1044.3,1331.3 1045.8,1331.3 1047.3,1331.3 1048.8,1331.3 1050.3,1331.3 1051.8,1331.3 1053.3,1331.3 1054.8,1331.3 1056.3,1331.3 1057.8,1331.3 1059.3,1331.3 1060.8,1331.3 1062.3,1331.3 1063.8,1331.3 1065.3,1331.3 1066.8,1331.3 1068.3,1331.3 1069.8,1331.3 1071.3,1331.3 1072.8,1331.3 1074.3,1331.3 1075.8,1331.3 1077.3,1331.3 1078.8,1331.3 1080.3,1331.3 1081.8,1331.3 1083.3,1331.3 1084.8,1331.3 1086.3,1331.3 1087.8,1331.3 1089.3,1331.3 1090.8,1331.3 1092.3,1331.3 1093.8,1331.3 1095.3,1331.3 1096.8,1331.3 1098.3,1331.3 1099.8,1331.3 1101.3,1331.3 1102.8,1331.3 1104.3,1331.3 1105.8,1331.3 1107.3,1331.3 1108.8,1331.3 1110.3,1331.3 1111.8,1331.3 1113.3,1331.3 1114.8,1331.3 1116.3,1331.3 1117.8,1331.3 1119.3,1331.3 1120.8,1331.2 1122.3,1331.2 1123.8,1331.2 1125.3,1331.2 1126.8,1331.2 1128.3,1331.2 1129.8,1331.2 1131.3,1331.2 1132.8,1331.2 1134.3,1331.1 1135.8,1331.1 1137.3,1331.1 1138.8,1331.1 1140.3,1331.0 1141.8,1331.0 1143.3,1331.0 1144.8,1330.9 1146.3,1330.9 1147.8,1330.8 1149.3,1330.8 1150.8,1330.7 1152.3,1330.6 1153.8,1330.6 1155.3,1330.5 1156.8,1330.4 1158.3,1330.3 1159.8,1330.1 1161.3,1330.0 1162.8,1329.9 1164.3,1329.7 1165.8,1329.5 1167.3,1329.4 1168.8,1329.2 1170.3,1328.9 1171.8,1328.7 1173.3,1328.4 1174.8,1328.1 1176.3,1327.8 1177.8,1327.5 1179.3,1327.1 1180.8,1326.7 1182.3,1326.3 1183.8,1325.8 1185.3,1325.3 1186.8,1324.8 1188.3,1324.2 1189.8,1323.6 1191.3,1322.9 1192.8,1322.2 1194.3,1321.4 1195.8,1320.5 1197.3,1319.7 1198.8,1318.7 1200.3,1317.7 1201.8,1316.6 1203.3,1315.5 1204.8,1314.3 1206.3,1313.0 1207.8,1311.7 1209.3,1310.3 1210.8,1308.7 1212.3,1307.2 1213.8,1305.5 1215.3,1303.7 1216.8,1301.9 1218.3,1300.0 1219.8,1298.0 1221.3,1295.8 1222.8,1293.6 1224.3,1291.4 1225.8,1289.0 1227.3,1286.5 1228.8,1283.9 1230.3,1281.3 1231.8,1278.5 1233.3,1275.7 1234.8,1272.8 1236.3,1269.7 1237.8,1266.6 1239.3,1263.5 1240.8,1260.2 1242.3,1256.9 1243.8,1253.5 1245.3,1250.0 1246.8,1246.5 1248.3,1242.9 1249.8,1239.3 1251.3,1235.6 1252.8,1231.9 1254.3,1228.2 1255.8,1224.5 1257.3,1220.7 1258.8,1216.9 1260.3,1213.2 1261.8,1209.4 1263.3,1205.7 1264.8,1202.0 1266.3,1198.3 1267.8,1194.7 1269.3,1191.1 1270.8,1187.6 1272.3,1184.2 1273.8,1180.9 1275.3,1177.6 1276.8,1174.5 1278.3,1171.5 1279.8,1168.6 1281.3,1165.8 1282.8,1163.2 1284.3,1160.7 1285.8,1158.4 1287.3,1156.2 1288.8,1154.2 1290.3,1152.4 1291.8,1150.8 1293.3,1149.3 1294.8,1148.1 1296.3,1147.0 1297.8,1146.2 1299.3,1145.5 1300.8,1145.1 1302.3,1144.8 1303.8,1144.8 1305.3,1145.0 1306.8,1145.4 1308.3,1145.9 1309.8,1146.7 1311.3,1147.7 1312.8,1148.9 1314.3,1150.3 1315.8,1151.9 1317.3,1153.6 1318.8,1155.5 1320.3,1157.6 1321.8,1159.9 1323.3,1162.3 1324.8,1164.9 1326.3,1167.6 1327.8,1170.5 1329.3,1173.5 1330.8,1176.6 1332.3,1179.8 1333.8,1183.1 1335.3,1186.5 1336.8,1189.9 1338.3,1193.5 1339.8,1197.1 1341.3,1200.7 1342.8,1204.4 1344.3,1208.2 1345.8,1211.9 1347.3,1215.7 1348.8,1219.4 1350.3,1223.2 1351.8,1227.0 1353.3,1230.7 1354.8,1234.4 1356.3,1238.1 1357.8,1241.7 1359.3,1245.3 1360.8,1248.9 1362.3,1252.3 1363.8,1255.8 1365.3,1259.1 1366.8,1262.4 1368.3,1265.6 1369.8,1268.7 1371.3,1271.8 1372.8,1274.7 1374.3,1277.6 1375.8,1280.4 1377.3,1283.1 1378.8,1285.7 1380.3,1288.2 1381.8,1290.6 1383.3,1292.9 1384.8,1295.1 1386.3,1297.3 1387.8,1299.3 1389.3,1301.3 1390.8,1303.1 1392.3,1304.9 1393.8,1306.6 1395.3,1308.2 1396.8,1309.8 1398.3,1311.2 1399.8,1312.6 1401.3,1313.9 1402.8,1315.1 1404.3,1316.3 1405.8,1317.4 1407.3,1318.4 1408.8,1319.4 1410.3,1320.3 1411.8,1321.1 1413.3,1321.9 1414.8,1322.6 1416.3,1323.3 1417.8,1324.0 1419.3,1324.6 1420.8,1325.1 1422.3,1325.6 1423.8,1326.1 1425.3,1326.6 1426.8,1327.0 1428.3,1327.4 1429.8,1327.7 1431.3,1328.0 1432.8,1328.3 1434.3,1328.6 1435.8,1328.9 1437.3,1329.1 1438.8,1329.3 1440.3,1329.5 1441.8,1329.7 1443.3,1329.8 1444.8,1330.0 1446.3,1330.1 1447.8,1330.2 1449.3,1330.3 1450.8,1330.4 1452.3,1330.5 1453.8,1330.6 1455.3,1330.7 1456.8,1330.7 1457.3,1330.8" fill="none" stroke="#0000ff" stroke-width="3.80" stroke-linejoin="round" stroke-linecap="round" />
<polyline points="313.8,1331.3 315.3,1331.3 316.8,1331.3 318.3,1331.3 319.8,1331.3 321.3,1331.3 322.8,1331.3 324.3,1331.3 325.8,1331.3 327.3,1331.3 328.8,1331.3 330.3,1331.3 331.8,1331.3 333.3,1331.3 334.8,1331.3 336.3,1331.3 337.8,1331.3 339.3,1331.3 340.8,1331.3 342.3,1331.3 343.8,1331.3 345.3,1331.3 346.8,1331.3 348.3,1331.3 349.8,1331.3 351.3,1331.3 352.8,1331.3 354.3,1331.3 355.8,1331.3 357.3,1331.3 358.8,1331.3 360.3,1331.3 361.8,1331.3 363.3,1331.3 364.8,1331.3 366.3,1331.3 367.8,1331.3 369.3,1331.3 370.8,1331.3 372.3,1331.3 373.8,1331.3 375.3,1331.3 376.8,1331.3 378.3,1331.3 379.8,1331.3 381.3,1331.3 382.8,1331.3 384.3,1331.3 385.8,1331.3 387.3,1331.3 388.8,1331.3 390.3,1331.3 391.8,1331.3 393.3,1331.3 394.8,1331.3 396.3,1331.3 397.8,1331.3 399.3,1331.3 400.8,1331.3 402.3,1331.3 403.8,1331.3 405.3,1331.3 406.8,1331.3 408.3,1331.3 409.8,1331.3 411.3,1331.3 412.8,1331.3 414.3,1331.3 415.8,1331.3 417.3,1331.3 418.8,1331.3 420.3,1331.3 421.8,1331.3 423.3,1331.3 424.8,1331.3 426.3,1331.3 427.8,1331.3 429.3,1331.3 430.8,1331.3 432.3,1331.3 433.8,1331.3 435.3,1331.3 436.8,1331.3 438.3,1331.3 439.8,1331.3 441.3,1331.3 442.8,1331.3 444.3,1331.3 445.8,1331.3 447.3,1331.3 448.8,1331.3 450.3,1331.3 451.8,1331.3 453.3,1331.3 454.8,1331.3 456.3,1331.3 457.8,1331.3 459.3,1331.3 460.8,1331.3 462.3,1331.3 463.8,1331.3 465.3,1331.3 466.8,1331.3 468.3,1331.3 469.8,1331.3 471.3,1331.3 472.8,1331.3 474.3,1331.3 475.8,1331.3 477.3,1331.3 478.8,1331.3 480.3,1331.3 481.8,1331.3 483.3,1331.3 484.8,1331.3 486.3,1331.3 487.8,1331.3 489.3,1331.3 490.8,1331.3 492.3,1331.3 493.8,1331.3 495.3,1331.3 496.8,1331.3 498.3,1331.3 499.8,1331.3 501.3,1331.3 502.8,1331.3 504.3,1331.3 505.8,1331.3 507.3,1331.3 508.8,1331.3 510.3,1331.3 511.8,1331.3 513.3,1331.3 514.8,1331.3 516.3,1331.3 517.8,1331.3 519.3,1331.3 520.8,1331.3 522.3,1331.3 523.8,1331.3 525.3,1331.3 526.8,1331.3 528.3,1331.3 529.8,1331.3 531.3,1331.3 532.8,1331.3 534.3,1331.3 535.8,1331.3 537.3,1331.3 538.8,1331.3 540.3,1331.3 541.8,1331.3 543.3,1331.3 544.8,1331.3 546.3,1331.3 547.8,1331.3 549.3,1331.3 550.8,1331.3 552.3,1331.3 553.8,1331.3 555.3,1331.3 556.8,1331.3 558.3,1331.3 559.8,1331.3 561.3,1331.3 562.8,1331.3 564.3,1331.3 565.8,1331.3 567.3,1331.3 568.8,1331.3 570.3,1331.3 571.8,1331.3 573.3,1331.3 574.8,1331.3 576.3,1331.3 577.8,1331.3 579.3,1331.3 580.8,1331.3 582.3,1331.3 583.8,1331.3 585.3,1331.3 586.8,1331.3 588.3,1331.3 589.8,1331.3 591.3,1331.3 592.8,1331.3 594.3,1331.3 595.8,1331.3 597.3,1331.3 598.8,1331.3 600.3,1331.3 601.8,1331.3 603.3,1331.3 604.8,1331.3 606.3,1331.3 607.8,1331.3 609.3,1331.3 610.8,1331.3 612.3,1331.3 613.8,1331.3 615.3,1331.3 616.8,1331.3 618.3,1331.3 619.8,1331.3 621.3,1331.3 622.8,1331.3 624.3,1331.3 625.8,1331.3 627.3,1331.3 628.8,1331.3 630.3,1331.3 631.8,1331.3 633.3,1331.3 634.8,1331.3 636.3,1331.3 637.8,1331.3 639.3,1331.3 640.8,1331.3 642.3,1331.3 643.8,1331.3 645.3,1331.3 646.8,1331.3 648.3,1331.3 649.8,1331.3 651.3,1331.3 652.8,1331.3 654.3,1331.3 655.8,1331.3 657.3,1331.3 658.8,1331.3 660.3,1331.3 661.8,1331.3 663.3,1331.3 664.8,1331.3 666.3,1331.3 667.8,1331.3 669.3,1331.3 670.8,1331.3 672.3,1331.3 673.8,1331.3 675.3,1331.3 676.8,1331.3 678.3,1331.3 679.8,1331.3 681.3,1331.3 682.8,1331.3 684.3,1331.3 685.8,1331.3 687.3,1331.3 688.8,1331.3 690.3,1331.3 691.8,1331.3 693.3,1331.3 694.8,1331.3 696.3,1331.3 697.8,1331.3 699.3,1331.3 700.8,1331.3 702.3,1331.3 703.8,1331.3 705.3,1331.3 706.8,1331.3 708.3,1331.3 709.8,1331.3 711.3,1331.3 712.8,1331.3 714.3,1331.3 715.8,1331.3 717.3,1331.3 718.8,1331.3 720.3,1331.3 721.8,1331.3 723.3,1331.3 724.8,1331.3 726.3,1331.3 727.8,1331.3 729.3,1331.3 730.8,1331.3 732.3,1331.3 733.8,1331.3 735.3,1331.3 736.8,1331.3 738.3,1331.3 739.8,1331.3 741.3,1331.3 742.8,1331.3 744.3,1331.3 745.8,1331.3 747.3,1331.3 748.8,1331.3 750.3,1331.3 751.8,1331.3 753.3,1331.3 754.8,1331.3 756.3,1331.3 757.8,1331.3 759.3,1331.3 760.8,1331.3 762.3,1331.3 763.8,1331.3 765.3,1331.3 766.8,1331.3 768.3,1331.3 769.8,1331.3 771.3,1331.3 772.8,1331.3 774.3,1331.3 775.8,1331.3 777.3,1331.3 778.8,1331.3 780.3,1331.3 781.8,1331.3 783.3,1331.3 784.8,1331.3 786.3,1331.3 787.8,1331.3 789.3,1331.3 790.8,1331.3 792.3,1331.3 793.8,1331.3 795.3,1331.3 796.8,1331.3 798.3,1331.3 799.8,1331.3 801.3,1331.3 802.8,1331.3 804.3,1331.3 805.8,1331.3 807.3,1331.3 808.8,1331.3 810.3,1331.3 811.8,1331.3 813.3,1331.3 814.8,1331.3 816.3,1331.3 817.8,1331.3 819.3,1331.3 820.8,1331.3 822.3,1331.3 823.8,1331.3 825.3,1331.3 826.8,1331.3 828.3,1331.3 829.8,1331.3 831.3,1331.3 832.8,1331.3 834.3,1331.3 835.8,1331.3 837.3,1331.3 838.8,1331.3 840.3,1331.3 841.8,1331.3 843.3,1331.3 844.8,1331.3 846.3,1331.3 847.8,1331.3 849.3,1331.3 850.8,1331.3 852.3,1331.3 853.8,1331.3 855.3,1331.3 856.8,1331.3 858.3,1331.3 859.8,1331.3 861.3,1331.3 862.8,1331.3 864.3,1331.3 865.8,1331.3 867.3,1331.3 868.8,1331.3 870.3,1331.3 871.8,1331.3 873.3,1331.3 874.8,1331.3 876.3,1331.3 877.8,1331.3 879.3,1331.3 880.8,1331.3 882.3,1331.3 883.8,1331.3 885.3,1331.3 886.8,1331.3 888.3,1331.3 889.8,1331.3 891.3,1331.3 892.8,1331.3 894.3,1331.3 895.8,1331.3 897.3,1331.3 898.8,1331.3 900.3,1331.3 901.8,1331.3 903.3,1331.3 904.8,1331.3 906.3,1331.3 907.8,1331.3 909.3,1331.3 910.8,1331.3 912.3,1331.3 913.8,1331.3 915.3,1331.3 916.8,1331.3 918.3,1331.3 919.8,1331.3 921.3,1331.3 922.8,1331.3 924.3,1331.3 925.8,1331.3 927.3,1331.3 928.8,1331.3 930.3,1331.3 931.8,1331.3 933.3,1331.3 934.8,1331.3 936.3,1331.3 937.8,1331.3 939.3,1331.3 940.8,1331.3 942.3,1331.3 943.8,1331.3 945.3,1331.3 946.8,1331.3 948.3,1331.3 949.8,1331.3 951.3,1331.3 952.8,1331.3 954.3,1331.3 955.8,1331.3 957.3,1331.3 958.8,1331.3 960.3,1331.3 961.8,1331.3 963.3,1331.3 964.8,1331.3 966.3,1331.3 967.8,1331.3 969.3,1331.3 970.8,1331.3 972.3,1331.3 973.8,1331.3 975.3,1331.3 976.8,1331.3 978.3,1331.3 979.8,1331.3 981.3,1331.3 982.8,1331.3 984.3,1331.3 985.8,1331.3 987.3,1331.3 988.8,1331.3 990.3,1331.3 991.8,1331.3 993.3,1331.3 994.8,1331.3 996.3,1331.3 997.8,1331.3 999.3,1331.3 1000.8,1331.3 1002.3,1331.3 1003.8,1331.3 1005.3,1331.3 1006.8,1331.3 1008.3,1331.3 1009.8,1331.3 1011.3,1331.3 1012.8,1331.3 1014.3,1331.3 1015.8,1331.3 1017.3,1331.3 1018.8,1331.3 1020.3,1331.3 1021.8,1331.3 1023.3,1331.3 1024.8,1331.3 1026.3,1331.3 1027.8,1331.3 1029.3,1331.3 1030.8,1331.3 1032.3,1331.3 1033.8,1331.3 1035.3,1331.3 1036.8,1331.3 1038.3,1331.3 1039.8,1331.3 1041.3,1331.3 1042.8,1331.3 1044.3,1331.3 1045.8,1331.3 1047.3,1331.3 1048.8,1331.3 1050.3,1331.3 1051.8,1331.3 1053.3,1331.3 1054.8,1331.3 1056.3,1331.3 1057.8,1331.3 1059.3,1331.3 1060.8,1331.3 1062.3,1331.3 1063.8,1331.3 1065.3,1331.3 1066.8,1331.3 1068.3,1331.3 1069.8,1331.3 1071.3,1331.3 1072.8,1331.3 1074.3,1331.3 1075.8,1331.3 1077.3,1331.3 1078.8,1331.3 1080.3,1331.3 1081.8,1331.3 1083.3,1331.3 1084.8,1331.3 1086.3,1331.3 1087.8,1331.3 1089.3,1331.3 1090.8,1331.3 1092.3,1331.3 1093.8,1331.3 1095.3,1331.3 1096.8,1331.3 1098.3,1331.3 1099.8,1331.3 1101.3,1331.3 1102.8,1331.3 1104.3,1331.3 1105.8,1331.3 1107.3,1331.3 1108.8,1331.3 1110.3,1331.3 1111.8,1331.3 1113.3,1331.3 1114.8,1331.3 1116.3,1331.3 1117.8,1331.3 1119.3,1331.3 1120.8,1331.3 1122.3,1331.3 1123.8,1331.3 1125.3,1331.3 1126.8,1331.3 1128.3,1331.3 1129.8,1331.3 1131.3,1331.3 1132.8,1331.3 1134.3,1331.3 1135.8,1331.3 1137.3,1331.3 1138.8,1331.3 1140.3,1331.3 1141.8,1331.3 1143.3,1331.3 1144.8,1331.3 1146.3,1331.3 1147.8,1331.3 1149.3,1331.3 1150.8,1331.3 1152.3,1331.3 1153.8,1331.3 1155.3,1331.3 1156.8,1331.3 1158.3,1331.3 1159.8,1331.3 1161.3,1331.3 1162.8,1331.3 1164.3,1331.3 1165.8,1331.3 1167.3,1331.3 1168.8,1331.3 1170.3,1331.3 1171.8,1331.3 1173.3,1331.3 1174.8,1331.3 1176.3,1331.3 1177.8,1331.3 1179.3,1331.3 1180.8,1331.3 1182.3,1331.3 1183.8,1331.3 1185.3,1331.3 1186.8,1331.3 1188.3,1331.3 1189.8,1331.3 1191.3,1331.3 1192.8,1331.3 1194.3,1331.3 1195.8,1331.3 1197.3,1331.3 1198.8,1331.3 1200.3,1331.3 1201.8,1331.3 1203.3,1331.3 1204.8,1331.3 1206.3,1331.3 1207.8,1331.3 1209.3,1331.3 1210.8,1331.3 1212.3,1331.3 1213.8,1331.3 1215.3,1331.3 1216.8,1331.3 1218.3,1331.3 1219.8,1331.3 1221.3,1331.3 1222.8,1331.3 1224.3,1331.3 1225.8,1331.3 1227.3,1331.3 1228.8,1331.3 1230.3,1331.3 1231.8,1331.3 1233.3,1331.3 1234.8,1331.3 1236.3,1331.3 1237.8,1331.3 1239.3,1331.3 1240.8,1331.3 1242.3,1331.3 1243.8,1331.3 1245.3,1331.3 1246.8,1331.3 1248.3,1331.3 1249.8,1331.3 1251.3,1331.3 1252.8,1331.3 1254.3,1331.3 1255.8,1331.3 1257.3,1331.3 1258.8,1331.3 1260.3,1331.3 1261.8,1331.3 1263.3,1331.3 1264.8,1331.3 1266.3,1331.3 1267.8,1331.3 1269.3,1331.3 1270.8,1331.3 1272.3,1331.3 1273.8,1331.3 1275.3,1331.3 1276.8,1331.3 1278.3,1331.3 1279.8,1331.3 1281.3,1331.3 1282.8,1331.3 1284.3,1331.3 1285.8,1331.3 1287.3,1331.3 1288.8,1331.3 1290.3,1331.3 1291.8,1331.3 1293.3,1331.3 1294.8,1331.3 1296.3,1331.3 1297.8,1331.3 1299.3,1331.3 1300.8,1331.3 1302.3,1331.3 1303.8,1331.3 1305.3,1331.3 1306.8,1331.3 1308.3,1331.3 1309.8,1331.3 1311.3,1331.3 1312.8,1331.3 1314.3,1331.3 1315.8,1331.3 1317.3,1331.3 1318.8,1331.3 1320.3,1331.3 1321.8,1331.3 1323.3,1331.3 1324.8,1331.3 1326.3,1331.3 1327.8,1331.3 1329.3,1331.3 1330.8,1331.3 1332.3,1331.3 1333.8,1331.3 1335.3,1331.3 1336.8,1331.3 1338.3,1331.3 1339.8,1331.3 1341.3,1331.3 1342.8,1331.3 1344.3,1331.3 1345.8,1331.3 1347.3,1331.3 1348.8,1331.3 1350.3,1331.3 1351.8,1331.3 1353.3,1331.3 1354.8,1331.3 1356.3,1331.3 1357.8,1331.3 1359.3,1331.3 1360.8,1331.3 1362.3,1331.3 1363.8,1331.3 1365.3,1331.3 1366.8,1331.3 1368.3,1331.3 1369.8,1331.3 1371.3,1331.3 1372.8,1331.3 1374.3,1331.3 1375.8,1331.3 1377.3,1331.3 1378.8,1331.3 1380.3,1331.3 1381.8,1331.3 1383.3,1331.3 1384.8,1331.2 1386.3,1331.2 1387.8,1331.2 1389.3,1331.1 1390.8,1331.1 1392.3,1331.0 1393.8,1330.8 1395.3,1330.6 1396.8,1330.4 1398.3,1330.1 1399.8,1329.7 1401.3,1329.1 1402.8,1328.5 1404.3,1327.6 1405.8,1326.4 1407.3,1325.0 1408.8,1323.1 1410.3,1320.8 1411.8,1318.0 1413.3,1314.5 1414.8,1310.2 1416.3,1305.0 1417.8,1298.7 1419.3,1291.3 1420.8,1282.4 1422.3,1272.0 1423.8,1259.8 1425.3,1245.7 1426.8,1229.5 1428.3,1211.1 1429.8,1190.3 1431.3,1167.0 1432.8,1141.1 1434.3,1112.6 1435.8,1081.6 1437.3,1048.0 1438.8,1012.1 1440.3,974.0 1441.8,934.1 1443.3,892.7 1444.8,850.2 1446.3,807.1 1447.8,764.0 1449.3,721.4 1450.8,680.1 1452.3,640.6 1453.8,603.6 1455.3,569.7 1456.8,539.6 1457.3,530.5" fill="none" stroke="#0000ff" stroke-width="3.80" stroke-linejoin="round" stroke-linecap="round" />
<polyline points="313.8,1331.1 315.3,1331.1 316.8,1331.1 318.3,1331.0 319.8,1331.0 321.3,1331.0 322.8,1331.0 324.3,1330.9 325.8,1330.9 327.3,1330.8 328.8,1330.8 330.3,1330.7 331.8,1330.7 333.3,1330.6 334.8,1330.5 336.3,1330.4 337.8,1330.3 339.3,1330.3 340.8,1330.1 342.3,1330.0 343.8,1329.9 345.3,1329.8 346.8,1329.6 348.3,1329.5 349.8,1329.3 351.3,1329.1 352.8,1328.9 354.3,1328.7 355.8,1328.4 357.3,1328.2 358.8,1327.9 360.3,1327.6 361.8,1327.3 363.3,1326.9 364.8,1326.5 366.3,1326.1 367.8,1325.7 369.3,1325.2 370.8,1324.7 372.3,1324.2 373.8,1323.6 375.3,1323.0 376.8,1322.3 378.3,1321.7 379.8,1320.9 381.3,1320.1 382.8,1319.3 384.3,1318.4 385.8,1317.4 387.3,1316.4 388.8,1315.4 390.3,1314.2 391.8,1313.1 393.3,1311.8 394.8,1310.5 396.3,1309.1 397.8,1307.6 399.3,1306.0 400.8,1304.4 402.3,1302.7 403.8,1300.9 405.3,1299.0 406.8,1297.1 408.3,1295.0 409.8,1292.9 411.3,1290.6 412.8,1288.3 414.3,1285.9 415.8,1283.3 417.3,1280.7 418.8,1278.0 420.3,1275.1 421.8,1272.2 423.3,1269.2 424.8,1266.1 426.3,1262.8 427.8,1259.5 429.3,1256.1 430.8,1252.5 432.3,1248.9 433.8,1245.2 435.3,1241.4 436.8,1237.5 438.3,1233.5 439.8,1229.4 441.3,1225.2 442.8,1221.0 444.3,1216.7 445.8,1212.3 447.3,1207.8 448.8,1203.3 450.3,1198.8 451.8,1194.1 453.3,1189.5 454.8,1184.8 456.3,1180.1 457.8,1175.3 459.3,1170.6 460.8,1165.8 462.3,1161.1 463.8,1156.3 465.3,1151.6 466.8,1146.9 468.3,1142.2 469.8,1137.5 471.3,1133.0 472.8,1128.4 474.3,1124.0 475.8,1119.6 477.3,1115.3 478.8,1111.1 480.3,1107.0 481.8,1103.1 483.3,1099.2 484.8,1095.5 486.3,1091.9 487.8,1088.5 489.3,1085.2 490.8,1082.1 492.3,1079.2 493.8,1076.4 495.3,1073.8 496.8,1071.4 498.3,1069.2 499.8,1067.2 501.3,1065.4 502.8,1063.8 504.3,1062.4 505.8,1061.2 507.3,1060.2 508.8,1059.5 510.3,1058.9 511.8,1058.5 513.3,1058.3 514.8,1058.4 516.3,1058.6 517.8,1059.0 519.3,1059.7 520.8,1060.4 522.3,1061.4 523.8,1062.5 525.3,1063.7 526.8,1065.0 528.3,1066.5 529.8,1068.0 531.3,1069.6 532.8,1071.2 534.3,1072.9 535.8,1074.6 537.3,1076.4 538.8,1078.1 540.3,1079.9 541.8,1081.6 543.3,1083.3 544.8,1084.8 546.3,1086.3 547.8,1087.5 549.3,1088.6 550.8,1089.4 552.3,1089.9 553.8,1090.0 555.3,1089.6 556.8,1088.8 558.3,1087.5 559.8,1085.6 561.3,1083.0 562.8,1079.9 564.3,1076.1 565.8,1071.7 567.3,1066.6 568.8,1060.9 570.3,1054.7 571.8,1047.9 573.3,1040.6 574.8,1032.9 576.3,1024.9 577.8,1016.7 579.3,1008.4 580.8,1000.1 582.3,991.8 583.8,983.8 585.3,976.2 586.8,969.1 588.3,962.6 589.8,956.9 591.3,952.0 592.8,948.1 594.3,945.3 595.8,943.5 597.3,943.0 598.8,943.7 600.3,945.6 601.8,948.7 603.3,953.0 604.8,958.3 606.3,964.7 607.8,972.0 609.3,980.2 610.8,989.1 612.3,998.6 613.8,1008.6 615.3,1019.0 616.8,1029.6 618.3,1040.3 619.8,1050.9 621.3,1061.4 622.8,1071.6 624.3,1081.4 625.8,1090.6 627.3,1099.2 628.8,1107.2 630.3,1114.3 631.8,1120.7 633.3,1126.3 634.8,1131.0 636.3,1135.0 637.8,1138.2 639.3,1140.7 640.8,1142.7 642.3,1144.2 643.8,1145.4 645.3,1146.3 646.8,1147.1 648.3,1147.9 649.8,1148.8 651.3,1149.9 652.8,1151.3 654.3,1153.2 655.8,1155.4 657.3,1158.2 658.8,1161.5 660.3,1165.3 661.8,1169.7 663.3,1174.6 664.8,1180.0 666.3,1185.8 667.8,1192.1 669.3,1198.8 670.8,1205.7 672.3,1212.9 673.8,1220.3 675.3,1227.8 676.8,1235.3 678.3,1242.7 679.8,1250.1 681.3,1257.2 682.8,1264.1 684.3,1270.7 685.8,1277.0 687.3,1282.9 688.8,1288.4 690.3,1293.6 691.8,1298.3 693.3,1302.5 694.8,1306.4 696.3,1309.9 697.8,1313.0 699.3,1315.7 700.8,1318.1 702.3,1320.3 703.8,1322.1 705.3,1323.6 706.8,1325.0 708.3,1326.1 709.8,1327.1 711.3,1327.9 712.8,1328.5 714.3,1329.1 715.8,1329.5 717.3,1329.9 718.8,1330.2 720.3,1330.4 721.8,1330.6 723.3,1330.8 724.8,1330.9 726.3,1331.0 727.8,1331.1 729.3,1331.1 730.8,1331.2 732.3,1331.2 733.8,1331.2 735.3,1331.2 736.8,1331.2 738.3,1331.3 739.8,1331.3 741.3,1331.3 742.8,1331.3 744.3,1331.3 745.8,1331.3 747.3,1331.3 748.8,1331.3 750.3,1331.3 751.8,1331.3 753.3,1331.3 754.8,1331.3 756.3,1331.3 757.8,1331.3 759.3,1331.3 760.8,1331.3 762.3,1331.3 763.8,1331.3 765.3,1331.3 766.8,1331.2 768.3,1331.2 769.8,1331.2 771.3,1331.2 772.8,1331.2 774.3,1331.2 775.8,1331.2 777.3,1331.2 778.8,1331.2 780.3,1331.2 781.8,1331.2 783.3,1331.2 784.8,1331.2 786.3,1331.2 787.8,1331.1 789.3,1331.1 790.8,1331.1 792.3,1331.1 793.8,1331.1 795.3,1331.1 796.8,1331.1 798.3,1331.1 799.8,1331.0 801.3,1331.0 802.8,1331.0 804.3,1331.0 805.8,1330.9 807.3,1330.9 808.8,1330.9 810.3,1330.9 811.8,1330.8 813.3,1330.8 814.8,1330.8 816.3,1330.7 817.8,1330.7 819.3,1330.7 820.8,1330.6 822.3,1330.6 823.8,1330.5 825.3,1330.5 826.8,1330.4 828.3,1330.4 829.8,1330.3 831.3,1330.2 832.8,1330.2 834.3,1330.1 835.8,1330.0 837.3,1329.9 838.8,1329.9 840.3,1329.8 841.8,1329.7 843.3,1329.6 844.8,1329.5 846.3,1329.4 847.8,1329.2 849.3,1329.1 850.8,1329.0 852.3,1328.9 853.8,1328.7 855.3,1328.6 856.8,1328.4 858.3,1328.2 859.8,1328.1 861.3,1327.9 862.8,1327.7 864.3,1327.5 865.8,1327.3 867.3,1327.1 868.8,1326.8 870.3,1326.6 871.8,1326.3 873.3,1326.1 874.8,1325.8 876.3,1325.5 877.8,1325.2 879.3,1324.9 880.8,1324.6 882.3,1324.2 883.8,1323.8 885.3,1323.5 886.8,1323.1 888.3,1322.7 889.8,1322.2 891.3,1321.8 892.8,1321.3 894.3,1320.8 895.8,1320.3 897.3,1319.8 898.8,1319.3 900.3,1318.7 901.8,1318.1 903.3,1317.5 904.8,1316.9 906.3,1316.2 907.8,1315.6 909.3,1314.9 910.8,1314.1 912.3,1313.4 913.8,1312.6 915.3,1311.8 916.8,1310.9 918.3,1310.1 919.8,1309.2 921.3,1308.3 922.8,1307.3 924.3,1306.3 925.8,1305.3 927.3,1304.3 928.8,1303.2 930.3,1302.1 931.8,1300.9 933.3,1299.7 934.8,1298.5 936.3,1297.3 937.8,1296.0 939.3,1294.7 940.8,1293.3 942.3,1291.9 943.8,1290.5 945.3,1289.0 946.8,1287.5 948.3,1286.0 949.8,1284.4 951.3,1282.8 952.8,1281.1 954.3,1279.4 955.8,1277.7 957.3,1276.0 958.8,1274.1 960.3,1272.3 961.8,1270.4 963.3,1268.5 964.8,1266.5 966.3,1264.5 967.8,1262.5 969.3,1260.4 970.8,1258.3 972.3,1256.2 973.8,1254.0 975.3,1251.8 976.8,1249.6 978.3,1247.3 979.8,1245.0 981.3,1242.6 982.8,1240.2 984.3,1237.8 985.8,1235.4 987.3,1232.9 988.8,1230.4 990.3,1227.9 991.8,1225.4 993.3,1222.8 994.8,1220.2 996.3,1217.6 997.8,1214.9 999.3,1212.3 1000.8,1209.6 1002.3,1206.9 1003.8,1204.2 1005.3,1201.5 1006.8,1198.7 1008.3,1196.0 1009.8,1193.2 1011.3,1190.5 1012.8,1187.7 1014.3,1185.0 1015.8,1182.2 1017.3,1179.4 1018.8,1176.7 1020.3,1173.9 1021.8,1171.2 1023.3,1168.4 1024.8,1165.7 1026.3,1163.0 1027.8,1160.3 1029.3,1157.6 1030.8,1155.0 1032.3,1152.3 1033.8,1149.7 1035.3,1147.1 1036.8,1144.6 1038.3,1142.0 1039.8,1139.6 1041.3,1137.1 1042.8,1134.7 1044.3,1132.3 1045.8,1130.0 1047.3,1127.7 1048.8,1125.4 1050.3,1123.2 1051.8,1121.1 1053.3,1119.0 1054.8,1117.0 1056.3,1115.0 1057.8,1113.1 1059.3,1111.2 1060.8,1109.4 1062.3,1107.7 1063.8,1106.0 1065.3,1104.4 1066.8,1102.9 1068.3,1101.4 1069.8,1100.0 1071.3,1098.7 1072.8,1097.5 1074.3,1096.3 1075.8,1095.2 1077.3,1094.2 1078.8,1093.3 1080.3,1092.4 1081.8,1091.6 1083.3,1091.0 1084.8,1090.4 1086.3,1089.8 1087.8,1089.4 1089.3,1089.1 1090.8,1088.8 1092.3,1088.6 1093.8,1088.5 1095.3,1088.5 1096.8,1088.6 1098.3,1088.7 1099.8,1089.0 1101.3,1089.3 1102.8,1089.7 1104.3,1090.2 1105.8,1090.8 1107.3,1091.5 1108.8,1092.2 1110.3,1093.1 1111.8,1094.0 1113.3,1095.0 1114.8,1096.0 1116.3,1097.2 1117.8,1098.4 1119.3,1099.7 1120.8,1101.1 1122.3,1102.5 1123.8,1104.0 1125.3,1105.6 1126.8,1107.2 1128.3,1108.9 1129.8,1110.7 1131.3,1112.6 1132.8,1114.5 1134.3,1116.4 1135.8,1118.4 1137.3,1120.5 1138.8,1122.6 1140.3,1124.7 1141.8,1126.9 1143.3,1129.2 1144.8,1131.5 1146.3,1133.8 1147.8,1136.1 1149.3,1138.5 1150.8,1140.9 1152.3,1143.4 1153.8,1145.8 1155.3,1148.3 1156.8,1150.8 1158.3,1153.3 1159.8,1155.9 1161.3,1158.4 1162.8,1160.9 1164.3,1163.5 1165.8,1166.0 1167.3,1168.5 1168.8,1171.1 1170.3,1173.5 1171.8,1176.0 1173.3,1178.5 1174.8,1180.9 1176.3,1183.3 1177.8,1185.6 1179.3,1187.9 1180.8,1190.2 1182.3,1192.4 1183.8,1194.6 1185.3,1196.7 1186.8,1198.7 1188.3,1200.7 1189.8,1202.6 1191.3,1204.4 1192.8,1206.2 1194.3,1207.9 1195.8,1209.5 1197.3,1211.0 1198.8,1212.4 1200.3,1213.8 1201.8,1215.0 1203.3,1216.2 1204.8,1217.2 1206.3,1218.2 1207.8,1219.1 1209.3,1219.9 1210.8,1220.6 1212.3,1221.2 1213.8,1221.7 1215.3,1222.1 1216.8,1222.4 1218.3,1222.6 1219.8,1222.7 1221.3,1222.7 1222.8,1222.6 1224.3,1222.3 1225.8,1222.0 1227.3,1221.6 1228.8,1221.0 1230.3,1220.3 1231.8,1219.6 1233.3,1218.7 1234.8,1217.6 1236.3,1216.5 1237.8,1215.2 1239.3,1213.9 1240.8,1212.4 1242.3,1210.8 1243.8,1209.1 1245.3,1207.2 1246.8,1205.3 1248.3,1203.3 1249.8,1201.2 1251.3,1199.0 1252.8,1196.7 1254.3,1194.3 1255.8,1191.9 1257.3,1189.4 1258.8,1186.9 1260.3,1184.3 1261.8,1181.7 1263.3,1179.1 1264.8,1176.5 1266.3,1173.9 1267.8,1171.2 1269.3,1168.6 1270.8,1166.1 1272.3,1163.6 1273.8,1161.1 1275.3,1158.7 1276.8,1156.3 1278.3,1154.1 1279.8,1151.9 1281.3,1149.9 1282.8,1148.0 1284.3,1146.1 1285.8,1144.5 1287.3,1142.9 1288.8,1141.5 1290.3,1140.3 1291.8,1139.2 1293.3,1138.3 1294.8,1137.5 1296.3,1137.0 1297.8,1136.6 1299.3,1136.4 1300.8,1136.4 1302.3,1136.5 1303.8,1136.9 1305.3,1137.5 1306.8,1138.2 1308.3,1139.1 1309.8,1140.3 1311.3,1141.6 1312.8,1143.1 1314.3,1144.7 1315.8,1146.6 1317.3,1148.6 1318.8,1150.8 1320.3,1153.1 1321.8,1155.6 1323.3,1158.3 1324.8,1161.1 1326.3,1164.0 1327.8,1167.0 1329.3,1170.2 1330.8,1173.5 1332.3,1176.9 1333.8,1180.3 1335.3,1183.9 1336.8,1187.5 1338.3,1191.2 1339.8,1194.9 1341.3,1198.7 1342.8,1202.5 1344.3,1206.3 1345.8,1210.2 1347.3,1214.0 1348.8,1217.9 1350.3,1221.8 1351.8,1225.6 1353.3,1229.4 1354.8,1233.2 1356.3,1236.9 1357.8,1240.7 1359.3,1244.3 1360.8,1247.9 1362.3,1251.5 1363.8,1254.9 1365.3,1258.3 1366.8,1261.7 1368.3,1264.9 1369.8,1268.1 1371.3,1271.1 1372.8,1274.1 1374.3,1277.0 1375.8,1279.9 1377.3,1282.6 1378.8,1285.2 1380.3,1287.7 1381.8,1290.2 1383.3,1292.5 1384.8,1294.7 1386.3,1296.9 1387.8,1298.9 1389.3,1300.8 1390.8,1302.6 1392.3,1304.3 1393.8,1305.9 1395.3,1307.4 1396.8,1308.7 1398.3,1309.8 1399.8,1310.8 1401.3,1311.6 1402.8,1312.1 1404.3,1312.4 1405.8,1312.3 1407.3,1311.9 1408.8,1311.1 1410.3,1309.7 1411.8,1307.7 1413.3,1305.0 1414.8,1301.5 1416.3,1297.0 1417.8,1291.3 1419.3,1284.5 1420.8,1276.2 1422.3,1266.3 1423.8,1254.6 1425.3,1240.9 1426.8,1225.2 1428.3,1207.1 1429.8,1186.7 1431.3,1163.7 1432.8,1138.1 1434.3,1109.9 1435.8,1079.1 1437.3,1045.8 1438.8,1010.1 1440.3,972.2 1441.8,932.5 1443.3,891.2 1444.8,848.8 1446.3,805.9 1447.8,762.9 1449.3,720.4 1450.8,679.2 1452.3,639.8 1453.8,602.8 1455.3,569.1 1456.8,539.1 1457.3,530.0" fill="none" stroke="#008000" stroke-width="4.00" stroke-linejoin="round" stroke-linecap="round" />
</g>
<line x1="1166.30" y1="889.10" x2="1211.80" y2="889.10" stroke="#0000ff" stroke-width="4.00" stroke-linecap="round"/>
<line x1="1166.30" y1="939.40" x2="1211.80" y2="939.40" stroke="#008000" stroke-width="4.00" stroke-linecap="round"/>
<!-- labels -->
<g id="L_A" transform="translate(183.92 35.80) scale(1.0102 1.0000)"><text x="0.00" y="0.00" font-size="41.50" fill="#000" stroke="#000" stroke-width="0.35">A</text></g>
<g id="L_title" transform="translate(182.74 132.90) scale(1.0556 1.0000)"><text x="0.00" y="0.00" font-size="42.30" fill="#ff00ff" stroke="#ff00ff" stroke-width="0.35">Methanol-d</text><text x="211.62" y="16.92" font-size="27.92" fill="#ff00ff" stroke="#ff00ff" stroke-width="0.35">4</text><text x="227.15" y="0.00" font-size="42.30" fill="#000" stroke="#000" stroke-width="0.35"> - Carbon Dioxide</text></g>
<g id="L_before" transform="translate(324.98 215.70) scale(1.0899 1.0000)"><text x="0.00" y="0.00" font-size="49.40" fill="#000" stroke="#000" stroke-width="0.35">Before Irradiation</text></g>
<g id="L_after" transform="translate(327.40 281.70) scale(1.0831 1.0000)"><text x="0.00" y="0.00" font-size="49.40" fill="#000" stroke="#000" stroke-width="0.35">After Irradiation</text></g>
<g id="L_nu3co2" transform="translate(808.40 29.60) scale(1.0222 1.0000)"><text class="n" transform="translate(-6.85 0) skewX(-20.0) scale(1.145 1)" font-size="37.05" fill="#000" stroke="#000" stroke-width="0.00">ν</text><text x="12.69" y="15.21" font-size="26.52" fill="#000" stroke="#000" stroke-width="0.35">3</text><text x="27.43" y="0.00" font-size="39.00" fill="#000" stroke="#000" stroke-width="0.35">(CO</text><text x="98.92" y="15.21" font-size="26.52" fill="#000" stroke="#000" stroke-width="0.35">2</text><text x="113.67" y="0.00" font-size="39.00" fill="#000" stroke="#000" stroke-width="0.35">)</text></g>
<g id="L_nu3_13co2" transform="translate(933.40 401.80) rotate(-90) scale(1.0433 1.0600)"><text class="n" transform="translate(-4.70 0) skewX(-20.0) scale(0.815 1)" font-size="35.72" fill="#000" stroke="#000" stroke-width="0.00">ν</text><text x="11.98" y="14.66" font-size="26.70" fill="#000" stroke="#000" stroke-width="0.35">3</text><text x="26.83" y="0.00" font-size="37.60" fill="#000" stroke="#000" stroke-width="0.35">(</text><text x="39.35" y="-16.92" font-size="26.70" fill="#000" stroke="#000" stroke-width="0.35">13</text><text x="69.05" y="0.00" font-size="37.60" fill="#000" stroke="#000" stroke-width="0.35">CO</text><text x="125.45" y="14.66" font-size="26.70" fill="#000" stroke="#000" stroke-width="0.35">2</text><text x="140.29" y="0.00" font-size="37.60" fill="#000" stroke="#000" stroke-width="0.35">)</text></g>
<g id="L_nu1nu3" transform="translate(205.60 542.50) scale(1.1208 1.0000)"><text class="n" transform="translate(-5.77 0) skewX(-20.0) scale(1.044 1)" font-size="34.20" fill="#000" stroke="#000" stroke-width="0.00">ν</text><text x="10.68" y="15.84" font-size="24.48" fill="#000" stroke="#000" stroke-width="0.35">1</text><text x="24.29" y="0.00" font-size="36.00" fill="#000" stroke="#000" stroke-width="0.35">+</text><text class="n" transform="translate(43.67 0) skewX(-20.0) scale(1.044 1)" font-size="34.20" fill="#000" stroke="#000" stroke-width="0.00">ν</text><text x="60.12" y="15.84" font-size="24.48" fill="#000" stroke="#000" stroke-width="0.35">3</text><text x="73.73" y="0.00" font-size="36.00" fill="#000" stroke="#000" stroke-width="0.35">(CO</text><text x="139.72" y="15.84" font-size="24.48" fill="#000" stroke="#000" stroke-width="0.35">2</text><text x="153.34" y="0.00" font-size="36.00" fill="#000" stroke="#000" stroke-width="0.35">)</text></g>
<g id="L_2nu2nu3" transform="translate(305.24 605.00) scale(1.1353 1.0000)"><text x="0.00" y="0.00" font-size="36.00" fill="#000" stroke="#000" stroke-width="0.35">2</text><text class="n" transform="translate(18.40 0) skewX(-20.0) scale(1.031 1)" font-size="34.20" fill="#000" stroke="#000" stroke-width="0.00">ν</text><text x="34.63" y="15.84" font-size="24.48" fill="#000" stroke="#000" stroke-width="0.35">2</text><text x="48.25" y="0.00" font-size="36.00" fill="#000" stroke="#000" stroke-width="0.35">+</text><text class="n" transform="translate(67.64 0) skewX(-20.0) scale(1.031 1)" font-size="34.20" fill="#000" stroke="#000" stroke-width="0.00">ν</text><text x="83.88" y="15.84" font-size="24.48" fill="#000" stroke="#000" stroke-width="0.35">3</text><text x="97.49" y="0.00" font-size="36.00" fill="#000" stroke="#000" stroke-width="0.35">(CO</text><text x="163.48" y="15.84" font-size="24.48" fill="#000" stroke="#000" stroke-width="0.35">2</text><text x="177.10" y="0.00" font-size="36.00" fill="#000" stroke="#000" stroke-width="0.35">)</text></g>
<g id="L_nu1cd3oh" transform="translate(366.60 666.50) scale(1.1420 1.0000)"><text class="n" transform="translate(-5.50 0) skewX(-20.0) scale(1.025 1)" font-size="33.25" fill="#000" stroke="#000" stroke-width="0.00">ν</text><text x="10.19" y="15.05" font-size="23.80" fill="#000" stroke="#000" stroke-width="0.35">1</text><text x="23.43" y="0.00" font-size="35.00" fill="#000" stroke="#000" stroke-width="0.35">(CD</text><text x="85.63" y="15.05" font-size="23.80" fill="#000" stroke="#000" stroke-width="0.35">3</text><text x="98.87" y="0.00" font-size="35.00" fill="#000" stroke="#000" stroke-width="0.35">OH)</text></g>
<g id="L_m_nu1" transform="translate(814.10 601.20) scale(0.7989 1.0000)"><text class="n" transform="translate(-8.76 0) skewX(-20.0) scale(1.464 1)" font-size="37.05" fill="#ff00ff" stroke="#ff00ff" stroke-width="0.00">ν</text><text x="16.23" y="15.21" font-size="26.52" fill="#ff00ff" stroke="#ff00ff" stroke-width="0.35">1</text></g>
<g id="L_m_nu2" transform="translate(909.40 525.30) scale(1.0082 1.0000)"><text class="n" transform="translate(-6.94 0) skewX(-20.0) scale(1.160 1)" font-size="37.05" fill="#ff00ff" stroke="#ff00ff" stroke-width="0.00">ν</text><text x="12.86" y="15.21" font-size="26.52" fill="#ff00ff" stroke="#ff00ff" stroke-width="0.35">2</text></g>
<g id="L_m_nu9" transform="translate(921.80 582.90) scale(0.9958 1.0000)"><text class="n" transform="translate(-7.03 0) skewX(-20.0) scale(1.175 1)" font-size="37.05" fill="#ff00ff" stroke="#ff00ff" stroke-width="0.00">ν</text><text x="13.02" y="15.21" font-size="26.52" fill="#ff00ff" stroke="#ff00ff" stroke-width="0.35">9</text></g>
<g id="L_nuco" transform="translate(993.20 548.30) scale(1.0739 1.0000)"><text class="n" transform="translate(-7.81 0) skewX(-20.0) scale(1.090 1)" font-size="44.40" fill="#000" stroke="#000" stroke-width="0.00">ν</text><text x="12.20" y="0.00" font-size="37.00" fill="#000" stroke="#000" stroke-width="0.35">(CO)</text></g>
<g id="L_m_nu3" transform="translate(984.70 629.20) scale(0.9687 1.0000)"><text class="n" transform="translate(-7.23 0) skewX(-20.0) scale(1.208 1)" font-size="37.05" fill="#ff00ff" stroke="#ff00ff" stroke-width="0.00">ν</text><text x="13.39" y="15.21" font-size="26.52" fill="#ff00ff" stroke="#ff00ff" stroke-width="0.35">3</text></g>
<g id="L_m_2nu11" transform="translate(1025.03 620.00) scale(1.1149 1.0000)"><text x="0.00" y="0.00" font-size="37.00" fill="#ff00ff" stroke="#ff00ff" stroke-width="0.35">2</text><text class="n" transform="translate(18.88 0) skewX(-20.0) scale(1.049 1)" font-size="35.15" fill="#ff00ff" stroke="#ff00ff" stroke-width="0.00">ν</text><text x="35.87" y="15.17" font-size="25.16" fill="#ff00ff" stroke="#ff00ff" stroke-width="0.35">11</text><text x="63.85" y="0.00" font-size="37.00" fill="#ff00ff" stroke="#ff00ff" stroke-width="0.35">/2</text><text class="n" transform="translate(93.01 0) skewX(-20.0) scale(1.049 1)" font-size="35.15" fill="#ff00ff" stroke="#ff00ff" stroke-width="0.00">ν</text><text x="110.00" y="15.17" font-size="25.16" fill="#ff00ff" stroke="#ff00ff" stroke-width="0.35">7</text></g>
<g id="L_nuceo" transform="translate(1123.80 653.90) scale(1.0630 1.0000)"><text class="n" transform="translate(-5.91 0) skewX(-20.0) scale(1.101 1)" font-size="33.25" fill="#000" stroke="#000" stroke-width="0.00">ν</text><text x="10.95" y="15.05" font-size="25.90" fill="#000" stroke="#000" stroke-width="0.35">C=O</text></g>
<g id="L_m_nu4510" transform="translate(1407.90 613.30) rotate(-90) scale(1.0682 1.0000)"><text class="n" transform="translate(-6.02 0) skewX(-20.0) scale(1.095 1)" font-size="34.04" fill="#ff00ff" stroke="#ff00ff" stroke-width="0.00">ν</text><text x="11.15" y="15.91" font-size="27.38" fill="#ff00ff" stroke="#ff00ff" stroke-width="0.35">4</text><text x="26.38" y="0.00" font-size="37.00" fill="#ff00ff" stroke="#ff00ff" stroke-width="0.35">/</text><text class="n" transform="translate(34.94 0) skewX(-20.0) scale(1.095 1)" font-size="34.04" fill="#ff00ff" stroke="#ff00ff" stroke-width="0.00">ν</text><text x="52.12" y="15.91" font-size="27.38" fill="#ff00ff" stroke="#ff00ff" stroke-width="0.35">5</text><text x="67.34" y="0.00" font-size="37.00" fill="#ff00ff" stroke="#ff00ff" stroke-width="0.35">/</text><text class="n" transform="translate(75.90 0) skewX(-20.0) scale(1.095 1)" font-size="34.04" fill="#ff00ff" stroke="#ff00ff" stroke-width="0.00">ν</text><text x="93.08" y="15.91" font-size="27.38" fill="#ff00ff" stroke="#ff00ff" stroke-width="0.35">10</text></g>
<g id="L_m_nu6" transform="translate(1428.60 607.40) scale(1.0103 1.0000)"><text class="n" transform="translate(-6.93 0) skewX(-20.0) scale(1.158 1)" font-size="37.05" fill="#ff00ff" stroke="#ff00ff" stroke-width="0.00">ν</text><text x="12.83" y="15.21" font-size="26.52" fill="#ff00ff" stroke="#ff00ff" stroke-width="0.35">6</text></g>
<g id="L_m_nu11" transform="translate(1455.80 581.90) scale(0.9064 1.0000)"><text class="n" transform="translate(-7.72 0) skewX(-20.0) scale(1.291 1)" font-size="37.05" fill="#ff00ff" stroke="#ff00ff" stroke-width="0.00">ν</text><text x="14.31" y="15.21" font-size="26.52" fill="#ff00ff" stroke="#ff00ff" stroke-width="0.35">11</text></g>
<g id="L_m_nu7" transform="translate(1499.10 621.60) scale(1.0153 1.0000)"><text class="n" transform="translate(-6.90 0) skewX(-20.0) scale(1.152 1)" font-size="37.05" fill="#ff00ff" stroke="#ff00ff" stroke-width="0.00">ν</text><text x="12.77" y="15.21" font-size="26.52" fill="#ff00ff" stroke="#ff00ff" stroke-width="0.35">7</text></g>
<g id="L_m_nu8" transform="translate(1530.40 620.40) scale(1.0094 1.0000)"><text class="n" transform="translate(-6.94 0) skewX(-20.0) scale(1.159 1)" font-size="37.05" fill="#ff00ff" stroke="#ff00ff" stroke-width="0.00">ν</text><text x="12.85" y="15.21" font-size="26.52" fill="#ff00ff" stroke="#ff00ff" stroke-width="0.35">8</text></g>
<g id="L_nu2co2" transform="translate(1572.50 560.00) scale(1.0379 1.0000)"><text class="n" transform="translate(-6.75 0) skewX(-20.0) scale(1.127 1)" font-size="37.05" fill="#000" stroke="#000" stroke-width="0.00">ν</text><text x="12.49" y="15.21" font-size="24.57" fill="#000" stroke="#000" stroke-width="0.35">2</text><text x="26.16" y="0.00" font-size="39.00" fill="#000" stroke="#000" stroke-width="0.35">(CO</text><text x="97.65" y="15.21" font-size="24.57" fill="#000" stroke="#000" stroke-width="0.35">2</text><text x="111.31" y="0.00" font-size="39.00" fill="#000" stroke="#000" stroke-width="0.35">)</text></g>
<g id="L_xtA" transform="translate(695.30 826.90) scale(1.0365 1.0000)"><text x="0.00" y="0.00" font-size="43.00" fill="#000" stroke="#000" stroke-width="0.35">Wavenumber (cm</text><text x="339.30" y="-21.07" font-size="30.10" fill="#000" stroke="#000" stroke-width="0.35">-1</text><text x="366.06" y="0.00" font-size="43.00" fill="#000" stroke="#000" stroke-width="0.35">)</text></g>
<g id="L_ytA" transform="translate(34.40 496.09) rotate(-90) scale(1.0168 1.0000)"><text x="0.00" y="0.00" font-size="44.00" fill="#000" stroke="#000" stroke-width="0.35">Absorbance</text></g>
<g id="L_B" transform="translate(347.37 903.40) scale(1.0393 1.0000)"><text x="0.00" y="0.00" font-size="41.40" fill="#000" stroke="#000" stroke-width="0.35">B</text></g>
<g id="L_nu2h2co" transform="translate(524.90 914.40) scale(1.0795 1.0000)"><text class="n" transform="translate(-6.15 0) skewX(-20.0) scale(1.084 1)" font-size="35.15" fill="#000" stroke="#000" stroke-width="0.00">ν</text><text x="11.40" y="15.91" font-size="24.42" fill="#000" stroke="#000" stroke-width="0.35">2</text><text x="24.98" y="0.00" font-size="37.00" fill="#000" stroke="#000" stroke-width="0.35">(H</text><text x="64.02" y="15.91" font-size="24.42" fill="#000" stroke="#000" stroke-width="0.35">2</text><text x="77.60" y="0.00" font-size="37.00" fill="#000" stroke="#000" stroke-width="0.35">CO)</text></g>
<g id="L_nu2h2o" transform="translate(654.50 1111.00) scale(1.0761 1.0000)"><text class="n" transform="translate(-6.26 0) skewX(-20.0) scale(1.087 1)" font-size="35.62" fill="#000" stroke="#000" stroke-width="0.00">ν</text><text x="11.59" y="15.75" font-size="24.75" fill="#000" stroke="#000" stroke-width="0.35">2</text><text x="25.35" y="0.00" font-size="37.50" fill="#000" stroke="#000" stroke-width="0.35">(H</text><text x="64.92" y="15.75" font-size="24.75" fill="#000" stroke="#000" stroke-width="0.35">2</text><text x="78.69" y="0.00" font-size="37.50" fill="#000" stroke="#000" stroke-width="0.35">O)</text></g>
<g id="L_nu2d2o" transform="translate(1238.80 1100.90) scale(1.0593 1.0000)"><text class="n" transform="translate(-6.44 0) skewX(-20.0) scale(1.105 1)" font-size="36.10" fill="#000" stroke="#000" stroke-width="0.00">ν</text><text x="11.93" y="15.58" font-size="25.27" fill="#000" stroke="#000" stroke-width="0.35">2</text><text x="25.98" y="0.00" font-size="38.00" fill="#000" stroke="#000" stroke-width="0.35">(D</text><text x="66.08" y="15.58" font-size="25.27" fill="#000" stroke="#000" stroke-width="0.35">2</text><text x="80.13" y="0.00" font-size="38.00" fill="#000" stroke="#000" stroke-width="0.35">O)</text></g>
<g id="L_fit" transform="translate(1224.47 904.90) scale(1.0084 1.0000)"><text x="0.00" y="0.00" font-size="36.60" fill="#000" stroke="#000" stroke-width="0.35">Fit</text></g>
<g id="L_sumfit" transform="translate(1224.19 955.70) scale(1.0259 1.0000)"><text x="0.00" y="0.00" font-size="36.60" fill="#000" stroke="#000" stroke-width="0.35">Sum of fits</text></g>
<g id="L_xtB" transform="translate(704.40 1507.60) scale(1.0487 1.0000)"><text x="0.00" y="0.00" font-size="42.50" fill="#000" stroke="#000" stroke-width="0.35">Wavenumber (cm</text><text x="335.35" y="-20.82" font-size="29.75" fill="#000" stroke="#000" stroke-width="0.35">-1</text><text x="361.80" y="0.00" font-size="42.50" fill="#000" stroke="#000" stroke-width="0.35">)</text></g>
<g id="L_ytB" transform="translate(138.90 1249.59) rotate(-90) scale(1.0018 1.0000)"><text x="0.00" y="0.00" font-size="45.00" fill="#000" stroke="#000" stroke-width="0.35">Absorbance</text></g>
</svg></body></html>
